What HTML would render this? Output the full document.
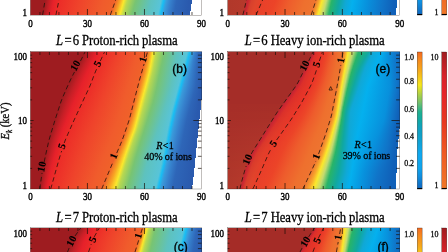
<!DOCTYPE html>
<html><head><meta charset="utf-8"><title>figure</title><style>html,body{margin:0;padding:0;background:#fff}
#w{position:relative;width:448px;height:252px;overflow:hidden;background:#fff}
.p{position:absolute}
.p i{display:block;height:1px}
svg{position:absolute;left:0;top:0}
text{font-family:"Liberation Serif",serif;fill:#000;stroke:#000;stroke-width:.25px}
.tt{font-size:12.7px;letter-spacing:-.085px}
.tk{font-size:9.3px;stroke-width:.35px}
.an{font-size:10.1px;letter-spacing:-.12px}
.cb{font-size:8.2px;stroke-width:.25px}
.yl{font-size:10.6px}
.cl{font-size:10.3px;font-weight:bold;stroke-width:.15px}
.pl{font-family:"Liberation Sans",sans-serif;font-size:12px;stroke-width:.35px}</style></head><body><div id="w">
<div class="p" style="left:30px;top:51px"><i style="opacity:.35;width:171.5px;background:linear-gradient(90deg,#9e1c20 54.8px,#c61f26 60.8px,#e6212a 66.9px,#ec2c28 74.3px,#ef432b 89.8px,#f05c2c 108.7px,#f0622a 117.4px,#f8a424 120.4px,#fbe82c 122.9px,#b8d850 126.3px,#78c472 134.1px,#5ec2be 147.1px,#58c4d8 157px,#18bef4 159.6px,#3a9ada 162.6px,#3680cc 164.6px,#2e66b8 168.6px,#2a5aae 176.2px)"></i><i style="width:171.5px;background:linear-gradient(90deg,#9e1c20 54.8px,#c61f26 60.8px,#e6212a 66.9px,#ec2c28 74.3px,#ef432b 89.8px,#f05c2c 108.7px,#f0622a 117.4px,#f8a424 120.4px,#fbe82c 122.9px,#b8d850 126.3px,#78c472 134.1px,#5ec2be 147.1px,#58c4d8 157px,#18bef4 159.6px,#3a9ada 162.6px,#3680cc 164.6px,#2e66b8 168.6px,#2a5aae 176.2px)"></i><i style="width:171.5px;background:linear-gradient(90deg,#9e1c20 54.3px,#c61f26 60.3px,#e6212a 66.4px,#ec2c28 73.8px,#ef432b 89.4px,#f05c2c 108.4px,#f0622a 117.1px,#f8a424 120.2px,#fbe82c 122.7px,#b8d850 126.1px,#78c472 133.9px,#5ec2be 146.9px,#58c4d8 156.8px,#18bef4 159.4px,#3a9ada 162.4px,#3680cc 164.4px,#2e66b8 168.6px,#2a5aae 176.1px)"></i><i style="width:171.5px;background:linear-gradient(90deg,#9e1c20 53.8px,#c61f26 59.8px,#e6212a 65.9px,#ec2c28 73.3px,#ef432b 89px,#f05c2c 108.1px,#f0622a 116.8px,#f8a424 120px,#fbe82c 122.6px,#b8d850 125.9px,#78c472 133.7px,#5ec2be 146.7px,#58c4d8 156.5px,#18bef4 159.1px,#3a9ada 162.1px,#3680cc 164.3px,#2e66b8 168.5px,#2a5aae 175.9px)"></i><i style="width:171.5px;background:linear-gradient(90deg,#9e1c20 53.3px,#c61f26 59.4px,#e6212a 65.4px,#ec2c28 72.9px,#ef432b 88.6px,#f05c2c 107.8px,#f0622a 116.5px,#f8a424 119.7px,#fbe82c 122.4px,#b8d850 125.7px,#78c472 133.5px,#5ec2be 146.6px,#58c4d8 156.3px,#18bef4 158.9px,#3a9ada 161.9px,#3680cc 164.1px,#2e66b8 168.4px,#2a5aae 175.8px)"></i><i style="width:171.5px;background:linear-gradient(90deg,#9e1c20 52.8px,#c61f26 58.9px,#e6212a 65px,#ec2c28 72.4px,#ef432b 88.2px,#f05c2c 107.5px,#f0622a 116.2px,#f8a424 119.5px,#fbe82c 122.2px,#b8d850 125.5px,#78c472 133.3px,#5ec2be 146.4px,#58c4d8 156px,#18bef4 158.6px,#3a9ada 161.6px,#3680cc 163.9px,#2e66b8 168.3px,#2a5aae 175.7px)"></i><i style="width:171.5px;background:linear-gradient(90deg,#9e1c20 52.3px,#c61f26 58.4px,#e6212a 64.5px,#ec2c28 71.9px,#ef432b 87.8px,#f05c2c 107.1px,#f0622a 115.9px,#f8a424 119.3px,#fbe82c 122.1px,#b8d850 125.4px,#78c472 133px,#5ec2be 146.2px,#58c4d8 155.7px,#18bef4 158.3px,#3a9ada 161.3px,#3680cc 163.8px,#2e66b8 168.2px,#2a5aae 175.5px)"></i><i style="width:171.5px;background:linear-gradient(90deg,#9e1c20 51.8px,#c61f26 57.9px,#e6212a 64px,#ec2c28 71.5px,#ef432b 87.4px,#f05c2c 106.8px,#f0622a 115.6px,#f8a424 119.1px,#fbe82c 121.9px,#b8d850 125.2px,#78c472 132.8px,#5ec2be 146.1px,#58c4d8 155.5px,#18bef4 158.1px,#3a9ada 161.1px,#3680cc 163.6px,#2e66b8 168.1px,#2a5aae 175.4px)"></i><i style="width:171.5px;background:linear-gradient(90deg,#9e1c20 51.3px,#c61f26 57.4px,#e6212a 63.5px,#ec2c28 71px,#ef432b 87px,#f05c2c 106.5px,#f0622a 115.4px,#f8a424 118.9px,#fbe82c 121.7px,#b8d850 125px,#78c472 132.6px,#5ec2be 145.9px,#58c4d8 155.2px,#18bef4 157.8px,#3a9ada 160.8px,#3680cc 163.4px,#2e66b8 168px,#2a5aae 175.2px)"></i><i style="width:171.5px;background:linear-gradient(90deg,#9e1c20 50.7px,#c61f26 56.9px,#e6212a 63px,#ec2c28 70.6px,#ef432b 86.6px,#f05c2c 106.2px,#f0622a 115.1px,#f8a424 118.6px,#fbe82c 121.5px,#b8d850 124.8px,#78c472 132.4px,#5ec2be 145.7px,#58c4d8 155px,#18bef4 157.6px,#3a9ada 160.6px,#3680cc 163.3px,#2e66b8 167.9px,#2a5aae 175.1px)"></i><i style="width:171.5px;background:linear-gradient(90deg,#9e1c20 50.2px,#c61f26 56.4px,#e6212a 62.5px,#ec2c28 70.1px,#ef432b 86.2px,#f05c2c 105.8px,#f0622a 114.8px,#f8a424 118.4px,#fbe82c 121.4px,#b8d850 124.6px,#78c472 132.2px,#5ec2be 145.6px,#58c4d8 154.7px,#18bef4 157.3px,#3a9ada 160.3px,#3680cc 163.1px,#2e66b8 167.9px,#2a5aae 174.9px)"></i><i style="width:171.5px;background:linear-gradient(90deg,#9e1c20 49.7px,#c61f26 55.9px,#e6212a 62px,#ec2c28 69.6px,#ef432b 85.8px,#f05c2c 105.5px,#f0622a 114.5px,#f8a424 118.2px,#fbe82c 121.2px,#b8d850 124.4px,#78c472 132px,#5ec2be 145.4px,#58c4d8 154.5px,#18bef4 157.1px,#3a9ada 160.1px,#3680cc 162.9px,#2e66b8 167.8px,#2a5aae 174.8px)"></i><i style="width:171.5px;background:linear-gradient(90deg,#9e1c20 49.1px,#c61f26 55.3px,#e6212a 61.5px,#ec2c28 69.2px,#ef432b 85.4px,#f05c2c 105.2px,#f0622a 114.2px,#f8a424 118px,#fbe82c 121px,#b8d850 124.2px,#78c472 131.8px,#5ec2be 145.2px,#58c4d8 154.2px,#18bef4 156.8px,#3a9ada 159.8px,#3680cc 162.8px,#2e66b8 167.7px,#2a5aae 174.6px)"></i><i style="width:171.5px;background:linear-gradient(90deg,#9e1c20 48.6px,#c61f26 54.8px,#e6212a 61.1px,#ec2c28 68.7px,#ef432b 85px,#f05c2c 104.9px,#f0622a 113.9px,#f8a424 117.7px,#fbe82c 120.8px,#b8d850 124.1px,#78c472 131.6px,#5ec2be 145px,#58c4d8 153.9px,#18bef4 156.5px,#3a9ada 159.5px,#3680cc 162.6px,#2e66b8 167.6px,#2a5aae 174.5px)"></i><i style="width:171.5px;background:linear-gradient(90deg,#9e1c20 48px,#c61f26 54.3px,#e6212a 60.6px,#ec2c28 68.2px,#ef432b 84.6px,#f05c2c 104.6px,#f0622a 113.6px,#f8a424 117.5px,#fbe82c 120.7px,#b8d850 123.9px,#78c472 131.3px,#5ec2be 144.9px,#58c4d8 153.7px,#18bef4 156.3px,#3a9ada 159.3px,#3680cc 162.5px,#2e66b8 167.5px,#2a5aae 174.4px)"></i><i style="width:171.5px;background:linear-gradient(90deg,#9e1c20 47.5px,#c61f26 53.8px,#e6212a 60.1px,#ec2c28 67.8px,#ef432b 84.2px,#f05c2c 104.2px,#f0622a 113.4px,#f8a424 117.3px,#fbe82c 120.5px,#b8d850 123.7px,#78c472 131.1px,#5ec2be 144.7px,#58c4d8 153.4px,#18bef4 156px,#3a9ada 159px,#3680cc 162.3px,#2e66b8 167.4px,#2a5aae 174.2px)"></i><i style="width:171.5px;background:linear-gradient(90deg,#9e1c20 46.9px,#c61f26 53.3px,#e6212a 59.6px,#ec2c28 67.3px,#ef432b 83.8px,#f05c2c 103.9px,#f0622a 113.1px,#f8a424 117.1px,#fbe82c 120.3px,#b8d850 123.5px,#78c472 130.9px,#5ec2be 144.5px,#58c4d8 153.2px,#18bef4 155.8px,#3a9ada 158.8px,#3680cc 162.1px,#2e66b8 167.3px,#2a5aae 174.1px)"></i><i style="width:171.5px;background:linear-gradient(90deg,#9e1c20 46.4px,#c61f26 52.7px,#e6212a 59.1px,#ec2c28 66.8px,#ef432b 83.4px,#f05c2c 103.6px,#f0622a 112.8px,#f8a424 116.8px,#fbe82c 120.1px,#b8d850 123.3px,#78c472 130.7px,#5ec2be 144.4px,#58c4d8 152.9px,#18bef4 155.5px,#3a9ada 158.5px,#3680cc 162px,#2e66b8 167.2px,#2a5aae 173.9px)"></i><i style="width:171.5px;background:linear-gradient(90deg,#9e1c20 45.9px,#c61f26 52.2px,#e6212a 58.6px,#ec2c28 66.4px,#ef432b 83px,#f05c2c 103.3px,#f0622a 112.5px,#f8a424 116.6px,#fbe82c 119.9px,#b8d850 123.1px,#78c472 130.5px,#5ec2be 144.2px,#58c4d8 152.7px,#18bef4 155.3px,#3a9ada 158.3px,#3680cc 161.8px,#2e66b8 167.1px,#2a5aae 173.8px)"></i><i style="width:171.5px;background:linear-gradient(90deg,#9e1c20 45.3px,#c61f26 51.7px,#e6212a 58.1px,#ec2c28 66px,#ef432b 82.6px,#f05c2c 103px,#f0622a 112.2px,#f8a424 116.3px,#fbe82c 119.7px,#b8d850 122.9px,#78c472 130.3px,#5ec2be 144px,#58c4d8 152.4px,#18bef4 155px,#3a9ada 158px,#3680cc 161.6px,#2e66b8 167.1px,#2a5aae 173.6px)"></i><i style="width:171.5px;background:linear-gradient(90deg,#9e1c20 44.8px,#c61f26 51.2px,#e6212a 57.6px,#ec2c28 65.5px,#ef432b 82.2px,#f05c2c 102.6px,#f0622a 111.9px,#f8a424 116.1px,#fbe82c 119.5px,#b8d850 122.7px,#78c472 130.1px,#5ec2be 143.9px,#58c4d8 152.2px,#18bef4 154.8px,#3a9ada 157.8px,#3680cc 161.5px,#2e66b8 167px,#2a5aae 173.5px)"></i><i style="width:171.5px;background:linear-gradient(90deg,#9e1c20 44.2px,#c61f26 50.7px,#e6212a 57.2px,#ec2c28 65.1px,#ef432b 81.9px,#f05c2c 102.3px,#f0622a 111.6px,#f8a424 115.8px,#fbe82c 119.3px,#b8d850 122.4px,#78c472 129.9px,#5ec2be 143.7px,#58c4d8 151.9px,#18bef4 154.5px,#3a9ada 157.5px,#3680cc 161.3px,#2e66b8 166.9px,#2a5aae 173.3px)"></i><i style="width:171.5px;background:linear-gradient(90deg,#9e1c20 43.7px,#c61f26 50.2px,#e6212a 56.7px,#ec2c28 64.7px,#ef432b 81.5px,#f05c2c 102px,#f0622a 111.4px,#f8a424 115.6px,#fbe82c 119px,#b8d850 122.2px,#78c472 129.7px,#5ec2be 143.5px,#58c4d8 151.6px,#18bef4 154.2px,#3a9ada 157.2px,#3680cc 161.1px,#2e66b8 166.8px,#2a5aae 173.2px)"></i><i style="width:171.5px;background:linear-gradient(90deg,#9e1c20 43.1px,#c61f26 49.7px,#e6212a 56.3px,#ec2c28 64.3px,#ef432b 81.2px,#f05c2c 101.7px,#f0622a 111.1px,#f8a424 115.3px,#fbe82c 118.7px,#b8d850 122px,#78c472 129.4px,#5ec2be 143.4px,#58c4d8 151.4px,#18bef4 154px,#3a9ada 157px,#3680cc 161px,#2e66b8 166.7px,#2a5aae 173.1px)"></i><i style="width:171.5px;background:linear-gradient(90deg,#9e1c20 42.6px,#c61f26 49.2px,#e6212a 55.8px,#ec2c28 64px,#ef432b 80.8px,#f05c2c 101.4px,#f0622a 110.8px,#f8a424 115px,#fbe82c 118.5px,#b8d850 121.7px,#78c472 129.2px,#5ec2be 143.2px,#58c4d8 151.1px,#18bef4 153.7px,#3a9ada 156.7px,#3680cc 160.8px,#2e66b8 166.6px,#2a5aae 172.9px)"></i><i style="width:171.5px;background:linear-gradient(90deg,#9e1c20 42.1px,#c61f26 48.8px,#e6212a 55.4px,#ec2c28 63.6px,#ef432b 80.5px,#f05c2c 101.1px,#f0622a 110.5px,#f8a424 114.8px,#fbe82c 118.2px,#b8d850 121.5px,#78c472 129px,#5ec2be 143px,#58c4d8 150.9px,#18bef4 153.5px,#3a9ada 156.5px,#3680cc 160.7px,#2e66b8 166.5px,#2a5aae 172.8px)"></i><i style="width:171.5px;background:linear-gradient(90deg,#9e1c20 41.6px,#c61f26 48.3px,#e6212a 55px,#ec2c28 63.2px,#ef432b 80.1px,#f05c2c 100.8px,#f0622a 110.2px,#f8a424 114.5px,#fbe82c 118px,#b8d850 121.2px,#78c472 128.8px,#5ec2be 142.8px,#58c4d8 150.6px,#18bef4 153.2px,#3a9ada 156.2px,#3680cc 160.5px,#2e66b8 166.4px,#2a5aae 172.6px)"></i><i style="width:171.5px;background:linear-gradient(90deg,#9e1c20 41.1px,#c61f26 47.9px,#e6212a 54.6px,#ec2c28 62.8px,#ef432b 79.8px,#f05c2c 100.5px,#f0622a 109.9px,#f8a424 114.2px,#fbe82c 117.7px,#b8d850 121px,#78c472 128.6px,#5ec2be 142.7px,#58c4d8 150.3px,#18bef4 152.9px,#3a9ada 155.9px,#3680cc 160.3px,#2e66b8 166.4px,#2a5aae 172.5px)"></i><i style="width:171.5px;background:linear-gradient(90deg,#9e1c20 40.6px,#c61f26 47.4px,#e6212a 54.2px,#ec2c28 62.4px,#ef432b 79.4px,#f05c2c 100.2px,#f0622a 109.7px,#f8a424 114px,#fbe82c 117.5px,#b8d850 120.7px,#78c472 128.4px,#5ec2be 142.5px,#58c4d8 150.1px,#18bef4 152.7px,#3a9ada 155.7px,#3680cc 160.1px,#2e66b8 166.3px,#2a5aae 172.3px)"></i><i style="width:171.5px;background:linear-gradient(90deg,#9e1c20 40.2px,#c61f26 47px,#e6212a 53.8px,#ec2c28 62.1px,#ef432b 79.1px,#f05c2c 99.9px,#f0622a 109.4px,#f8a424 113.7px,#fbe82c 117.2px,#b8d850 120.5px,#78c472 128.2px,#5ec2be 142.3px,#58c4d8 149.8px,#18bef4 152.4px,#3a9ada 155.4px,#3680cc 160px,#2e66b8 166.2px,#2a5aae 172.2px)"></i><i style="width:171.5px;background:linear-gradient(90deg,#9e1c20 39.7px,#c61f26 46.5px,#e6212a 53.3px,#ec2c28 61.7px,#ef432b 78.8px,#f05c2c 99.6px,#f0622a 109.1px,#f8a424 113.4px,#fbe82c 117px,#b8d850 120.3px,#78c472 128px,#5ec2be 142.2px,#58c4d8 149.5px,#18bef4 152.1px,#3a9ada 155.1px,#3680cc 159.8px,#2e66b8 166.1px,#2a5aae 172px)"></i><i style="width:171.5px;background:linear-gradient(90deg,#9e1c20 39.2px,#c61f26 46.1px,#e6212a 52.9px,#ec2c28 61.3px,#ef432b 78.4px,#f05c2c 99.3px,#f0622a 108.9px,#f8a424 113.2px,#fbe82c 116.7px,#b8d850 120px,#78c472 127.7px,#5ec2be 142px,#58c4d8 149.3px,#18bef4 151.9px,#3a9ada 154.9px,#3680cc 159.6px,#2e66b8 166px,#2a5aae 171.9px)"></i><i style="width:171.5px;background:linear-gradient(90deg,#9e1c20 38.8px,#c61f26 45.6px,#e6212a 52.5px,#ec2c28 60.9px,#ef432b 78.1px,#f05c2c 99.1px,#f0622a 108.6px,#f8a424 112.9px,#fbe82c 116.4px,#b8d850 119.8px,#78c472 127.5px,#5ec2be 141.8px,#58c4d8 149px,#18bef4 151.6px,#3a9ada 154.6px,#3680cc 159.5px,#2e66b8 165.9px,#2a5aae 171.8px)"></i><i style="width:171.5px;background:linear-gradient(90deg,#9e1c20 38.3px,#c61f26 45.2px,#e6212a 52.1px,#ec2c28 60.5px,#ef432b 77.7px,#f05c2c 98.8px,#f0622a 108.3px,#f8a424 112.6px,#fbe82c 116.2px,#b8d850 119.5px,#78c472 127.3px,#5ec2be 141.6px,#58c4d8 148.7px,#18bef4 151.3px,#3a9ada 154.3px,#3680cc 159.3px,#2e66b8 165.8px,#2a5aae 171.6px)"></i><i style="width:171.5px;background:linear-gradient(90deg,#9e1c20 37.9px,#c61f26 44.8px,#e6212a 51.7px,#ec2c28 60.1px,#ef432b 77.4px,#f05c2c 98.5px,#f0622a 108.1px,#f8a424 112.4px,#fbe82c 115.9px,#b8d850 119.3px,#78c472 127.1px,#5ec2be 141.4px,#58c4d8 148.5px,#18bef4 151.1px,#3a9ada 154.1px,#3680cc 159.1px,#2e66b8 165.6px,#2a5aae 171.5px)"></i><i style="width:171.5px;background:linear-gradient(90deg,#9e1c20 37.4px,#c61f26 44.3px,#e6212a 51.2px,#ec2c28 59.7px,#ef432b 77px,#f05c2c 98.2px,#f0622a 107.8px,#f8a424 112.1px,#fbe82c 115.6px,#b8d850 119px,#78c472 126.9px,#5ec2be 141.2px,#58c4d8 148.2px,#18bef4 150.8px,#3a9ada 153.8px,#3680cc 158.9px,#2e66b8 165.5px,#2a5aae 171.3px)"></i><i style="width:171.5px;background:linear-gradient(90deg,#9e1c20 37px,#c61f26 43.9px,#e6212a 50.8px,#ec2c28 59.3px,#ef432b 76.6px,#f05c2c 97.9px,#f0622a 107.6px,#f8a424 111.9px,#fbe82c 115.4px,#b8d850 118.8px,#78c472 126.6px,#5ec2be 140.9px,#58c4d8 147.9px,#18bef4 150.5px,#3a9ada 153.5px,#3680cc 158.6px,#2e66b8 165.3px,#2a5aae 171.2px)"></i><i style="width:171.5px;background:linear-gradient(90deg,#9e1c20 36.5px,#c61f26 43.4px,#e6212a 50.3px,#ec2c28 58.8px,#ef432b 76.3px,#f05c2c 97.6px,#f0622a 107.3px,#f8a424 111.6px,#fbe82c 115.1px,#b8d850 118.5px,#78c472 126.4px,#5ec2be 140.6px,#58c4d8 147.7px,#18bef4 150.3px,#3a9ada 153.3px,#3680cc 158.4px,#2e66b8 165px,#2a5aae 171px)"></i><i style="width:171.5px;background:linear-gradient(90deg,#9e1c20 36.1px,#c61f26 43px,#e6212a 49.9px,#ec2c28 58.3px,#ef432b 75.9px,#f05c2c 97.3px,#f0622a 107px,#f8a424 111.3px,#fbe82c 114.8px,#b8d850 118.2px,#78c472 126.2px,#5ec2be 140.3px,#58c4d8 147.4px,#18bef4 150px,#3a9ada 153px,#3680cc 158.1px,#2e66b8 164.8px,#2a5aae 170.9px)"></i><i style="width:171.5px;background:linear-gradient(90deg,#9e1c20 35.6px,#c61f26 42.5px,#e6212a 49.4px,#ec2c28 57.9px,#ef432b 75.5px,#f05c2c 97px,#f0622a 106.8px,#f8a424 111px,#fbe82c 114.5px,#b8d850 118px,#78c472 126px,#5ec2be 140px,#58c4d8 147.1px,#18bef4 149.7px,#3a9ada 152.7px,#3680cc 157.9px,#2e66b8 164.5px,#2a5aae 170.8px)"></i><i style="width:171.5px;background:linear-gradient(90deg,#9e1c20 35.2px,#c61f26 42.1px,#e6212a 49px,#ec2c28 57.4px,#ef432b 75.1px,#f05c2c 96.7px,#f0622a 106.5px,#f8a424 110.8px,#fbe82c 114.3px,#b8d850 117.7px,#78c472 125.7px,#5ec2be 139.7px,#58c4d8 146.9px,#18bef4 149.5px,#3a9ada 152.5px,#3680cc 157.6px,#2e66b8 164.2px,#2a5aae 170.6px)"></i><i style="width:171.5px;background:linear-gradient(90deg,#9e1c20 34.8px,#c61f26 41.6px,#e6212a 48.5px,#ec2c28 56.9px,#ef432b 74.7px,#f05c2c 96.4px,#f0622a 106.2px,#f8a424 110.5px,#fbe82c 114px,#b8d850 117.4px,#78c472 125.5px,#5ec2be 139.4px,#58c4d8 146.6px,#18bef4 149.2px,#3a9ada 152.2px,#3680cc 157.3px,#2e66b8 164px,#2a5aae 170.5px)"></i><i style="width:171.5px;background:linear-gradient(90deg,#9e1c20 34.3px,#c61f26 41.2px,#e6212a 48.1px,#ec2c28 56.5px,#ef432b 74.3px,#f05c2c 96.1px,#f0622a 106px,#f8a424 110.2px,#fbe82c 113.7px,#b8d850 117.2px,#78c472 125.3px,#5ec2be 139.1px,#58c4d8 146.3px,#18bef4 148.9px,#3a9ada 151.9px,#3680cc 157.1px,#2e66b8 163.7px,#2a5aae 170.3px)"></i><i style="width:171.5px;background:linear-gradient(90deg,#9e1c20 33.9px,#c61f26 40.7px,#e6212a 47.6px,#ec2c28 56px,#ef432b 73.9px,#f05c2c 95.8px,#f0622a 105.7px,#f8a424 110px,#fbe82c 113.4px,#b8d850 116.9px,#78c472 125px,#5ec2be 138.8px,#58c4d8 146.1px,#18bef4 148.7px,#3a9ada 151.7px,#3680cc 156.8px,#2e66b8 163.4px,#2a5aae 170.2px)"></i><i style="width:171.5px;background:linear-gradient(90deg,#9e1c20 33.5px,#c61f26 40.3px,#e6212a 47.1px,#ec2c28 55.5px,#ef432b 73.5px,#f05c2c 95.5px,#f0622a 105.5px,#f8a424 109.7px,#fbe82c 113.2px,#b8d850 116.6px,#78c472 124.8px,#5ec2be 138.5px,#58c4d8 145.8px,#18bef4 148.4px,#3a9ada 151.4px,#3680cc 156.5px,#2e66b8 163.2px,#2a5aae 170px)"></i><i style="width:171.5px;background:linear-gradient(90deg,#9e1c20 33px,#c61f26 39.9px,#e6212a 46.7px,#ec2c28 55.1px,#ef432b 73.1px,#f05c2c 95.2px,#f0622a 105.2px,#f8a424 109.4px,#fbe82c 112.9px,#b8d850 116.4px,#78c472 124.6px,#5ec2be 138.2px,#58c4d8 145.5px,#18bef4 148.1px,#3a9ada 151.1px,#3680cc 156.3px,#2e66b8 162.9px,#2a5aae 169.9px)"></i><i style="width:171.5px;background:linear-gradient(90deg,#9e1c20 32.6px,#c61f26 39.4px,#e6212a 46.2px,#ec2c28 54.6px,#ef432b 72.7px,#f05c2c 94.9px,#f0622a 105px,#f8a424 109.2px,#fbe82c 112.6px,#b8d850 116.1px,#78c472 124.3px,#5ec2be 137.9px,#58c4d8 145.3px,#18bef4 147.9px,#3a9ada 150.9px,#3680cc 156px,#2e66b8 162.7px,#2a5aae 169.7px)"></i><i style="width:171.5px;background:linear-gradient(90deg,#9e1c20 32.2px,#c61f26 39px,#e6212a 45.8px,#ec2c28 54.1px,#ef432b 72.3px,#f05c2c 94.6px,#f0622a 104.7px,#f8a424 108.9px,#fbe82c 112.3px,#b8d850 115.9px,#78c472 124.1px,#5ec2be 137.6px,#58c4d8 145px,#18bef4 147.6px,#3a9ada 150.6px,#3680cc 155.7px,#2e66b8 162.4px,#2a5aae 169.6px)"></i><i style="width:171.5px;background:linear-gradient(90deg,#9e1c20 31.8px,#c61f26 38.6px,#e6212a 45.3px,#ec2c28 53.6px,#ef432b 71.9px,#f05c2c 94.3px,#f0622a 104.4px,#f8a424 108.6px,#fbe82c 112.1px,#b8d850 115.6px,#78c472 123.8px,#5ec2be 137.3px,#58c4d8 144.7px,#18bef4 147.3px,#3a9ada 150.3px,#3680cc 155.5px,#2e66b8 162.1px,#2a5aae 169.5px)"></i><i style="width:171.4px;background:linear-gradient(90deg,#9e1c20 31.4px,#c61f26 38.2px,#e6212a 44.9px,#ec2c28 53.2px,#ef432b 71.5px,#f05c2c 94px,#f0622a 104.2px,#f8a424 108.4px,#fbe82c 111.8px,#b8d850 115.3px,#78c472 123.5px,#5ec2be 137px,#58c4d8 144.5px,#18bef4 147.1px,#3a9ada 150.1px,#3680cc 155.2px,#2e66b8 161.9px,#2a5aae 169.3px)"></i><i style="width:171.3px;background:linear-gradient(90deg,#9e1c20 31px,#c61f26 37.8px,#e6212a 44.5px,#ec2c28 52.7px,#ef432b 71.1px,#f05c2c 93.7px,#f0622a 103.9px,#f8a424 108.1px,#fbe82c 111.5px,#b8d850 115.1px,#78c472 123.3px,#5ec2be 136.7px,#58c4d8 144.2px,#18bef4 146.8px,#3a9ada 149.8px,#3680cc 154.9px,#2e66b8 161.6px,#2a5aae 169.2px)"></i><i style="width:171.2px;background:linear-gradient(90deg,#9e1c20 30.7px,#c61f26 37.4px,#e6212a 44.1px,#ec2c28 52.2px,#ef432b 70.8px,#f05c2c 93.4px,#f0622a 103.7px,#f8a424 107.9px,#fbe82c 111.3px,#b8d850 114.8px,#78c472 123px,#5ec2be 136.4px,#58c4d8 143.9px,#18bef4 146.5px,#3a9ada 149.5px,#3680cc 154.7px,#2e66b8 161.3px,#2a5aae 169px)"></i><i style="width:171.1px;background:linear-gradient(90deg,#9e1c20 30.4px,#c61f26 37px,#e6212a 43.6px,#ec2c28 51.8px,#ef432b 70.4px,#f05c2c 93.1px,#f0622a 103.4px,#f8a424 107.6px,#fbe82c 111px,#b8d850 114.5px,#78c472 122.7px,#5ec2be 136px,#58c4d8 143.7px,#18bef4 146.3px,#3a9ada 149.3px,#3680cc 154.4px,#2e66b8 161.1px,#2a5aae 168.9px)"></i><i style="width:171px;background:linear-gradient(90deg,#9e1c20 30px,#c61f26 36.6px,#e6212a 43.2px,#ec2c28 51.3px,#ef432b 70px,#f05c2c 92.8px,#f0622a 103.2px,#f8a424 107.4px,#fbe82c 110.8px,#b8d850 114.3px,#78c472 122.3px,#5ec2be 135.7px,#58c4d8 143.4px,#18bef4 146px,#3a9ada 149px,#3680cc 154.1px,#2e66b8 160.8px,#2a5aae 168.7px)"></i><i style="width:170.9px;background:linear-gradient(90deg,#9e1c20 29.7px,#c61f26 36.3px,#e6212a 42.8px,#ec2c28 50.8px,#ef432b 69.6px,#f05c2c 92.5px,#f0622a 102.9px,#f8a424 107.1px,#fbe82c 110.6px,#b8d850 114px,#78c472 122px,#5ec2be 135.4px,#58c4d8 143.1px,#18bef4 145.7px,#3a9ada 148.7px,#3680cc 153.9px,#2e66b8 160.5px,#2a5aae 168.6px)"></i><i style="width:170.8px;background:linear-gradient(90deg,#9e1c20 29.4px,#c61f26 35.9px,#e6212a 42.4px,#ec2c28 50.4px,#ef432b 69.2px,#f05c2c 92.2px,#f0622a 102.6px,#f8a424 106.9px,#fbe82c 110.3px,#b8d850 113.7px,#78c472 121.7px,#5ec2be 135.1px,#58c4d8 142.9px,#18bef4 145.5px,#3a9ada 148.5px,#3680cc 153.6px,#2e66b8 160.3px,#2a5aae 168.4px)"></i><i style="width:170.7px;background:linear-gradient(90deg,#9e1c20 29.1px,#c61f26 35.5px,#e6212a 42px,#ec2c28 49.9px,#ef432b 68.8px,#f05c2c 91.9px,#f0622a 102.4px,#f8a424 106.6px,#fbe82c 110.1px,#b8d850 113.5px,#78c472 121.4px,#5ec2be 134.8px,#58c4d8 142.6px,#18bef4 145.2px,#3a9ada 148.2px,#3680cc 153.3px,#2e66b8 160px,#2a5aae 168.3px)"></i><i style="width:170.6px;background:linear-gradient(90deg,#9e1c20 28.8px,#c61f26 35.2px,#e6212a 41.6px,#ec2c28 49.5px,#ef432b 68.4px,#f05c2c 91.6px,#f0622a 102.1px,#f8a424 106.4px,#fbe82c 109.8px,#b8d850 113.2px,#78c472 121.1px,#5ec2be 134.5px,#58c4d8 142.3px,#18bef4 144.9px,#3a9ada 147.9px,#3680cc 153.1px,#2e66b8 159.7px,#2a5aae 168.2px)"></i><i style="width:170.5px;background:linear-gradient(90deg,#9e1c20 28.4px,#c61f26 34.8px,#e6212a 41.2px,#ec2c28 49px,#ef432b 68px,#f05c2c 91.3px,#f0622a 101.9px,#f8a424 106.1px,#fbe82c 109.6px,#b8d850 112.9px,#78c472 120.8px,#5ec2be 134.2px,#58c4d8 142.1px,#18bef4 144.7px,#3a9ada 147.7px,#3680cc 152.8px,#2e66b8 159.5px,#2a5aae 168px)"></i><i style="width:170.3px;background:linear-gradient(90deg,#9e1c20 28.1px,#c61f26 34.4px,#e6212a 40.8px,#ec2c28 48.5px,#ef432b 67.6px,#f05c2c 91px,#f0622a 101.6px,#f8a424 105.9px,#fbe82c 109.3px,#b8d850 112.7px,#78c472 120.5px,#5ec2be 133.9px,#58c4d8 141.8px,#18bef4 144.4px,#3a9ada 147.4px,#3680cc 152.6px,#2e66b8 159.2px,#2a5aae 167.9px)"></i><i style="width:170.2px;background:linear-gradient(90deg,#9e1c20 27.8px,#c61f26 34.1px,#e6212a 40.4px,#ec2c28 48.1px,#ef432b 67.3px,#f05c2c 90.7px,#f0622a 101.4px,#f8a424 105.6px,#fbe82c 109.1px,#b8d850 112.4px,#78c472 120.2px,#5ec2be 133.6px,#58c4d8 141.6px,#18bef4 144.2px,#3a9ada 147.2px,#3680cc 152.3px,#2e66b8 158.9px,#2a5aae 167.7px)"></i><i style="width:170.1px;background:linear-gradient(90deg,#9e1c20 27.5px,#c61f26 33.7px,#e6212a 40px,#ec2c28 47.6px,#ef432b 66.9px,#f05c2c 90.4px,#f0622a 101.1px,#f8a424 105.4px,#fbe82c 108.8px,#b8d850 112.1px,#78c472 119.8px,#5ec2be 133.3px,#58c4d8 141.3px,#18bef4 143.9px,#3a9ada 146.9px,#3680cc 152px,#2e66b8 158.7px,#2a5aae 167.6px)"></i><i style="width:170px;background:linear-gradient(90deg,#9e1c20 27.1px,#c61f26 33.3px,#e6212a 39.5px,#ec2c28 47.1px,#ef432b 66.5px,#f05c2c 90.1px,#f0622a 100.9px,#f8a424 105.1px,#fbe82c 108.6px,#b8d850 111.9px,#78c472 119.5px,#5ec2be 133px,#58c4d8 141.1px,#18bef4 143.7px,#3a9ada 146.7px,#3680cc 151.8px,#2e66b8 158.4px,#2a5aae 167.4px)"></i><i style="width:169.9px;background:linear-gradient(90deg,#9e1c20 26.8px,#c61f26 33px,#e6212a 39.1px,#ec2c28 46.7px,#ef432b 66.1px,#f05c2c 89.8px,#f0622a 100.6px,#f8a424 104.9px,#fbe82c 108.3px,#b8d850 111.6px,#78c472 119.2px,#5ec2be 132.7px,#58c4d8 140.9px,#18bef4 143.5px,#3a9ada 146.5px,#3680cc 151.5px,#2e66b8 158.2px,#2a5aae 167.3px)"></i><i style="width:169.8px;background:linear-gradient(90deg,#9e1c20 26.5px,#c61f26 32.6px,#e6212a 38.7px,#ec2c28 46.2px,#ef432b 65.7px,#f05c2c 89.5px,#f0622a 100.3px,#f8a424 104.6px,#fbe82c 108.1px,#b8d850 111.3px,#78c472 118.9px,#5ec2be 132.4px,#58c4d8 140.6px,#18bef4 143.2px,#3a9ada 146.2px,#3680cc 151.3px,#2e66b8 157.9px,#2a5aae 167.1px)"></i><i style="width:169.7px;background:linear-gradient(90deg,#9e1c20 26.2px,#c61f26 32.2px,#e6212a 38.3px,#ec2c28 45.8px,#ef432b 65.3px,#f05c2c 89.2px,#f0622a 100.1px,#f8a424 104.4px,#fbe82c 107.9px,#b8d850 111.1px,#78c472 118.6px,#5ec2be 132.1px,#58c4d8 140.4px,#18bef4 143px,#3a9ada 146px,#3680cc 151.1px,#2e66b8 157.6px,#2a5aae 167px)"></i><i style="width:169.6px;background:linear-gradient(90deg,#9e1c20 25.9px,#c61f26 31.9px,#e6212a 37.9px,#ec2c28 45.3px,#ef432b 64.9px,#f05c2c 88.9px,#f0622a 99.8px,#f8a424 104.1px,#fbe82c 107.6px,#b8d850 110.8px,#78c472 118.3px,#5ec2be 131.8px,#58c4d8 140.2px,#18bef4 142.8px,#3a9ada 145.8px,#3680cc 150.8px,#2e66b8 157.4px,#2a5aae 166.9px)"></i><i style="width:169.5px;background:linear-gradient(90deg,#9e1c20 25.5px,#c61f26 31.5px,#e6212a 37.5px,#ec2c28 44.8px,#ef432b 64.5px,#f05c2c 88.6px,#f0622a 99.6px,#f8a424 103.8px,#fbe82c 107.4px,#b8d850 110.5px,#78c472 118px,#5ec2be 131.5px,#58c4d8 140px,#18bef4 142.6px,#3a9ada 145.6px,#3680cc 150.6px,#2e66b8 157.1px,#2a5aae 166.7px)"></i><i style="width:169.4px;background:linear-gradient(90deg,#9e1c20 25.2px,#c61f26 31.1px,#e6212a 37.1px,#ec2c28 44.4px,#ef432b 64.1px,#f05c2c 88.3px,#f0622a 99.3px,#f8a424 103.6px,#fbe82c 107.1px,#b8d850 110.3px,#78c472 117.7px,#5ec2be 131.1px,#58c4d8 139.8px,#18bef4 142.4px,#3a9ada 145.4px,#3680cc 150.3px,#2e66b8 156.9px,#2a5aae 166.6px)"></i><i style="width:169.2px;background:linear-gradient(90deg,#9e1c20 24.9px,#c61f26 30.8px,#e6212a 36.7px,#ec2c28 43.9px,#ef432b 63.7px,#f05c2c 88px,#f0622a 99px,#f8a424 103.3px,#fbe82c 106.9px,#b8d850 110px,#78c472 117.3px,#5ec2be 130.8px,#58c4d8 139.6px,#18bef4 142.2px,#3a9ada 145.2px,#3680cc 150.1px,#2e66b8 156.6px,#2a5aae 166.5px)"></i><i style="width:169.2px;background:linear-gradient(90deg,#9e1c20 24.6px,#c61f26 30.4px,#e6212a 36.3px,#ec2c28 43.4px,#ef432b 63.3px,#f05c2c 87.6px,#f0622a 98.7px,#f8a424 103px,#fbe82c 106.6px,#b8d850 109.7px,#78c472 117px,#5ec2be 130.5px,#58c4d8 139.3px,#18bef4 141.9px,#3a9ada 144.9px,#3680cc 149.9px,#2e66b8 156.4px,#2a5aae 166.4px)"></i><i style="width:169.1px;background:linear-gradient(90deg,#9e1c20 24.3px,#c61f26 30.1px,#e6212a 35.9px,#ec2c28 43px,#ef432b 62.9px,#f05c2c 87.3px,#f0622a 98.3px,#f8a424 102.7px,#fbe82c 106.3px,#b8d850 109.4px,#78c472 116.7px,#5ec2be 130.2px,#58c4d8 139.1px,#18bef4 141.7px,#3a9ada 144.7px,#3680cc 149.7px,#2e66b8 156.2px,#2a5aae 166.3px)"></i><i style="width:169px;background:linear-gradient(90deg,#9e1c20 24px,#c61f26 29.7px,#e6212a 35.5px,#ec2c28 42.5px,#ef432b 62.5px,#f05c2c 86.9px,#f0622a 98px,#f8a424 102.4px,#fbe82c 106.1px,#b8d850 109.2px,#78c472 116.4px,#5ec2be 129.8px,#58c4d8 138.9px,#18bef4 141.5px,#3a9ada 144.5px,#3680cc 149.5px,#2e66b8 156px,#2a5aae 166.2px)"></i><i style="width:168.9px;background:linear-gradient(90deg,#9e1c20 23.7px,#c61f26 29.4px,#e6212a 35.1px,#ec2c28 42.1px,#ef432b 62.1px,#f05c2c 86.5px,#f0622a 97.6px,#f8a424 102.1px,#fbe82c 105.8px,#b8d850 108.9px,#78c472 116.1px,#5ec2be 129.5px,#58c4d8 138.7px,#18bef4 141.3px,#3a9ada 144.3px,#3680cc 149.3px,#2e66b8 155.8px,#2a5aae 166.1px)"></i><i style="width:168.8px;background:linear-gradient(90deg,#9e1c20 23.3px,#c61f26 29px,#e6212a 34.7px,#ec2c28 41.7px,#ef432b 61.7px,#f05c2c 86.2px,#f0622a 97.3px,#f8a424 101.8px,#fbe82c 105.5px,#b8d850 108.6px,#78c472 115.7px,#5ec2be 129.2px,#58c4d8 138.5px,#18bef4 141.1px,#3a9ada 144.1px,#3680cc 149px,#2e66b8 155.6px,#2a5aae 166px)"></i><i style="width:168.7px;background:linear-gradient(90deg,#9e1c20 23px,#c61f26 28.7px,#e6212a 34.3px,#ec2c28 41.2px,#ef432b 61.3px,#f05c2c 85.8px,#f0622a 97px,#f8a424 101.5px,#fbe82c 105.3px,#b8d850 108.3px,#78c472 115.4px,#5ec2be 128.8px,#58c4d8 138.2px,#18bef4 140.8px,#3a9ada 143.8px,#3680cc 148.8px,#2e66b8 155.4px,#2a5aae 165.9px)"></i><i style="width:168.6px;background:linear-gradient(90deg,#9e1c20 22.8px,#c61f26 28.3px,#e6212a 33.9px,#ec2c28 40.8px,#ef432b 60.9px,#f05c2c 85.4px,#f0622a 96.6px,#f8a424 101.2px,#fbe82c 105px,#b8d850 108px,#78c472 115.1px,#5ec2be 128.5px,#58c4d8 138px,#18bef4 140.6px,#3a9ada 143.6px,#3680cc 148.6px,#2e66b8 155.2px,#2a5aae 165.8px)"></i><i style="width:168.5px;background:linear-gradient(90deg,#9e1c20 22.5px,#c61f26 28px,#e6212a 33.5px,#ec2c28 40.3px,#ef432b 60.5px,#f05c2c 85.1px,#f0622a 96.3px,#f8a424 100.9px,#fbe82c 104.7px,#b8d850 107.7px,#78c472 114.8px,#5ec2be 128.2px,#58c4d8 137.8px,#18bef4 140.4px,#3a9ada 143.4px,#3680cc 148.4px,#2e66b8 155px,#2a5aae 165.7px)"></i><i style="width:168.3px;background:linear-gradient(90deg,#9e1c20 22.1px,#c61f26 27.7px,#e6212a 33.2px,#ec2c28 39.9px,#ef432b 60.1px,#f05c2c 84.7px,#f0622a 95.9px,#f8a424 100.6px,#fbe82c 104.3px,#b8d850 107.4px,#78c472 114.5px,#5ec2be 127.8px,#58c4d8 137.6px,#18bef4 140.2px,#3a9ada 143.2px,#3680cc 148.2px,#2e66b8 154.7px,#2a5aae 165.6px)"></i><i style="width:168.2px;background:linear-gradient(90deg,#9e1c20 21.8px,#c61f26 27.3px,#e6212a 32.8px,#ec2c28 39.5px,#ef432b 59.7px,#f05c2c 84.4px,#f0622a 95.6px,#f8a424 100.2px,#fbe82c 104px,#b8d850 107.1px,#78c472 114.1px,#5ec2be 127.5px,#58c4d8 137.4px,#18bef4 140px,#3a9ada 143px,#3680cc 148px,#2e66b8 154.5px,#2a5aae 165.5px)"></i><i style="width:168.2px;background:linear-gradient(90deg,#9e1c20 21.6px,#c61f26 27px,#e6212a 32.4px,#ec2c28 39px,#ef432b 59.3px,#f05c2c 84px,#f0622a 95.2px,#f8a424 99.9px,#fbe82c 103.7px,#b8d850 106.7px,#78c472 113.8px,#5ec2be 127.2px,#58c4d8 137.2px,#18bef4 139.8px,#3a9ada 142.8px,#3680cc 147.8px,#2e66b8 154.3px,#2a5aae 165.4px)"></i><i style="width:168.1px;background:linear-gradient(90deg,#9e1c20 21.2px,#c61f26 26.6px,#e6212a 32px,#ec2c28 38.6px,#ef432b 58.8px,#f05c2c 83.6px,#f0622a 94.9px,#f8a424 99.5px,#fbe82c 103.3px,#b8d850 106.4px,#78c472 113.5px,#5ec2be 126.8px,#58c4d8 137.1px,#18bef4 139.7px,#3a9ada 142.7px,#3680cc 147.6px,#2e66b8 154.1px,#2a5aae 165.3px)"></i><i style="width:167.9px;background:linear-gradient(90deg,#9e1c20 20.9px,#c61f26 26.3px,#e6212a 31.6px,#ec2c28 38.1px,#ef432b 58.4px,#f05c2c 83.3px,#f0622a 94.5px,#f8a424 99.2px,#fbe82c 102.9px,#b8d850 106px,#78c472 113.2px,#5ec2be 126.5px,#58c4d8 136.9px,#18bef4 139.5px,#3a9ada 142.5px,#3680cc 147.4px,#2e66b8 153.9px,#2a5aae 165.2px)"></i><i style="width:167.8px;background:linear-gradient(90deg,#9e1c20 20.6px,#c61f26 25.9px,#e6212a 31.2px,#ec2c28 37.7px,#ef432b 58px,#f05c2c 82.9px,#f0622a 94.2px,#f8a424 98.8px,#fbe82c 102.5px,#b8d850 105.6px,#78c472 112.9px,#5ec2be 126.2px,#58c4d8 136.7px,#18bef4 139.3px,#3a9ada 142.3px,#3680cc 147.2px,#2e66b8 153.7px,#2a5aae 165.1px)"></i><i style="width:167.8px;background:linear-gradient(90deg,#9e1c20 20.4px,#c61f26 25.6px,#e6212a 30.8px,#ec2c28 37.2px,#ef432b 57.6px,#f05c2c 82.5px,#f0622a 93.9px,#f8a424 98.4px,#fbe82c 102.2px,#b8d850 105.3px,#78c472 112.5px,#5ec2be 125.8px,#58c4d8 136.5px,#18bef4 139.1px,#3a9ada 142.1px,#3680cc 147px,#2e66b8 153.5px,#2a5aae 165px)"></i><i style="width:167.7px;background:linear-gradient(90deg,#9e1c20 20px,#c61f26 25.2px,#e6212a 30.4px,#ec2c28 36.8px,#ef432b 57.2px,#f05c2c 82.2px,#f0622a 93.5px,#f8a424 98.1px,#fbe82c 101.8px,#b8d850 104.9px,#78c472 112.2px,#5ec2be 125.5px,#58c4d8 136.3px,#18bef4 138.9px,#3a9ada 141.9px,#3680cc 146.8px,#2e66b8 153.3px,#2a5aae 164.9px)"></i><i style="width:167.6px;background:linear-gradient(90deg,#9e1c20 19.8px,#c61f26 24.9px,#e6212a 30.1px,#ec2c28 36.4px,#ef432b 56.8px,#f05c2c 81.8px,#f0622a 93.2px,#f8a424 97.7px,#fbe82c 101.4px,#b8d850 104.6px,#78c472 111.9px,#5ec2be 125.2px,#58c4d8 136.1px,#18bef4 138.7px,#3a9ada 141.7px,#3680cc 146.6px,#2e66b8 153.1px,#2a5aae 164.9px)"></i><i style="width:167.4px;background:linear-gradient(90deg,#9e1c20 19.5px,#c61f26 24.6px,#e6212a 29.7px,#ec2c28 35.9px,#ef432b 56.4px,#f05c2c 81.4px,#f0622a 92.8px,#f8a424 97.3px,#fbe82c 101.1px,#b8d850 104.2px,#78c472 111.6px,#5ec2be 124.8px,#58c4d8 136px,#18bef4 138.6px,#3a9ada 141.6px,#3680cc 146.4px,#2e66b8 152.9px,#2a5aae 164.8px)"></i><i style="width:167.3px;background:linear-gradient(90deg,#9e1c20 19.2px,#c61f26 24.3px,#e6212a 29.3px,#ec2c28 35.5px,#ef432b 56px,#f05c2c 81px,#f0622a 92.4px,#f8a424 97px,#fbe82c 100.7px,#b8d850 103.9px,#78c472 111.3px,#5ec2be 124.5px,#58c4d8 135.8px,#18bef4 138.4px,#3a9ada 141.4px,#3680cc 146.2px,#2e66b8 152.7px,#2a5aae 164.7px)"></i><i style="width:167.2px;background:linear-gradient(90deg,#9e1c20 18.9px,#c61f26 24px,#e6212a 29px,#ec2c28 35.1px,#ef432b 55.6px,#f05c2c 80.7px,#f0622a 92px,#f8a424 96.6px,#fbe82c 100.3px,#b8d850 103.5px,#78c472 111px,#5ec2be 124.2px,#58c4d8 135.6px,#18bef4 138.2px,#3a9ada 141.2px,#3680cc 146.1px,#2e66b8 152.5px,#2a5aae 164.6px)"></i><i style="width:167.2px;background:linear-gradient(90deg,#9e1c20 18.7px,#c61f26 23.7px,#e6212a 28.7px,#ec2c28 34.8px,#ef432b 55.2px,#f05c2c 80.3px,#f0622a 91.6px,#f8a424 96.2px,#fbe82c 100px,#b8d850 103.2px,#78c472 110.6px,#5ec2be 123.8px,#58c4d8 135.4px,#18bef4 138px,#3a9ada 141px,#3680cc 145.9px,#2e66b8 152.3px,#2a5aae 164.5px)"></i><i style="width:167.1px;background:linear-gradient(90deg,#9e1c20 18.4px,#c61f26 23.4px,#e6212a 28.3px,#ec2c28 34.4px,#ef432b 54.9px,#f05c2c 79.9px,#f0622a 91.2px,#f8a424 95.9px,#fbe82c 99.6px,#b8d850 102.8px,#78c472 110.3px,#5ec2be 123.5px,#58c4d8 135.2px,#18bef4 137.8px,#3a9ada 140.8px,#3680cc 145.7px,#2e66b8 152.1px,#2a5aae 164.4px)"></i><i style="width:166.9px;background:linear-gradient(90deg,#9e1c20 18.2px,#c61f26 23.1px,#e6212a 28px,#ec2c28 34.1px,#ef432b 54.5px,#f05c2c 79.5px,#f0622a 90.8px,#f8a424 95.5px,#fbe82c 99.3px,#b8d850 102.5px,#78c472 110px,#5ec2be 123.2px,#58c4d8 135px,#18bef4 137.6px,#3a9ada 140.6px,#3680cc 145.5px,#2e66b8 151.9px,#2a5aae 164.3px)"></i><i style="width:166.8px;background:linear-gradient(90deg,#9e1c20 18px,#c61f26 22.9px,#e6212a 27.8px,#ec2c28 33.7px,#ef432b 54.1px,#f05c2c 79.1px,#f0622a 90.4px,#f8a424 95.1px,#fbe82c 99px,#b8d850 102.2px,#78c472 109.7px,#5ec2be 122.8px,#58c4d8 134.9px,#18bef4 137.5px,#3a9ada 140.5px,#3680cc 145.3px,#2e66b8 151.7px,#2a5aae 164.2px)"></i><i style="width:166.8px;background:linear-gradient(90deg,#9e1c20 17.8px,#c61f26 22.6px,#e6212a 27.5px,#ec2c28 33.4px,#ef432b 53.8px,#f05c2c 78.7px,#f0622a 90px,#f8a424 94.7px,#fbe82c 98.6px,#b8d850 101.8px,#78c472 109.4px,#5ec2be 122.5px,#58c4d8 134.7px,#18bef4 137.3px,#3a9ada 140.3px,#3680cc 145.1px,#2e66b8 151.5px,#2a5aae 164.1px)"></i><i style="width:166.7px;background:linear-gradient(90deg,#9e1c20 17.5px,#c61f26 22.4px,#e6212a 27.2px,#ec2c28 33.1px,#ef432b 53.4px,#f05c2c 78.3px,#f0622a 89.5px,#f8a424 94.3px,#fbe82c 98.3px,#b8d850 101.5px,#78c472 109px,#5ec2be 122.2px,#58c4d8 134.5px,#18bef4 137.1px,#3a9ada 140.1px,#3680cc 144.9px,#2e66b8 151.2px,#2a5aae 164px)"></i><i style="width:166.5px;background:linear-gradient(90deg,#9e1c20 17.3px,#c61f26 22.1px,#e6212a 26.9px,#ec2c28 32.8px,#ef432b 53.1px,#f05c2c 77.8px,#f0622a 89.1px,#f8a424 94px,#fbe82c 97.9px,#b8d850 101.2px,#78c472 108.7px,#5ec2be 121.8px,#58c4d8 134.3px,#18bef4 136.9px,#3a9ada 139.9px,#3680cc 144.7px,#2e66b8 151px,#2a5aae 163.9px)"></i><i style="width:166.4px;background:linear-gradient(90deg,#9e1c20 17.1px,#c61f26 21.9px,#e6212a 26.6px,#ec2c28 32.5px,#ef432b 52.7px,#f05c2c 77.4px,#f0622a 88.7px,#f8a424 93.6px,#fbe82c 97.6px,#b8d850 100.8px,#78c472 108.4px,#5ec2be 121.5px,#58c4d8 134.1px,#18bef4 136.7px,#3a9ada 139.7px,#3680cc 144.5px,#2e66b8 150.8px,#2a5aae 163.8px)"></i><i style="width:166.3px;background:linear-gradient(90deg,#9e1c20 16.9px,#c61f26 21.6px,#e6212a 26.3px,#ec2c28 32.1px,#ef432b 52.3px,#f05c2c 77px,#f0622a 88.3px,#f8a424 93.2px,#fbe82c 97.2px,#b8d850 100.5px,#78c472 108.1px,#5ec2be 121.2px,#58c4d8 133.9px,#18bef4 136.5px,#3a9ada 139.5px,#3680cc 144.3px,#2e66b8 150.6px,#2a5aae 163.7px)"></i><i style="width:166.2px;background:linear-gradient(90deg,#9e1c20 16.6px,#c61f26 21.3px,#e6212a 26px,#ec2c28 31.8px,#ef432b 52px,#f05c2c 76.6px,#f0622a 87.8px,#f8a424 92.8px,#fbe82c 96.9px,#b8d850 100.2px,#78c472 107.8px,#5ec2be 120.8px,#58c4d8 133.8px,#18bef4 136.4px,#3a9ada 139.4px,#3680cc 144.1px,#2e66b8 150.4px,#2a5aae 163.6px)"></i><i style="width:166.1px;background:linear-gradient(90deg,#9e1c20 16.4px,#c61f26 21.1px,#e6212a 25.8px,#ec2c28 31.5px,#ef432b 51.6px,#f05c2c 76.2px,#f0622a 87.4px,#f8a424 92.4px,#fbe82c 96.5px,#b8d850 99.8px,#78c472 107.4px,#5ec2be 120.5px,#58c4d8 133.6px,#18bef4 136.2px,#3a9ada 139.2px,#3680cc 143.9px,#2e66b8 150.2px,#2a5aae 163.5px)"></i><i style="width:166px;background:linear-gradient(90deg,#9e1c20 16.2px,#c61f26 20.8px,#e6212a 25.5px,#ec2c28 31.2px,#ef432b 51.3px,#f05c2c 75.8px,#f0622a 87px,#f8a424 92.1px,#fbe82c 96.2px,#b8d850 99.5px,#78c472 107.1px,#5ec2be 120.2px,#58c4d8 133.4px,#18bef4 136px,#3a9ada 139px,#3680cc 143.7px,#2e66b8 150px,#2a5aae 163.4px)"></i><i style="width:165.9px;background:linear-gradient(90deg,#9e1c20 16px,#c61f26 20.6px,#e6212a 25.2px,#ec2c28 30.8px,#ef432b 50.9px,#f05c2c 75.4px,#f0622a 86.6px,#f8a424 91.7px,#fbe82c 95.9px,#b8d850 99.1px,#78c472 106.8px,#5ec2be 119.8px,#58c4d8 133.2px,#18bef4 135.8px,#3a9ada 138.8px,#3680cc 143.5px,#2e66b8 149.8px,#2a5aae 163.3px)"></i><i style="width:165.8px;background:linear-gradient(90deg,#9e1c20 15.7px,#c61f26 20.3px,#e6212a 24.9px,#ec2c28 30.5px,#ef432b 50.5px,#f05c2c 75px,#f0622a 86.1px,#f8a424 91.3px,#fbe82c 95.5px,#b8d850 98.8px,#78c472 106.5px,#5ec2be 119.5px,#58c4d8 133px,#18bef4 135.6px,#3a9ada 138.6px,#3680cc 143.3px,#2e66b8 149.6px,#2a5aae 163.2px)"></i><i style="width:165.8px;background:linear-gradient(90deg,#9e1c20 15.5px,#c61f26 20.1px,#e6212a 24.6px,#ec2c28 30.2px,#ef432b 50.2px,#f05c2c 74.6px,#f0622a 85.7px,#f8a424 90.9px,#fbe82c 95.2px,#b8d850 98.5px,#78c472 106.2px,#5ec2be 119.2px,#58c4d8 132.8px,#18bef4 135.4px,#3a9ada 138.4px,#3680cc 143.1px,#2e66b8 149.4px,#2a5aae 163.2px)"></i><i style="width:165.6px;background:linear-gradient(90deg,#9e1c20 15.3px,#c61f26 19.8px,#e6212a 24.4px,#ec2c28 29.9px,#ef432b 49.8px,#f05c2c 74.2px,#f0622a 85.3px,#f8a424 90.6px,#fbe82c 94.9px,#b8d850 98.2px,#78c472 105.9px,#5ec2be 118.9px,#58c4d8 132.7px,#18bef4 135.3px,#3a9ada 138.3px,#3680cc 142.9px,#2e66b8 149.2px,#2a5aae 163.1px)"></i><i style="width:165.5px;background:linear-gradient(90deg,#9e1c20 15.1px,#c61f26 19.6px,#e6212a 24.1px,#ec2c28 29.6px,#ef432b 49.5px,#f05c2c 73.8px,#f0622a 84.9px,#f8a424 90.2px,#fbe82c 94.5px,#b8d850 97.9px,#78c472 105.6px,#5ec2be 118.7px,#58c4d8 132.5px,#18bef4 135.1px,#3a9ada 138.1px,#3680cc 142.7px,#2e66b8 149px,#2a5aae 163px)"></i><i style="width:165.4px;background:linear-gradient(90deg,#9e1c20 14.9px,#c61f26 19.3px,#e6212a 23.8px,#ec2c28 29.3px,#ef432b 49.1px,#f05c2c 73.4px,#f0622a 84.4px,#f8a424 89.8px,#fbe82c 94.2px,#b8d850 97.5px,#78c472 105.3px,#5ec2be 118.4px,#58c4d8 132.3px,#18bef4 134.9px,#3a9ada 137.9px,#3680cc 142.5px,#2e66b8 148.8px,#2a5aae 162.9px)"></i><i style="width:165.3px;background:linear-gradient(90deg,#9e1c20 14.7px,#c61f26 19.1px,#e6212a 23.6px,#ec2c28 29px,#ef432b 48.8px,#f05c2c 73px,#f0622a 84px,#f8a424 89.5px,#fbe82c 93.9px,#b8d850 97.2px,#78c472 105px,#5ec2be 118.2px,#58c4d8 132.1px,#18bef4 134.7px,#3a9ada 137.7px,#3680cc 142.3px,#2e66b8 148.6px,#2a5aae 162.8px)"></i><i style="width:165.2px;background:linear-gradient(90deg,#9e1c20 14.5px,#c61f26 18.9px,#e6212a 23.3px,#ec2c28 28.7px,#ef432b 48.5px,#f05c2c 72.6px,#f0622a 83.6px,#f8a424 89.1px,#fbe82c 93.6px,#b8d850 96.9px,#78c472 104.8px,#5ec2be 117.9px,#58c4d8 131.9px,#18bef4 134.5px,#3a9ada 137.5px,#3680cc 142.1px,#2e66b8 148.4px,#2a5aae 162.7px)"></i><i style="width:165.1px;background:linear-gradient(90deg,#9e1c20 14.3px,#c61f26 18.6px,#e6212a 23px,#ec2c28 28.4px,#ef432b 48.1px,#f05c2c 72.2px,#f0622a 83.2px,#f8a424 88.7px,#fbe82c 93.3px,#b8d850 96.6px,#78c472 104.5px,#5ec2be 117.7px,#58c4d8 131.7px,#18bef4 134.3px,#3a9ada 137.3px,#3680cc 141.9px,#2e66b8 148.2px,#2a5aae 162.6px)"></i><i style="width:165px;background:linear-gradient(90deg,#9e1c20 14.1px,#c61f26 18.4px,#e6212a 22.8px,#ec2c28 28.1px,#ef432b 47.8px,#f05c2c 71.8px,#f0622a 82.8px,#f8a424 88.4px,#fbe82c 93px,#b8d850 96.3px,#78c472 104.2px,#5ec2be 117.4px,#58c4d8 131.6px,#18bef4 134.2px,#3a9ada 137.2px,#3680cc 141.7px,#2e66b8 148px,#2a5aae 162.5px)"></i><i style="width:164.9px;background:linear-gradient(90deg,#9e1c20 13.8px,#c61f26 18.2px,#e6212a 22.5px,#ec2c28 27.9px,#ef432b 47.5px,#f05c2c 71.4px,#f0622a 82.3px,#f8a424 88px,#fbe82c 92.6px,#b8d850 96px,#78c472 104px,#5ec2be 117.2px,#58c4d8 131.4px,#18bef4 134px,#3a9ada 137px,#3680cc 141.5px,#2e66b8 147.7px,#2a5aae 162.4px)"></i><i style="width:164.8px;background:linear-gradient(90deg,#9e1c20 13.6px,#c61f26 18px,#e6212a 22.3px,#ec2c28 27.6px,#ef432b 47.1px,#f05c2c 71.1px,#f0622a 81.9px,#f8a424 87.6px,#fbe82c 92.3px,#b8d850 95.7px,#78c472 103.7px,#5ec2be 116.9px,#58c4d8 131.2px,#18bef4 133.8px,#3a9ada 136.8px,#3680cc 141.3px,#2e66b8 147.5px,#2a5aae 162.3px)"></i><i style="width:164.7px;background:linear-gradient(90deg,#9e1c20 13.4px,#c61f26 17.7px,#e6212a 22px,#ec2c28 27.3px,#ef432b 46.8px,#f05c2c 70.7px,#f0622a 81.5px,#f8a424 87.3px,#fbe82c 92px,#b8d850 95.4px,#78c472 103.4px,#5ec2be 116.7px,#58c4d8 130.9px,#18bef4 133.5px,#3a9ada 136.5px,#3680cc 141.1px,#2e66b8 147.3px,#2a5aae 162.2px)"></i><i style="width:164.6px;background:linear-gradient(90deg,#9e1c20 13.2px,#c61f26 17.5px,#e6212a 21.8px,#ec2c28 27px,#ef432b 46.5px,#f05c2c 70.3px,#f0622a 81.1px,#f8a424 86.9px,#fbe82c 91.7px,#b8d850 95.1px,#78c472 103.1px,#5ec2be 116.5px,#58c4d8 130.7px,#18bef4 133.3px,#3a9ada 136.3px,#3680cc 140.9px,#2e66b8 147.1px,#2a5aae 162.1px)"></i><i style="width:164.5px;background:linear-gradient(90deg,#9e1c20 13px,#c61f26 17.3px,#e6212a 21.5px,#ec2c28 26.7px,#ef432b 46.2px,#f05c2c 69.9px,#f0622a 80.7px,#f8a424 86.6px,#fbe82c 91.4px,#b8d850 94.8px,#78c472 102.9px,#5ec2be 116.2px,#58c4d8 130.5px,#18bef4 133.1px,#3a9ada 136.1px,#3680cc 140.7px,#2e66b8 146.9px,#2a5aae 162px)"></i><i style="width:164.4px;background:linear-gradient(90deg,#9e1c20 12.8px,#c61f26 17.1px,#e6212a 21.3px,#ec2c28 26.5px,#ef432b 45.8px,#f05c2c 69.5px,#f0622a 80.3px,#f8a424 86.2px,#fbe82c 91.1px,#b8d850 94.5px,#78c472 102.6px,#5ec2be 116px,#58c4d8 130.3px,#18bef4 132.9px,#3a9ada 135.9px,#3680cc 140.5px,#2e66b8 146.7px,#2a5aae 161.9px)"></i><i style="width:164.3px;background:linear-gradient(90deg,#9e1c20 12.6px,#c61f26 16.8px,#e6212a 21px,#ec2c28 26.2px,#ef432b 45.5px,#f05c2c 69.1px,#f0622a 79.8px,#f8a424 85.8px,#fbe82c 90.7px,#b8d850 94.2px,#78c472 102.3px,#5ec2be 115.7px,#58c4d8 130px,#18bef4 132.6px,#3a9ada 135.6px,#3680cc 140.3px,#2e66b8 146.5px,#2a5aae 161.8px)"></i><i style="width:164.2px;background:linear-gradient(90deg,#9e1c20 12.5px,#c61f26 16.6px,#e6212a 20.8px,#ec2c28 25.9px,#ef432b 45.2px,#f05c2c 68.7px,#f0622a 79.4px,#f8a424 85.5px,#fbe82c 90.4px,#b8d850 93.9px,#78c472 102px,#5ec2be 115.5px,#58c4d8 129.8px,#18bef4 132.4px,#3a9ada 135.4px,#3680cc 140px,#2e66b8 146.3px,#2a5aae 161.7px)"></i><i style="width:164.1px;background:linear-gradient(90deg,#9e1c20 12.3px,#c61f26 16.4px,#e6212a 20.6px,#ec2c28 25.6px,#ef432b 44.8px,#f05c2c 68.3px,#f0622a 79px,#f8a424 85.1px,#fbe82c 90.1px,#b8d850 93.6px,#78c472 101.8px,#5ec2be 115.2px,#58c4d8 129.6px,#18bef4 132.2px,#3a9ada 135.2px,#3680cc 139.8px,#2e66b8 146.1px,#2a5aae 161.6px)"></i><i style="width:164px;background:linear-gradient(90deg,#9e1c20 12.1px,#c61f26 16.2px,#e6212a 20.3px,#ec2c28 25.3px,#ef432b 44.5px,#f05c2c 67.9px,#f0622a 78.6px,#f8a424 84.8px,#fbe82c 89.8px,#b8d850 93.3px,#78c472 101.5px,#5ec2be 115px,#58c4d8 129.3px,#18bef4 131.9px,#3a9ada 134.9px,#3680cc 139.6px,#2e66b8 145.9px,#2a5aae 161.6px)"></i><i style="width:163.9px;background:linear-gradient(90deg,#9e1c20 12px,#c61f26 16px,#e6212a 20.1px,#ec2c28 25px,#ef432b 44.2px,#f05c2c 67.5px,#f0622a 78.2px,#f8a424 84.4px,#fbe82c 89.5px,#b8d850 93px,#78c472 101.2px,#5ec2be 114.8px,#58c4d8 129.1px,#18bef4 131.7px,#3a9ada 134.7px,#3680cc 139.4px,#2e66b8 145.7px,#2a5aae 161.5px)"></i><i style="width:163.8px;background:linear-gradient(90deg,#9e1c20 11.8px,#c61f26 15.8px,#e6212a 19.9px,#ec2c28 24.8px,#ef432b 43.8px,#f05c2c 67.2px,#f0622a 77.7px,#f8a424 84px,#fbe82c 89.2px,#b8d850 92.7px,#78c472 101px,#5ec2be 114.5px,#58c4d8 128.8px,#18bef4 131.4px,#3a9ada 134.4px,#3680cc 139.2px,#2e66b8 145.5px,#2a5aae 161.4px)"></i><i style="width:163.7px;background:linear-gradient(90deg,#9e1c20 11.7px,#c61f26 15.7px,#e6212a 19.6px,#ec2c28 24.5px,#ef432b 43.5px,#f05c2c 66.8px,#f0622a 77.3px,#f8a424 83.7px,#fbe82c 88.9px,#b8d850 92.4px,#78c472 100.7px,#5ec2be 114.3px,#58c4d8 128.6px,#18bef4 131.2px,#3a9ada 134.2px,#3680cc 138.9px,#2e66b8 145.3px,#2a5aae 161.3px)"></i><i style="width:163.5px;background:linear-gradient(90deg,#9e1c20 11.5px,#c61f26 15.5px,#e6212a 19.4px,#ec2c28 24.2px,#ef432b 43.2px,#f05c2c 66.4px,#f0622a 76.9px,#f8a424 83.3px,#fbe82c 88.5px,#b8d850 92.1px,#78c472 100.4px,#5ec2be 114px,#58c4d8 128.4px,#18bef4 131px,#3a9ada 134px,#3680cc 138.7px,#2e66b8 145.1px,#2a5aae 161.2px)"></i><i style="width:163.4px;background:linear-gradient(90deg,#9e1c20 11.4px,#c61f26 15.3px,#e6212a 19.2px,#ec2c28 23.9px,#ef432b 42.9px,#f05c2c 66px,#f0622a 76.5px,#f8a424 82.9px,#fbe82c 88.2px,#b8d850 91.8px,#78c472 100.1px,#5ec2be 113.8px,#58c4d8 128.1px,#18bef4 130.7px,#3a9ada 133.7px,#3680cc 138.5px,#2e66b8 144.9px,#2a5aae 161.1px)"></i><i style="width:163.3px;background:linear-gradient(90deg,#9e1c20 11.2px,#c61f26 15.1px,#e6212a 18.9px,#ec2c28 23.6px,#ef432b 42.5px,#f05c2c 65.6px,#f0622a 76.1px,#f8a424 82.6px,#fbe82c 87.9px,#b8d850 91.5px,#78c472 99.9px,#5ec2be 113.5px,#58c4d8 127.9px,#18bef4 130.5px,#3a9ada 133.5px,#3680cc 138.3px,#2e66b8 144.7px,#2a5aae 161px)"></i><i style="width:163.2px;background:linear-gradient(90deg,#9e1c20 11.1px,#c61f26 14.9px,#e6212a 18.7px,#ec2c28 23.4px,#ef432b 42.2px,#f05c2c 65.2px,#f0622a 75.7px,#f8a424 82.2px,#fbe82c 87.6px,#b8d850 91.2px,#78c472 99.6px,#5ec2be 113.3px,#58c4d8 127.7px,#18bef4 130.3px,#3a9ada 133.3px,#3680cc 138.1px,#2e66b8 144.5px,#2a5aae 160.9px)"></i><i style="width:163px;background:linear-gradient(90deg,#9e1c20 11px,#c61f26 14.7px,#e6212a 18.5px,#ec2c28 23.1px,#ef432b 41.9px,#f05c2c 64.8px,#f0622a 75.2px,#f8a424 81.9px,#fbe82c 87.3px,#b8d850 90.9px,#78c472 99.3px,#5ec2be 113.1px,#58c4d8 127.4px,#18bef4 130px,#3a9ada 133px,#3680cc 137.8px,#2e66b8 144.2px,#2a5aae 160.8px)"></i><i style="width:162.9px;background:linear-gradient(90deg,#9e1c20 10.8px,#c61f26 14.5px,#e6212a 18.2px,#ec2c28 22.8px,#ef432b 41.5px,#f05c2c 64.4px,#f0622a 74.8px,#f8a424 81.5px,#fbe82c 87px,#b8d850 90.6px,#78c472 99px,#5ec2be 112.8px,#58c4d8 127.2px,#18bef4 129.8px,#3a9ada 132.8px,#3680cc 137.6px,#2e66b8 144px,#2a5aae 160.7px)"></i><i style="width:162.8px;background:linear-gradient(90deg,#9e1c20 10.7px,#c61f26 14.3px,#e6212a 18px,#ec2c28 22.5px,#ef432b 41.2px,#f05c2c 64px,#f0622a 74.4px,#f8a424 81.1px,#fbe82c 86.6px,#b8d850 90.3px,#78c472 98.8px,#5ec2be 112.6px,#58c4d8 126.9px,#18bef4 129.5px,#3a9ada 132.5px,#3680cc 137.4px,#2e66b8 143.8px,#2a5aae 160.6px)"></i><i style="width:162.7px;background:linear-gradient(90deg,#9e1c20 10.5px,#c61f26 14.1px,#e6212a 17.8px,#ec2c28 22.2px,#ef432b 40.9px,#f05c2c 63.6px,#f0622a 74px,#f8a424 80.8px,#fbe82c 86.3px,#b8d850 90px,#78c472 98.5px,#5ec2be 112.3px,#58c4d8 126.7px,#18bef4 129.3px,#3a9ada 132.3px,#3680cc 137.2px,#2e66b8 143.6px,#2a5aae 160.5px)"></i><i style="width:162.6px;background:linear-gradient(90deg,#9e1c20 10.4px,#c61f26 14px,#e6212a 17.6px,#ec2c28 22px,#ef432b 40.5px,#f05c2c 63.3px,#f0622a 73.6px,#f8a424 80.4px,#fbe82c 86px,#b8d850 89.7px,#78c472 98.2px,#5ec2be 112.1px,#58c4d8 126.5px,#18bef4 129.1px,#3a9ada 132.1px,#3680cc 137px,#2e66b8 143.4px,#2a5aae 160.4px)"></i><i style="width:162.4px;background:linear-gradient(90deg,#9e1c20 10.2px,#c61f26 13.8px,#e6212a 17.3px,#ec2c28 21.7px,#ef432b 40.2px,#f05c2c 62.9px,#f0622a 73.2px,#f8a424 80.1px,#fbe82c 85.7px,#b8d850 89.4px,#78c472 98px,#5ec2be 111.8px,#58c4d8 126.2px,#18bef4 128.8px,#3a9ada 131.8px,#3680cc 136.7px,#2e66b8 143.2px,#2a5aae 160.3px)"></i><i style="width:162.3px;background:linear-gradient(90deg,#9e1c20 10.1px,#c61f26 13.6px,#e6212a 17.1px,#ec2c28 21.4px,#ef432b 39.9px,#f05c2c 62.5px,#f0622a 72.7px,#f8a424 79.7px,#fbe82c 85.4px,#b8d850 89.1px,#78c472 97.7px,#5ec2be 111.6px,#58c4d8 126px,#18bef4 128.6px,#3a9ada 131.6px,#3680cc 136.5px,#2e66b8 143px,#2a5aae 160.2px)"></i><i style="width:162.2px;background:linear-gradient(90deg,#9e1c20 9.9px,#c61f26 13.4px,#e6212a 16.9px,#ec2c28 21.1px,#ef432b 39.6px,#f05c2c 62.1px,#f0622a 72.3px,#f8a424 79.3px,#fbe82c 85.1px,#b8d850 88.8px,#78c472 97.4px,#5ec2be 111.4px,#58c4d8 125.8px,#18bef4 128.4px,#3a9ada 131.4px,#3680cc 136.3px,#2e66b8 142.8px,#2a5aae 160.1px)"></i><i style="width:162.1px;background:linear-gradient(90deg,#9e1c20 9.8px,#c61f26 13.2px,#e6212a 16.6px,#ec2c28 20.8px,#ef432b 39.2px,#f05c2c 61.7px,#f0622a 71.9px,#f8a424 79px,#fbe82c 84.8px,#b8d850 88.5px,#78c472 97.1px,#5ec2be 111.1px,#58c4d8 125.5px,#18bef4 128.1px,#3a9ada 131.1px,#3680cc 136.1px,#2e66b8 142.6px,#2a5aae 160px)"></i></div>
<div class="p" style="left:30px;top:0px"><i style="width:161.9px;background:linear-gradient(90deg,#9e1c20 15px,#c61f26 19.3px,#e6212a 23.6px,#ec2c28 28.9px,#ef432b 49.3px,#f05c2c 74.2px,#f0622a 85.5px,#f8a424 90.1px,#fbe82c 93.9px,#b8d850 97.4px,#78c472 105.8px,#5ec2be 120.8px,#58c4d8 131px,#18bef4 133.6px,#3a9ada 136.6px,#3680cc 140.7px,#2e66b8 146.5px,#2a5aae 158.9px)"></i><i style="width:161.8px;background:linear-gradient(90deg,#9e1c20 14.8px,#c61f26 19.1px,#e6212a 23.4px,#ec2c28 28.7px,#ef432b 49px,#f05c2c 73.9px,#f0622a 85.2px,#f8a424 89.8px,#fbe82c 93.6px,#b8d850 97.1px,#78c472 105.5px,#5ec2be 120.5px,#58c4d8 130.8px,#18bef4 133.4px,#3a9ada 136.4px,#3680cc 140.5px,#2e66b8 146.3px,#2a5aae 158.8px)"></i><i style="width:161.7px;background:linear-gradient(90deg,#9e1c20 14.7px,#c61f26 19px,#e6212a 23.2px,#ec2c28 28.5px,#ef432b 48.8px,#f05c2c 73.5px,#f0622a 84.8px,#f8a424 89.5px,#fbe82c 93.3px,#b8d850 96.9px,#78c472 105.2px,#5ec2be 120.2px,#58c4d8 130.6px,#18bef4 133.2px,#3a9ada 136.2px,#3680cc 140.3px,#2e66b8 146.2px,#2a5aae 158.7px)"></i><i style="width:161.5px;background:linear-gradient(90deg,#9e1c20 14.5px,#c61f26 18.8px,#e6212a 23px,#ec2c28 28.3px,#ef432b 48.5px,#f05c2c 73.2px,#f0622a 84.4px,#f8a424 89.2px,#fbe82c 93px,#b8d850 96.6px,#78c472 104.9px,#5ec2be 120px,#58c4d8 130.4px,#18bef4 133px,#3a9ada 136px,#3680cc 140.1px,#2e66b8 146px,#2a5aae 158.5px)"></i><i style="width:161.4px;background:linear-gradient(90deg,#9e1c20 14.3px,#c61f26 18.6px,#e6212a 22.9px,#ec2c28 28.1px,#ef432b 48.2px,#f05c2c 72.9px,#f0622a 84.1px,#f8a424 88.8px,#fbe82c 92.7px,#b8d850 96.3px,#78c472 104.6px,#5ec2be 119.7px,#58c4d8 130.1px,#18bef4 132.7px,#3a9ada 135.7px,#3680cc 139.9px,#2e66b8 145.8px,#2a5aae 158.4px)"></i><i style="width:161.2px;background:linear-gradient(90deg,#9e1c20 14.2px,#c61f26 18.4px,#e6212a 22.7px,#ec2c28 27.9px,#ef432b 48px,#f05c2c 72.5px,#f0622a 83.7px,#f8a424 88.5px,#fbe82c 92.5px,#b8d850 96px,#78c472 104.3px,#5ec2be 119.5px,#58c4d8 129.9px,#18bef4 132.5px,#3a9ada 135.5px,#3680cc 139.7px,#2e66b8 145.6px,#2a5aae 158.3px)"></i><i style="width:161.1px;background:linear-gradient(90deg,#9e1c20 14px,#c61f26 18.2px,#e6212a 22.5px,#ec2c28 27.7px,#ef432b 47.7px,#f05c2c 72.2px,#f0622a 83.4px,#f8a424 88.2px,#fbe82c 92.2px,#b8d850 95.7px,#78c472 104px,#5ec2be 119.2px,#58c4d8 129.7px,#18bef4 132.3px,#3a9ada 135.3px,#3680cc 139.6px,#2e66b8 145.5px,#2a5aae 158.1px)"></i><i style="width:160.9px;background:linear-gradient(90deg,#9e1c20 13.8px,#c61f26 18.1px,#e6212a 22.3px,#ec2c28 27.4px,#ef432b 47.4px,#f05c2c 71.9px,#f0622a 83px,#f8a424 87.9px,#fbe82c 91.9px,#b8d850 95.5px,#78c472 103.8px,#5ec2be 119px,#58c4d8 129.5px,#18bef4 132.1px,#3a9ada 135.1px,#3680cc 139.4px,#2e66b8 145.3px,#2a5aae 158px)"></i><i style="width:160.8px;background:linear-gradient(90deg,#9e1c20 13.7px,#c61f26 17.9px,#e6212a 22.1px,#ec2c28 27.2px,#ef432b 47.2px,#f05c2c 71.6px,#f0622a 82.6px,#f8a424 87.6px,#fbe82c 91.6px,#b8d850 95.2px,#78c472 103.5px,#5ec2be 118.7px,#58c4d8 129.3px,#18bef4 131.9px,#3a9ada 134.9px,#3680cc 139.2px,#2e66b8 145.1px,#2a5aae 157.9px)"></i><i style="width:160.7px;background:linear-gradient(90deg,#9e1c20 13.5px,#c61f26 17.7px,#e6212a 21.9px,#ec2c28 27px,#ef432b 46.9px,#f05c2c 71.2px,#f0622a 82.3px,#f8a424 87.3px,#fbe82c 91.3px,#b8d850 94.9px,#78c472 103.2px,#5ec2be 118.4px,#58c4d8 129.1px,#18bef4 131.7px,#3a9ada 134.7px,#3680cc 139px,#2e66b8 145px,#2a5aae 157.7px)"></i><i style="width:160.5px;background:linear-gradient(90deg,#9e1c20 13.4px,#c61f26 17.5px,#e6212a 21.7px,#ec2c28 26.8px,#ef432b 46.7px,#f05c2c 70.9px,#f0622a 81.9px,#f8a424 86.9px,#fbe82c 91.1px,#b8d850 94.6px,#78c472 102.9px,#5ec2be 118.2px,#58c4d8 128.9px,#18bef4 131.5px,#3a9ada 134.5px,#3680cc 138.8px,#2e66b8 144.8px,#2a5aae 157.6px)"></i><i style="width:160.4px;background:linear-gradient(90deg,#9e1c20 13.2px,#c61f26 17.3px,#e6212a 21.5px,#ec2c28 26.6px,#ef432b 46.4px,#f05c2c 70.6px,#f0622a 81.6px,#f8a424 86.6px,#fbe82c 90.8px,#b8d850 94.3px,#78c472 102.6px,#5ec2be 117.9px,#58c4d8 128.6px,#18bef4 131.2px,#3a9ada 134.2px,#3680cc 138.6px,#2e66b8 144.6px,#2a5aae 157.5px)"></i><i style="width:160.2px;background:linear-gradient(90deg,#9e1c20 13px,#c61f26 17.2px,#e6212a 21.3px,#ec2c28 26.4px,#ef432b 46.1px,#f05c2c 70.2px,#f0622a 81.2px,#f8a424 86.3px,#fbe82c 90.5px,#b8d850 94px,#78c472 102.3px,#5ec2be 117.7px,#58c4d8 128.4px,#18bef4 131px,#3a9ada 134px,#3680cc 138.4px,#2e66b8 144.4px,#2a5aae 157.3px)"></i><i style="width:160.1px;background:linear-gradient(90deg,#9e1c20 12.8px,#c61f26 17px,#e6212a 21.1px,#ec2c28 26.2px,#ef432b 45.9px,#f05c2c 69.9px,#f0622a 80.8px,#f8a424 86px,#fbe82c 90.2px,#b8d850 93.8px,#78c472 102px,#5ec2be 117.4px,#58c4d8 128.2px,#18bef4 130.8px,#3a9ada 133.8px,#3680cc 138.2px,#2e66b8 144.3px,#2a5aae 157.2px)"></i><i style="width:160px;background:linear-gradient(90deg,#9e1c20 12.7px,#c61f26 16.8px,#e6212a 20.9px,#ec2c28 26px,#ef432b 45.6px,#f05c2c 69.6px,#f0622a 80.5px,#f8a424 85.7px,#fbe82c 89.9px,#b8d850 93.5px,#78c472 101.7px,#5ec2be 117.1px,#58c4d8 128px,#18bef4 130.6px,#3a9ada 133.6px,#3680cc 138px,#2e66b8 144.1px,#2a5aae 157.1px)"></i></div>
<div class="p" style="left:30px;top:228px"><i style="width:171.5px;background:linear-gradient(90deg,#9e1c20 50.3px,#c61f26 56.1px,#e6212a 61.9px,#ec2c28 69px,#ef432b 84.6px,#f05c2c 103.7px,#f0622a 112.3px,#f8a424 114.7px,#fbe82c 116.7px,#b8d850 119.3px,#78c472 125.3px,#5ec2be 140.9px,#58c4d8 153.7px,#18bef4 156.3px,#3a9ada 159.3px,#3680cc 162.1px,#2e66b8 166.9px,#2a5aae 175.9px)"></i><i style="width:171.5px;background:linear-gradient(90deg,#9e1c20 49.6px,#c61f26 55.5px,#e6212a 61.3px,#ec2c28 68.4px,#ef432b 84.1px,#f05c2c 103.3px,#f0622a 112px,#f8a424 114.4px,#fbe82c 116.4px,#b8d850 119px,#78c472 125.1px,#5ec2be 140.7px,#58c4d8 153.5px,#18bef4 156.1px,#3a9ada 159.1px,#3680cc 161.9px,#2e66b8 166.7px,#2a5aae 175.8px)"></i><i style="width:171.5px;background:linear-gradient(90deg,#9e1c20 48.9px,#c61f26 54.8px,#e6212a 60.7px,#ec2c28 67.9px,#ef432b 83.6px,#f05c2c 102.9px,#f0622a 111.7px,#f8a424 114.1px,#fbe82c 116.1px,#b8d850 118.7px,#78c472 124.8px,#5ec2be 140.5px,#58c4d8 153.2px,#18bef4 155.8px,#3a9ada 158.8px,#3680cc 161.7px,#2e66b8 166.6px,#2a5aae 175.6px)"></i><i style="width:171.5px;background:linear-gradient(90deg,#9e1c20 48.2px,#c61f26 54.1px,#e6212a 60px,#ec2c28 67.3px,#ef432b 83.2px,#f05c2c 102.6px,#f0622a 111.4px,#f8a424 113.9px,#fbe82c 115.9px,#b8d850 118.5px,#78c472 124.6px,#5ec2be 140.3px,#58c4d8 153px,#18bef4 155.6px,#3a9ada 158.6px,#3680cc 161.6px,#2e66b8 166.4px,#2a5aae 175.4px)"></i><i style="width:171.5px;background:linear-gradient(90deg,#9e1c20 47.5px,#c61f26 53.4px,#e6212a 59.4px,#ec2c28 66.7px,#ef432b 82.7px,#f05c2c 102.2px,#f0622a 111.1px,#f8a424 113.6px,#fbe82c 115.6px,#b8d850 118.2px,#78c472 124.4px,#5ec2be 140.1px,#58c4d8 152.8px,#18bef4 155.4px,#3a9ada 158.4px,#3680cc 161.4px,#2e66b8 166.2px,#2a5aae 175.2px)"></i><i style="width:171.5px;background:linear-gradient(90deg,#9e1c20 46.8px,#c61f26 52.8px,#e6212a 58.8px,#ec2c28 66.1px,#ef432b 82.2px,#f05c2c 101.8px,#f0622a 110.8px,#f8a424 113.3px,#fbe82c 115.3px,#b8d850 118px,#78c472 124.2px,#5ec2be 139.9px,#58c4d8 152.6px,#18bef4 155.2px,#3a9ada 158.2px,#3680cc 161.2px,#2e66b8 166.1px,#2a5aae 175.1px)"></i><i style="width:171.5px;background:linear-gradient(90deg,#9e1c20 46px,#c61f26 52.1px,#e6212a 58.1px,#ec2c28 65.5px,#ef432b 81.7px,#f05c2c 101.5px,#f0622a 110.5px,#f8a424 113px,#fbe82c 115.1px,#b8d850 117.7px,#78c472 123.9px,#5ec2be 139.6px,#58c4d8 152.3px,#18bef4 154.9px,#3a9ada 157.9px,#3680cc 161px,#2e66b8 165.9px,#2a5aae 174.9px)"></i><i style="width:171.5px;background:linear-gradient(90deg,#9e1c20 45.3px,#c61f26 51.4px,#e6212a 57.5px,#ec2c28 65px,#ef432b 81.2px,#f05c2c 101.1px,#f0622a 110.2px,#f8a424 112.7px,#fbe82c 114.8px,#b8d850 117.5px,#78c472 123.7px,#5ec2be 139.4px,#58c4d8 152.1px,#18bef4 154.7px,#3a9ada 157.7px,#3680cc 160.8px,#2e66b8 165.7px,#2a5aae 174.7px)"></i><i style="width:171.5px;background:linear-gradient(90deg,#9e1c20 44.6px,#c61f26 50.7px,#e6212a 56.9px,#ec2c28 64.4px,#ef432b 80.8px,#f05c2c 100.8px,#f0622a 109.8px,#f8a424 112.4px,#fbe82c 114.5px,#b8d850 117.2px,#78c472 123.5px,#5ec2be 139.2px,#58c4d8 151.9px,#18bef4 154.5px,#3a9ada 157.5px,#3680cc 160.6px,#2e66b8 165.6px,#2a5aae 174.6px)"></i><i style="width:171.5px;background:linear-gradient(90deg,#9e1c20 43.9px,#c61f26 50.1px,#e6212a 56.3px,#ec2c28 63.8px,#ef432b 80.3px,#f05c2c 100.4px,#f0622a 109.5px,#f8a424 112.1px,#fbe82c 114.3px,#b8d850 117px,#78c472 123.3px,#5ec2be 139px,#58c4d8 151.7px,#18bef4 154.3px,#3a9ada 157.3px,#3680cc 160.4px,#2e66b8 165.4px,#2a5aae 174.4px)"></i><i style="width:171.5px;background:linear-gradient(90deg,#9e1c20 43.2px,#c61f26 49.5px,#e6212a 55.7px,#ec2c28 63.3px,#ef432b 79.9px,#f05c2c 100px,#f0622a 109.2px,#f8a424 111.8px,#fbe82c 114px,#b8d850 116.7px,#78c472 123px,#5ec2be 138.8px,#58c4d8 151.4px,#18bef4 154px,#3a9ada 157px,#3680cc 160.2px,#2e66b8 165.2px,#2a5aae 174.2px)"></i><i style="width:171.5px;background:linear-gradient(90deg,#9e1c20 42.6px,#c61f26 48.9px,#e6212a 55.2px,#ec2c28 62.9px,#ef432b 79.4px,#f05c2c 99.7px,#f0622a 108.9px,#f8a424 111.6px,#fbe82c 113.7px,#b8d850 116.5px,#78c472 122.8px,#5ec2be 138.6px,#58c4d8 151.2px,#18bef4 153.8px,#3a9ada 156.8px,#3680cc 160px,#2e66b8 165.1px,#2a5aae 174.1px)"></i><i style="width:171.5px;background:linear-gradient(90deg,#9e1c20 42px,#c61f26 48.3px,#e6212a 54.7px,#ec2c28 62.4px,#ef432b 79.1px,#f05c2c 99.4px,#f0622a 108.6px,#f8a424 111.3px,#fbe82c 113.5px,#b8d850 116.2px,#78c472 122.6px,#5ec2be 138.4px,#58c4d8 151px,#18bef4 153.6px,#3a9ada 156.6px,#3680cc 159.8px,#2e66b8 164.9px,#2a5aae 173.9px)"></i><i style="width:171.5px;background:linear-gradient(90deg,#9e1c20 41.5px,#c61f26 47.9px,#e6212a 54.2px,#ec2c28 62.1px,#ef432b 78.7px,#f05c2c 99px,#f0622a 108.3px,#f8a424 111px,#fbe82c 113.2px,#b8d850 115.9px,#78c472 122.4px,#5ec2be 138.2px,#58c4d8 150.8px,#18bef4 153.4px,#3a9ada 156.4px,#3680cc 159.6px,#2e66b8 164.7px,#2a5aae 173.7px)"></i><i style="width:171.5px;background:linear-gradient(90deg,#9e1c20 41px,#c61f26 47.4px,#e6212a 53.8px,#ec2c28 61.7px,#ef432b 78.4px,#f05c2c 98.7px,#f0622a 108px,#f8a424 110.7px,#fbe82c 112.9px,#b8d850 115.7px,#78c472 122.1px,#5ec2be 138px,#58c4d8 150.5px,#18bef4 153.1px,#3a9ada 156.1px,#3680cc 159.4px,#2e66b8 164.6px,#2a5aae 173.6px)"></i><i style="width:171.5px;background:linear-gradient(90deg,#9e1c20 40.6px,#c61f26 47.1px,#e6212a 53.5px,#ec2c28 61.4px,#ef432b 78px,#f05c2c 98.4px,#f0622a 107.7px,#f8a424 110.4px,#fbe82c 112.7px,#b8d850 115.4px,#78c472 121.9px,#5ec2be 137.8px,#58c4d8 150.3px,#18bef4 152.9px,#3a9ada 155.9px,#3680cc 159.2px,#2e66b8 164.4px,#2a5aae 173.4px)"></i><i style="width:171.5px;background:linear-gradient(90deg,#9e1c20 40.3px,#c61f26 46.7px,#e6212a 53.2px,#ec2c28 61.1px,#ef432b 77.7px,#f05c2c 98.1px,#f0622a 107.3px,#f8a424 110.1px,#fbe82c 112.4px,#b8d850 115.2px,#78c472 121.7px,#5ec2be 137.6px,#58c4d8 150.1px,#18bef4 152.7px,#3a9ada 155.7px,#3680cc 159px,#2e66b8 164.2px,#2a5aae 173.2px)"></i><i style="width:171.5px;background:linear-gradient(90deg,#9e1c20 39.9px,#c61f26 46.4px,#e6212a 52.9px,#ec2c28 60.8px,#ef432b 77.4px,#f05c2c 97.8px,#f0622a 107px,#f8a424 109.8px,#fbe82c 112.1px,#b8d850 114.9px,#78c472 121.5px,#5ec2be 137.4px,#58c4d8 149.9px,#18bef4 152.5px,#3a9ada 155.5px,#3680cc 158.9px,#2e66b8 164.1px,#2a5aae 173.1px)"></i><i style="width:171.5px;background:linear-gradient(90deg,#9e1c20 39.6px,#c61f26 46.1px,#e6212a 52.5px,#ec2c28 60.4px,#ef432b 77.1px,#f05c2c 97.5px,#f0622a 106.7px,#f8a424 109.6px,#fbe82c 111.9px,#b8d850 114.7px,#78c472 121.2px,#5ec2be 137.1px,#58c4d8 149.6px,#18bef4 152.2px,#3a9ada 155.2px,#3680cc 158.7px,#2e66b8 163.9px,#2a5aae 172.9px)"></i><i style="width:171.5px;background:linear-gradient(90deg,#9e1c20 39.3px,#c61f26 45.7px,#e6212a 52.2px,#ec2c28 60.1px,#ef432b 76.8px,#f05c2c 97.1px,#f0622a 106.4px,#f8a424 109.3px,#fbe82c 111.6px,#b8d850 114.4px,#78c472 121px,#5ec2be 136.9px,#58c4d8 149.4px,#18bef4 152px,#3a9ada 155px,#3680cc 158.5px,#2e66b8 163.8px,#2a5aae 172.7px)"></i><i style="width:171.5px;background:linear-gradient(90deg,#9e1c20 38.9px,#c61f26 45.4px,#e6212a 51.8px,#ec2c28 59.8px,#ef432b 76.4px,#f05c2c 96.8px,#f0622a 106.1px,#f8a424 109px,#fbe82c 111.3px,#b8d850 114.2px,#78c472 120.8px,#5ec2be 136.7px,#58c4d8 149.2px,#18bef4 151.8px,#3a9ada 154.8px,#3680cc 158.3px,#2e66b8 163.6px,#2a5aae 172.6px)"></i><i style="width:171.5px;background:linear-gradient(90deg,#9e1c20 38.5px,#c61f26 45px,#e6212a 51.5px,#ec2c28 59.4px,#ef432b 76.1px,#f05c2c 96.5px,#f0622a 105.8px,#f8a424 108.7px,#fbe82c 111.1px,#b8d850 113.9px,#78c472 120.6px,#5ec2be 136.5px,#58c4d8 149px,#18bef4 151.6px,#3a9ada 154.6px,#3680cc 158.1px,#2e66b8 163.4px,#2a5aae 172.4px)"></i><i style="width:171.5px;background:linear-gradient(90deg,#9e1c20 38.1px,#c61f26 44.6px,#e6212a 51.1px,#ec2c28 59.1px,#ef432b 75.8px,#f05c2c 96.2px,#f0622a 105.5px,#f8a424 108.4px,#fbe82c 110.8px,#b8d850 113.7px,#78c472 120.3px,#5ec2be 136.3px,#58c4d8 148.7px,#18bef4 151.3px,#3a9ada 154.3px,#3680cc 157.9px,#2e66b8 163.2px,#2a5aae 172.2px)"></i><i style="width:171.5px;background:linear-gradient(90deg,#9e1c20 37.7px,#c61f26 44.2px,#e6212a 50.7px,#ec2c28 58.7px,#ef432b 75.4px,#f05c2c 95.9px,#f0622a 105.2px,#f8a424 108.1px,#fbe82c 110.5px,#b8d850 113.4px,#78c472 120.1px,#5ec2be 136.1px,#58c4d8 148.5px,#18bef4 151.1px,#3a9ada 154.1px,#3680cc 157.7px,#2e66b8 163.1px,#2a5aae 172.1px)"></i></div>
<div class="p" style="left:227px;top:51px"><i style="opacity:.35;width:172.7px;background:linear-gradient(90deg,#a52d28 0.7px,#a52d28 85.2px,#c82432 87.2px,#dc2e2a 88.9px,#e23428 92px,#ea3428 95.1px,#ec4428 100.3px,#ee5c2c 105.5px,#ee702e 111.8px,#ee7430 115.9px,#f8a82c 118.7px,#fbe82c 120.9px,#c4da70 125.6px,#28b468 131.3px,#10a8a0 141.4px,#10a8d6 146.2px,#04b0ee 154.6px,#0890dc 160.9px,#1074c8 169px,#1060b8 178.2px)"></i><i style="width:172.7px;background:linear-gradient(90deg,#a52d28 0.7px,#a52d28 85.2px,#c82432 87.2px,#dc2e2a 88.9px,#e23428 92px,#ea3428 95.1px,#ec4428 100.3px,#ee5c2c 105.5px,#ee702e 111.8px,#ee7430 115.9px,#f8a82c 118.7px,#fbe82c 120.9px,#c4da70 125.6px,#28b468 131.3px,#10a8a0 141.4px,#10a8d6 146.2px,#04b0ee 154.6px,#0890dc 160.9px,#1074c8 169px,#1060b8 178.2px)"></i><i style="width:172.7px;background:linear-gradient(90deg,#a52d28 0.7px,#a52d28 84.7px,#c82432 86.7px,#dc2e2a 88.4px,#e23428 91.6px,#ea3428 94.8px,#ec4428 100px,#ee5c2c 105.3px,#ee702e 111.6px,#ee7430 115.7px,#f8a82c 118.5px,#fbe82c 120.7px,#c4da70 125.3px,#28b468 131px,#10a8a0 140.8px,#10a8d6 145.7px,#04b0ee 154.2px,#0890dc 161px,#1074c8 169px,#1060b8 178.1px)"></i><i style="width:172.7px;background:linear-gradient(90deg,#a52d28 0.7px,#a52d28 84.2px,#c82432 86.2px,#dc2e2a 88px,#e23428 91.2px,#ea3428 94.5px,#ec4428 99.8px,#ee5c2c 105px,#ee702e 111.4px,#ee7430 115.6px,#f8a82c 118.3px,#fbe82c 120.5px,#c4da70 125.1px,#28b468 130.6px,#10a8a0 140.2px,#10a8d6 145.1px,#04b0ee 153.8px,#0890dc 161px,#1074c8 169px,#1060b8 177.9px)"></i><i style="width:172.7px;background:linear-gradient(90deg,#a52d28 0.7px,#a52d28 83.7px,#c82432 85.7px,#dc2e2a 87.6px,#e23428 90.8px,#ea3428 94.2px,#ec4428 99.5px,#ee5c2c 104.8px,#ee702e 111.2px,#ee7430 115.4px,#f8a82c 118.1px,#fbe82c 120.4px,#c4da70 124.8px,#28b468 130.3px,#10a8a0 139.6px,#10a8d6 144.6px,#04b0ee 153.4px,#0890dc 161.1px,#1074c8 169px,#1060b8 177.8px)"></i><i style="width:172.7px;background:linear-gradient(90deg,#a52d28 0.7px,#a52d28 83.3px,#c82432 85.3px,#dc2e2a 87.2px,#e23428 90.5px,#ea3428 93.8px,#ec4428 99.2px,#ee5c2c 104.5px,#ee702e 111px,#ee7430 115.2px,#f8a82c 118px,#fbe82c 120.2px,#c4da70 124.5px,#28b468 129.9px,#10a8a0 139.1px,#10a8d6 144px,#04b0ee 153px,#0890dc 161.2px,#1074c8 169.1px,#1060b8 177.7px)"></i><i style="width:172.7px;background:linear-gradient(90deg,#a52d28 0.7px,#a52d28 82.8px,#c82432 84.8px,#dc2e2a 86.7px,#e23428 90.1px,#ea3428 93.5px,#ec4428 98.9px,#ee5c2c 104.3px,#ee702e 110.8px,#ee7430 115.1px,#f8a82c 117.8px,#fbe82c 120px,#c4da70 124.3px,#28b468 129.5px,#10a8a0 138.5px,#10a8d6 143.5px,#04b0ee 152.6px,#0890dc 161.2px,#1074c8 169.1px,#1060b8 177.6px)"></i><i style="width:172.7px;background:linear-gradient(90deg,#a52d28 0.7px,#a52d28 82.3px,#c82432 84.3px,#dc2e2a 86.3px,#e23428 89.7px,#ea3428 93.2px,#ec4428 98.6px,#ee5c2c 104.1px,#ee702e 110.6px,#ee7430 114.9px,#f8a82c 117.6px,#fbe82c 119.8px,#c4da70 124px,#28b468 129.2px,#10a8a0 137.9px,#10a8d6 143px,#04b0ee 152.2px,#0890dc 161.3px,#1074c8 169.1px,#1060b8 177.5px)"></i><i style="width:172.7px;background:linear-gradient(90deg,#a52d28 0.7px,#a52d28 81.8px,#c82432 83.8px,#dc2e2a 85.9px,#e23428 89.3px,#ea3428 92.9px,#ec4428 98.3px,#ee5c2c 103.8px,#ee702e 110.4px,#ee7430 114.7px,#f8a82c 117.4px,#fbe82c 119.6px,#c4da70 123.8px,#28b468 128.8px,#10a8a0 137.4px,#10a8d6 142.4px,#04b0ee 151.8px,#0890dc 161.3px,#1074c8 169.2px,#1060b8 177.4px)"></i><i style="width:172.7px;background:linear-gradient(90deg,#a52d28 0.7px,#a52d28 81.4px,#c82432 83.4px,#dc2e2a 85.5px,#e23428 89px,#ea3428 92.6px,#ec4428 98.1px,#ee5c2c 103.6px,#ee702e 110.2px,#ee7430 114.6px,#f8a82c 117.2px,#fbe82c 119.4px,#c4da70 123.5px,#28b468 128.5px,#10a8a0 136.8px,#10a8d6 141.9px,#04b0ee 151.4px,#0890dc 161.4px,#1074c8 169.2px,#1060b8 177.3px)"></i><i style="width:172.7px;background:linear-gradient(90deg,#a52d28 0.7px,#a52d28 80.9px,#c82432 82.9px,#dc2e2a 85px,#e23428 88.6px,#ea3428 92.2px,#ec4428 97.8px,#ee5c2c 103.3px,#ee702e 110px,#ee7430 114.4px,#f8a82c 117.1px,#fbe82c 119.2px,#c4da70 123.2px,#28b468 128.1px,#10a8a0 136.2px,#10a8d6 141.4px,#04b0ee 151px,#0890dc 161.5px,#1074c8 169.2px,#1060b8 177.2px)"></i><i style="width:172.7px;background:linear-gradient(90deg,#a52d28 0.7px,#a52d28 80.4px,#c82432 82.4px,#dc2e2a 84.6px,#e23428 88.2px,#ea3428 91.9px,#ec4428 97.5px,#ee5c2c 103.1px,#ee702e 109.8px,#ee7430 114.2px,#f8a82c 116.9px,#fbe82c 119.1px,#c4da70 123px,#28b468 127.8px,#10a8a0 135.7px,#10a8d6 140.9px,#04b0ee 150.5px,#0890dc 161.5px,#1074c8 169.3px,#1060b8 177.1px)"></i><i style="width:172.7px;background:linear-gradient(90deg,#a52d28 0.7px,#a52d28 79.9px,#c82432 81.9px,#dc2e2a 84.2px,#e23428 87.8px,#ea3428 91.6px,#ec4428 97.2px,#ee5c2c 102.8px,#ee702e 109.6px,#ee7430 114.1px,#f8a82c 116.7px,#fbe82c 118.9px,#c4da70 122.7px,#28b468 127.4px,#10a8a0 135.2px,#10a8d6 140.4px,#04b0ee 150.1px,#0890dc 161.6px,#1074c8 169.3px,#1060b8 177px)"></i><i style="width:172.7px;background:linear-gradient(90deg,#a52d28 0.7px,#a52d28 79.5px,#c82432 81.5px,#dc2e2a 83.8px,#e23428 87.5px,#ea3428 91.3px,#ec4428 96.9px,#ee5c2c 102.6px,#ee702e 109.4px,#ee7430 113.9px,#f8a82c 116.5px,#fbe82c 118.7px,#c4da70 122.5px,#28b468 127.1px,#10a8a0 134.7px,#10a8d6 139.9px,#04b0ee 149.7px,#0890dc 161.7px,#1074c8 169.3px,#1060b8 176.9px)"></i><i style="width:172.7px;background:linear-gradient(90deg,#a52d28 0.7px,#a52d28 79px,#c82432 81px,#dc2e2a 83.3px,#e23428 87.1px,#ea3428 90.9px,#ec4428 96.6px,#ee5c2c 102.3px,#ee702e 109.2px,#ee7430 113.7px,#f8a82c 116.4px,#fbe82c 118.5px,#c4da70 122.2px,#28b468 126.7px,#10a8a0 134.2px,#10a8d6 139.5px,#04b0ee 149.3px,#0890dc 161.7px,#1074c8 169.4px,#1060b8 176.8px)"></i><i style="width:172.7px;background:linear-gradient(90deg,#a52d28 0.7px,#a52d28 78.5px,#c82432 80.5px,#dc2e2a 82.9px,#e23428 86.7px,#ea3428 90.6px,#ec4428 96.4px,#ee5c2c 102.1px,#ee702e 109px,#ee7430 113.6px,#f8a82c 116.2px,#fbe82c 118.3px,#c4da70 122px,#28b468 126.4px,#10a8a0 133.7px,#10a8d6 139px,#04b0ee 148.9px,#0890dc 161.8px,#1074c8 169.4px,#1060b8 176.7px)"></i><i style="width:172.7px;background:linear-gradient(90deg,#a52d28 0.7px,#a52d28 78px,#c82432 80px,#dc2e2a 82.4px,#e23428 86.3px,#ea3428 90.3px,#ec4428 96.1px,#ee5c2c 101.8px,#ee702e 108.8px,#ee7430 113.4px,#f8a82c 116px,#fbe82c 118.1px,#c4da70 121.7px,#28b468 126.1px,#10a8a0 133.3px,#10a8d6 138.6px,#04b0ee 148.5px,#0890dc 161.8px,#1074c8 169.4px,#1060b8 176.6px)"></i><i style="width:172.7px;background:linear-gradient(90deg,#a52d28 0.7px,#a52d28 77.4px,#c82432 79.4px,#dc2e2a 82px,#e23428 85.9px,#ea3428 90px,#ec4428 95.8px,#ee5c2c 101.6px,#ee702e 108.6px,#ee7430 113.2px,#f8a82c 115.8px,#fbe82c 117.9px,#c4da70 121.5px,#28b468 125.8px,#10a8a0 132.8px,#10a8d6 138.2px,#04b0ee 148.1px,#0890dc 161.9px,#1074c8 169.5px,#1060b8 176.5px)"></i><i style="width:172.7px;background:linear-gradient(90deg,#a52d28 0.7px,#a52d28 76.9px,#c82432 78.9px,#dc2e2a 81.5px,#e23428 85.5px,#ea3428 89.7px,#ec4428 95.5px,#ee5c2c 101.4px,#ee702e 108.4px,#ee7430 113.1px,#f8a82c 115.6px,#fbe82c 117.8px,#c4da70 121.2px,#28b468 125.4px,#10a8a0 132.4px,#10a8d6 137.9px,#04b0ee 147.7px,#0890dc 162px,#1074c8 169.5px,#1060b8 176.4px)"></i><i style="width:172.7px;background:linear-gradient(90deg,#a52d28 0.7px,#a52d28 76.4px,#c82432 78.4px,#dc2e2a 81.1px,#e23428 85.1px,#ea3428 89.3px,#ec4428 95.2px,#ee5c2c 101.1px,#ee702e 108.2px,#ee7430 112.9px,#f8a82c 115.5px,#fbe82c 117.6px,#c4da70 121px,#28b468 125.1px,#10a8a0 131.9px,#10a8d6 137.5px,#04b0ee 147.3px,#0890dc 162px,#1074c8 169.5px,#1060b8 176.2px)"></i><i style="width:172.7px;background:linear-gradient(90deg,#a52d28 0.7px,#a52d28 75.9px,#c82432 77.9px,#dc2e2a 80.6px,#e23428 84.7px,#ea3428 89px,#ec4428 94.9px,#ee5c2c 100.9px,#ee702e 108px,#ee7430 112.7px,#f8a82c 115.3px,#fbe82c 117.4px,#c4da70 120.7px,#28b468 124.8px,#10a8a0 131.5px,#10a8d6 137.1px,#04b0ee 146.9px,#0890dc 162.1px,#1074c8 169.5px,#1060b8 176.1px)"></i><i style="width:172.7px;background:linear-gradient(90deg,#a52d28 0.7px,#a52d28 75.4px,#c82432 77.4px,#dc2e2a 80.2px,#e23428 84.4px,#ea3428 88.7px,#ec4428 94.6px,#ee5c2c 100.6px,#ee702e 107.8px,#ee7430 112.6px,#f8a82c 115.1px,#fbe82c 117.2px,#c4da70 120.5px,#28b468 124.5px,#10a8a0 131.1px,#10a8d6 136.7px,#04b0ee 146.5px,#0890dc 162.2px,#1074c8 169.6px,#1060b8 176px)"></i><i style="width:172.7px;background:linear-gradient(90deg,#a52d28 0.7px,#a52d28 74.8px,#c82432 76.8px,#dc2e2a 79.7px,#e23428 84px,#ea3428 88.3px,#ec4428 94.4px,#ee5c2c 100.4px,#ee702e 107.6px,#ee7430 112.4px,#f8a82c 114.9px,#fbe82c 117px,#c4da70 120.3px,#28b468 124.2px,#10a8a0 130.7px,#10a8d6 136.3px,#04b0ee 146.1px,#0890dc 162.2px,#1074c8 169.6px,#1060b8 175.9px)"></i><i style="width:172.7px;background:linear-gradient(90deg,#a52d28 0.7px,#a52d28 74.3px,#c82432 76.3px,#dc2e2a 79.2px,#e23428 83.6px,#ea3428 88px,#ec4428 94.1px,#ee5c2c 100.1px,#ee702e 107.4px,#ee7430 112.2px,#f8a82c 114.8px,#fbe82c 116.8px,#c4da70 120px,#28b468 123.9px,#10a8a0 130.3px,#10a8d6 136px,#04b0ee 145.7px,#0890dc 162.3px,#1074c8 169.6px,#1060b8 175.8px)"></i><i style="width:172.7px;background:linear-gradient(90deg,#a52d28 0.7px,#a52d28 73.8px,#c82432 75.8px,#dc2e2a 78.8px,#e23428 83.2px,#ea3428 87.6px,#ec4428 93.8px,#ee5c2c 99.9px,#ee702e 107.2px,#ee7430 112.1px,#f8a82c 114.6px,#fbe82c 116.6px,#c4da70 119.8px,#28b468 123.7px,#10a8a0 130px,#10a8d6 135.6px,#04b0ee 145.3px,#0890dc 162.3px,#1074c8 169.7px,#1060b8 175.7px)"></i><i style="width:172.7px;background:linear-gradient(90deg,#a52d28 0.7px,#a52d28 73.3px,#c82432 75.3px,#dc2e2a 78.3px,#e23428 82.8px,#ea3428 87.3px,#ec4428 93.4px,#ee5c2c 99.6px,#ee702e 107px,#ee7430 111.9px,#f8a82c 114.4px,#fbe82c 116.5px,#c4da70 119.6px,#28b468 123.4px,#10a8a0 129.6px,#10a8d6 135.3px,#04b0ee 144.9px,#0890dc 162.4px,#1074c8 169.7px,#1060b8 175.6px)"></i><i style="width:172.7px;background:linear-gradient(90deg,#a52d28 0.7px,#a52d28 72.8px,#c82432 74.8px,#dc2e2a 77.9px,#e23428 82.4px,#ea3428 86.9px,#ec4428 93.1px,#ee5c2c 99.3px,#ee702e 106.8px,#ee7430 111.7px,#f8a82c 114.2px,#fbe82c 116.3px,#c4da70 119.4px,#28b468 123.2px,#10a8a0 129.3px,#10a8d6 135px,#04b0ee 144.5px,#0890dc 162.5px,#1074c8 169.7px,#1060b8 175.5px)"></i><i style="width:172.7px;background:linear-gradient(90deg,#a52d28 0.7px,#a52d28 72.4px,#c82432 74.4px,#dc2e2a 77.5px,#e23428 81.9px,#ea3428 86.6px,#ec4428 92.8px,#ee5c2c 99.1px,#ee702e 106.6px,#ee7430 111.5px,#f8a82c 114px,#fbe82c 116.1px,#c4da70 119.2px,#28b468 122.9px,#10a8a0 129px,#10a8d6 134.7px,#04b0ee 144px,#0890dc 162.5px,#1074c8 169.8px,#1060b8 175.4px)"></i><i style="width:172.7px;background:linear-gradient(90deg,#a52d28 0.7px,#a52d28 71.9px,#c82432 73.9px,#dc2e2a 77px,#e23428 81.5px,#ea3428 86.2px,#ec4428 92.5px,#ee5c2c 98.8px,#ee702e 106.3px,#ee7430 111.4px,#f8a82c 113.9px,#fbe82c 115.9px,#c4da70 119px,#28b468 122.7px,#10a8a0 128.7px,#10a8d6 134.4px,#04b0ee 143.6px,#0890dc 162.6px,#1074c8 169.8px,#1060b8 175.3px)"></i><i style="width:172.7px;background:linear-gradient(90deg,#a52d28 0.7px,#a52d28 71.4px,#c82432 73.4px,#dc2e2a 76.6px,#e23428 81.1px,#ea3428 85.9px,#ec4428 92.2px,#ee5c2c 98.5px,#ee702e 106.1px,#ee7430 111.2px,#f8a82c 113.7px,#fbe82c 115.7px,#c4da70 118.7px,#28b468 122.4px,#10a8a0 128.3px,#10a8d6 134px,#04b0ee 143.2px,#0890dc 162.7px,#1074c8 169.8px,#1060b8 175.2px)"></i><i style="width:172.7px;background:linear-gradient(90deg,#a52d28 0.7px,#a52d28 70.9px,#c82432 72.9px,#dc2e2a 76.1px,#e23428 80.7px,#ea3428 85.5px,#ec4428 91.9px,#ee5c2c 98.2px,#ee702e 105.9px,#ee7430 111px,#f8a82c 113.5px,#fbe82c 115.5px,#c4da70 118.5px,#28b468 122.2px,#10a8a0 128px,#10a8d6 133.7px,#04b0ee 142.8px,#0890dc 162.7px,#1074c8 169.9px,#1060b8 175.1px)"></i><i style="width:172.7px;background:linear-gradient(90deg,#a52d28 0.7px,#a52d28 70.4px,#c82432 72.4px,#dc2e2a 75.6px,#e23428 80.3px,#ea3428 85.1px,#ec4428 91.5px,#ee5c2c 98px,#ee702e 105.7px,#ee7430 110.8px,#f8a82c 113.3px,#fbe82c 115.3px,#c4da70 118.3px,#28b468 122px,#10a8a0 127.7px,#10a8d6 133.4px,#04b0ee 142.4px,#0890dc 162.8px,#1074c8 169.9px,#1060b8 175px)"></i><i style="width:172.7px;background:linear-gradient(90deg,#a52d28 0.7px,#a52d28 69.8px,#c82432 71.8px,#dc2e2a 75.1px,#e23428 79.8px,#ea3428 84.7px,#ec4428 91.2px,#ee5c2c 97.6px,#ee702e 105.4px,#ee7430 110.6px,#f8a82c 113.1px,#fbe82c 115.2px,#c4da70 118.1px,#28b468 121.7px,#10a8a0 127.4px,#10a8d6 133.1px,#04b0ee 142px,#0890dc 162.8px,#1074c8 169.9px,#1060b8 174.9px)"></i><i style="width:172.7px;background:linear-gradient(90deg,#a52d28 0.7px,#a52d28 69.2px,#c82432 71.2px,#dc2e2a 74.6px,#e23428 79.3px,#ea3428 84.2px,#ec4428 90.8px,#ee5c2c 97.3px,#ee702e 105.2px,#ee7430 110.4px,#f8a82c 112.9px,#fbe82c 115px,#c4da70 117.9px,#28b468 121.5px,#10a8a0 127.1px,#10a8d6 132.8px,#04b0ee 141.7px,#0890dc 162.8px,#1074c8 169.9px,#1060b8 174.8px)"></i><i style="width:172.7px;background:linear-gradient(90deg,#a52d28 0.7px,#a52d28 68.6px,#c82432 70.6px,#dc2e2a 74px,#e23428 78.8px,#ea3428 83.7px,#ec4428 90.4px,#ee5c2c 97px,#ee702e 104.9px,#ee7430 110.2px,#f8a82c 112.8px,#fbe82c 114.8px,#c4da70 117.7px,#28b468 121.3px,#10a8a0 126.8px,#10a8d6 132.5px,#04b0ee 141.3px,#0890dc 162.8px,#1074c8 169.9px,#1060b8 174.7px)"></i><i style="width:172.7px;background:linear-gradient(90deg,#a52d28 0.7px,#a52d28 67.9px,#c82432 69.9px,#dc2e2a 73.4px,#e23428 78.2px,#ea3428 83.2px,#ec4428 89.9px,#ee5c2c 96.6px,#ee702e 104.7px,#ee7430 110.1px,#f8a82c 112.6px,#fbe82c 114.6px,#c4da70 117.5px,#28b468 121px,#10a8a0 126.4px,#10a8d6 132.1px,#04b0ee 141px,#0890dc 162.8px,#1074c8 169.8px,#1060b8 174.6px)"></i><i style="width:172.7px;background:linear-gradient(90deg,#a52d28 0.7px,#a52d28 67.2px,#c82432 69.2px,#dc2e2a 72.7px,#e23428 77.6px,#ea3428 82.7px,#ec4428 89.5px,#ee5c2c 96.3px,#ee702e 104.4px,#ee7430 109.9px,#f8a82c 112.4px,#fbe82c 114.5px,#c4da70 117.3px,#28b468 120.8px,#10a8a0 126.1px,#10a8d6 131.8px,#04b0ee 140.7px,#0890dc 162.7px,#1074c8 169.7px,#1060b8 174.4px)"></i><i style="width:172.7px;background:linear-gradient(90deg,#a52d28 0.7px,#a52d28 66.5px,#c82432 68.5px,#dc2e2a 72.1px,#e23428 77.1px,#ea3428 82.2px,#ec4428 89.1px,#ee5c2c 95.9px,#ee702e 104.2px,#ee7430 109.7px,#f8a82c 112.2px,#fbe82c 114.3px,#c4da70 117.1px,#28b468 120.5px,#10a8a0 125.8px,#10a8d6 131.5px,#04b0ee 140.5px,#0890dc 162.5px,#1074c8 169.6px,#1060b8 174.3px)"></i><i style="width:172.7px;background:linear-gradient(90deg,#a52d28 0.7px,#a52d28 65.8px,#c82432 67.8px,#dc2e2a 71.4px,#e23428 76.5px,#ea3428 81.6px,#ec4428 88.6px,#ee5c2c 95.6px,#ee702e 103.9px,#ee7430 109.5px,#f8a82c 112px,#fbe82c 114.2px,#c4da70 116.9px,#28b468 120.3px,#10a8a0 125.5px,#10a8d6 131.2px,#04b0ee 140.3px,#0890dc 162.4px,#1074c8 169.5px,#1060b8 174.2px)"></i><i style="width:172.7px;background:linear-gradient(90deg,#a52d28 0.7px,#a52d28 65.1px,#c82432 67.1px,#dc2e2a 70.8px,#e23428 75.9px,#ea3428 81.1px,#ec4428 88.2px,#ee5c2c 95.2px,#ee702e 103.7px,#ee7430 109.3px,#f8a82c 111.9px,#fbe82c 114px,#c4da70 116.7px,#28b468 120.1px,#10a8a0 125.2px,#10a8d6 130.9px,#04b0ee 140.1px,#0890dc 162.2px,#1074c8 169.3px,#1060b8 174.1px)"></i><i style="width:172.7px;background:linear-gradient(90deg,#a52d28 0.7px,#a52d28 64.3px,#c82432 66.3px,#dc2e2a 70.1px,#e23428 75.3px,#ea3428 80.6px,#ec4428 87.7px,#ee5c2c 94.8px,#ee702e 103.4px,#ee7430 109.1px,#f8a82c 111.7px,#fbe82c 113.8px,#c4da70 116.5px,#28b468 119.8px,#10a8a0 124.9px,#10a8d6 130.5px,#04b0ee 139.9px,#0890dc 162px,#1074c8 169.2px,#1060b8 174px)"></i><i style="width:172.7px;background:linear-gradient(90deg,#a52d28 0.7px,#a52d28 63.6px,#c82432 65.6px,#dc2e2a 69.4px,#e23428 74.7px,#ea3428 80px,#ec4428 87.3px,#ee5c2c 94.5px,#ee702e 103.1px,#ee7430 108.9px,#f8a82c 111.5px,#fbe82c 113.7px,#c4da70 116.4px,#28b468 119.6px,#10a8a0 124.6px,#10a8d6 130.2px,#04b0ee 139.7px,#0890dc 161.9px,#1074c8 169px,#1060b8 173.9px)"></i><i style="width:172.7px;background:linear-gradient(90deg,#a52d28 0.7px,#a52d28 62.9px,#c82432 64.9px,#dc2e2a 68.8px,#e23428 74.1px,#ea3428 79.5px,#ec4428 86.8px,#ee5c2c 94.1px,#ee702e 102.9px,#ee7430 108.7px,#f8a82c 111.4px,#fbe82c 113.5px,#c4da70 116.2px,#28b468 119.4px,#10a8a0 124.3px,#10a8d6 129.9px,#04b0ee 139.5px,#0890dc 161.7px,#1074c8 168.9px,#1060b8 173.8px)"></i><i style="width:172.7px;background:linear-gradient(90deg,#a52d28 0.7px,#a52d28 62.2px,#c82432 64.2px,#dc2e2a 68.1px,#e23428 73.5px,#ea3428 79px,#ec4428 86.4px,#ee5c2c 93.7px,#ee702e 102.6px,#ee7430 108.5px,#f8a82c 111.2px,#fbe82c 113.4px,#c4da70 116px,#28b468 119.2px,#10a8a0 124px,#10a8d6 129.5px,#04b0ee 139.2px,#0890dc 161.5px,#1074c8 168.7px,#1060b8 173.7px)"></i><i style="width:172.7px;background:linear-gradient(90deg,#a52d28 0.7px,#a52d28 61.5px,#c82432 63.5px,#dc2e2a 67.5px,#e23428 72.9px,#ea3428 78.4px,#ec4428 85.9px,#ee5c2c 93.4px,#ee702e 102.3px,#ee7430 108.3px,#f8a82c 111px,#fbe82c 113.2px,#c4da70 115.8px,#28b468 119px,#10a8a0 123.7px,#10a8d6 129.1px,#04b0ee 139px,#0890dc 161.3px,#1074c8 168.6px,#1060b8 173.6px)"></i><i style="width:172.7px;background:linear-gradient(90deg,#a52d28 0.7px,#a52d28 60.8px,#c82432 62.8px,#dc2e2a 66.8px,#e23428 72.3px,#ea3428 77.9px,#ec4428 85.5px,#ee5c2c 93px,#ee702e 102.1px,#ee7430 108.1px,#f8a82c 110.8px,#fbe82c 113.1px,#c4da70 115.6px,#28b468 118.8px,#10a8a0 123.4px,#10a8d6 128.8px,#04b0ee 138.8px,#0890dc 161.1px,#1074c8 168.5px,#1060b8 173.5px)"></i><i style="width:172.7px;background:linear-gradient(90deg,#a52d28 0.7px,#a52d28 60.1px,#c82432 62.1px,#dc2e2a 66.2px,#e23428 71.7px,#ea3428 77.4px,#ec4428 85px,#ee5c2c 92.6px,#ee702e 101.8px,#ee7430 107.9px,#f8a82c 110.7px,#fbe82c 112.9px,#c4da70 115.4px,#28b468 118.5px,#10a8a0 123.1px,#10a8d6 128.4px,#04b0ee 138.6px,#0890dc 161px,#1074c8 168.3px,#1060b8 173.4px)"></i><i style="width:172.7px;background:linear-gradient(90deg,#a52d28 0.7px,#a52d28 59.3px,#c82432 61.3px,#dc2e2a 65.5px,#e23428 71.1px,#ea3428 76.8px,#ec4428 84.6px,#ee5c2c 92.3px,#ee702e 101.6px,#ee7430 107.8px,#f8a82c 110.5px,#fbe82c 112.7px,#c4da70 115.3px,#28b468 118.3px,#10a8a0 122.9px,#10a8d6 128.1px,#04b0ee 138.4px,#0890dc 160.8px,#1074c8 168.2px,#1060b8 173.3px)"></i><i style="width:172.7px;background:linear-gradient(90deg,#a52d28 0.7px,#a52d28 58.6px,#c82432 60.6px,#dc2e2a 64.9px,#e23428 70.5px,#ea3428 76.3px,#ec4428 84.1px,#ee5c2c 91.9px,#ee702e 101.3px,#ee7430 107.6px,#f8a82c 110.3px,#fbe82c 112.6px,#c4da70 115.1px,#28b468 118.1px,#10a8a0 122.6px,#10a8d6 127.7px,#04b0ee 138.2px,#0890dc 160.6px,#1074c8 168px,#1060b8 173.2px)"></i><i style="width:172.7px;background:linear-gradient(90deg,#a52d28 0.7px,#a52d28 57.9px,#c82432 59.9px,#dc2e2a 64.2px,#e23428 69.9px,#ea3428 75.7px,#ec4428 83.6px,#ee5c2c 91.6px,#ee702e 101px,#ee7430 107.4px,#f8a82c 110.2px,#fbe82c 112.4px,#c4da70 114.9px,#28b468 117.9px,#10a8a0 122.3px,#10a8d6 127.4px,#04b0ee 138px,#0890dc 160.4px,#1074c8 167.9px,#1060b8 173.1px)"></i><i style="width:172.7px;background:linear-gradient(90deg,#a52d28 0.7px,#a52d28 57.2px,#c82432 59.2px,#dc2e2a 63.5px,#e23428 69.3px,#ea3428 75.2px,#ec4428 83.2px,#ee5c2c 91.2px,#ee702e 100.8px,#ee7430 107.2px,#f8a82c 110px,#fbe82c 112.3px,#c4da70 114.7px,#28b468 117.7px,#10a8a0 122px,#10a8d6 127px,#04b0ee 137.8px,#0890dc 160.3px,#1074c8 167.7px,#1060b8 173px)"></i><i style="width:172.7px;background:linear-gradient(90deg,#a52d28 0.7px,#a52d28 56.5px,#c82432 58.5px,#dc2f2a 62.9px,#e23528 68.7px,#ea3428 74.6px,#ec4428 82.7px,#ee5c2c 90.8px,#ee702e 100.5px,#ee7430 107px,#f8a82c 109.8px,#fbe82c 112.1px,#c4da70 114.5px,#28b468 117.5px,#10a8a0 121.7px,#10a8d6 126.6px,#04b0ee 137.6px,#0890dc 160.1px,#1074c8 167.6px,#1060b8 172.9px)"></i><i style="width:172.7px;background:linear-gradient(90deg,#a52d28 0.7px,#a52d28 55.8px,#c82432 57.8px,#dc2f2a 62.2px,#e23528 68px,#ea3428 74px,#ec4428 82.2px,#ee5c2c 90.4px,#ee702e 100.2px,#ee7430 106.8px,#f8a82c 109.6px,#fbe82c 112px,#c4da70 114.4px,#28b468 117.3px,#10a8a0 121.4px,#10a8d6 126.3px,#04b0ee 137.4px,#0890dc 159.9px,#1074c8 167.4px,#1060b8 172.8px)"></i><i style="width:172.7px;background:linear-gradient(90deg,#a62e28 0.7px,#a72e28 55.1px,#c82432 57.1px,#dc2f2a 61.5px,#e23528 67.4px,#ea3528 73.4px,#ec4428 81.7px,#ee5c2c 90px,#ee702e 100px,#ee7430 106.6px,#f8a82c 109.5px,#fbe82c 111.8px,#c4da70 114.2px,#28b468 117.1px,#10a8a0 121.1px,#10a8d6 125.9px,#04b0ee 137.2px,#0890dc 159.7px,#1074c8 167.3px,#1060b8 172.6px)"></i><i style="width:172.7px;background:linear-gradient(90deg,#a62e28 0.7px,#a72e28 54.3px,#c82432 56.3px,#dc2f2a 60.9px,#e23528 66.8px,#ea3528 72.8px,#ec4428 81.2px,#ee5c2c 89.6px,#ee702e 99.7px,#ee7430 106.4px,#f8a82c 109.3px,#fbe82c 111.6px,#c4da70 114px,#28b468 116.9px,#10a8a0 120.9px,#10a8d6 125.6px,#04b0ee 137px,#0890dc 159.6px,#1074c8 167.1px,#1060b8 172.5px)"></i><i style="width:172.7px;background:linear-gradient(90deg,#a62e28 0.7px,#a72f28 53.6px,#c82432 55.6px,#dc2f2a 60.2px,#e23528 66.1px,#ea3528 72.2px,#ec4428 80.7px,#ee5c2c 89.2px,#ee702e 99.4px,#ee7430 106.2px,#f8a82c 109.1px,#fbe82c 111.5px,#c4da70 113.8px,#28b468 116.6px,#10a8a0 120.6px,#10a8d6 125.2px,#04b0ee 136.8px,#0890dc 159.4px,#1074c8 167px,#1060b8 172.4px)"></i><i style="width:172.7px;background:linear-gradient(90deg,#a62e28 0.7px,#a72f28 52.9px,#c82432 54.9px,#dc302a 59.5px,#e23628 65.5px,#ea3528 71.6px,#ec4428 80.2px,#ee5c2c 88.8px,#ee702e 99.1px,#ee7430 106px,#f8a82c 108.9px,#fbe82c 111.3px,#c4da70 113.6px,#28b468 116.4px,#10a8a0 120.3px,#10a8d6 124.9px,#04b0ee 136.6px,#0890dc 159.2px,#1074c8 166.8px,#1060b8 172.3px)"></i><i style="width:172.7px;background:linear-gradient(90deg,#a62e28 0.7px,#a72f28 52.2px,#c82432 54.2px,#dc302a 58.8px,#e23628 64.8px,#ea3528 71px,#ec4428 79.7px,#ee5c2c 88.4px,#ee702e 98.9px,#ee7430 105.8px,#f8a82c 108.8px,#fbe82c 111.2px,#c4da70 113.5px,#28b468 116.2px,#10a8a0 120px,#10a8d6 124.5px,#04b0ee 136.4px,#0890dc 159px,#1074c8 166.7px,#1060b8 172.2px)"></i><i style="width:172.7px;background:linear-gradient(90deg,#a62e28 0.7px,#a72f28 51.5px,#c82432 53.5px,#dc302a 58.1px,#e23628 64.2px,#ea3528 70.4px,#ec4428 79.2px,#ee5c2c 88px,#ee702e 98.6px,#ee7430 105.6px,#f8a82c 108.6px,#fbe82c 111px,#c4da70 113.3px,#28b468 116px,#10a8a0 119.8px,#10a8d6 124.2px,#04b0ee 136.2px,#0890dc 158.9px,#1074c8 166.5px,#1060b8 172.1px)"></i><i style="width:172.7px;background:linear-gradient(90deg,#a62e28 0.7px,#a72f28 50.8px,#c82432 52.8px,#dc302a 57.5px,#e23628 63.5px,#ea3528 69.8px,#ec4428 78.7px,#ee5c2c 87.6px,#ee702e 98.3px,#ee7430 105.5px,#f8a82c 108.4px,#fbe82c 110.9px,#c4da70 113.1px,#28b468 115.9px,#10a8a0 119.5px,#10a8d6 124px,#04b0ee 136px,#0890dc 158.7px,#1074c8 166.4px,#1060b8 172px)"></i><i style="width:172.7px;background:linear-gradient(90deg,#a72e28 0.7px,#a82f28 50.1px,#c82432 52.1px,#db302a 56.8px,#e23629 62.9px,#ea3628 69.1px,#ec4428 78.2px,#ee5c2c 87.2px,#ee702e 98px,#ee7430 105.3px,#f8a82c 108.3px,#fbe82c 110.7px,#c4da70 112.9px,#28b468 115.7px,#10a8a0 119.3px,#10a8d6 123.8px,#04b0ee 135.8px,#0890dc 158.5px,#1074c8 166.2px,#1060b8 171.9px)"></i><i style="width:172.7px;background:linear-gradient(90deg,#a72f28 0.7px,#a83028 49.4px,#c82432 51.4px,#db312a 56.1px,#e23729 62.2px,#ea3628 68.5px,#ec4428 77.7px,#ee5c2c 86.8px,#ee702e 97.8px,#ee7430 105.1px,#f8a82c 108.1px,#fbe82c 110.5px,#c4da70 112.8px,#28b468 115.5px,#10a8a0 119.2px,#10a8d6 123.6px,#04b0ee 135.5px,#0890dc 158.3px,#1074c8 166.1px,#1060b8 171.8px)"></i><i style="width:172.7px;background:linear-gradient(90deg,#a72f28 0.7px,#a93028 48.8px,#c82432 50.8px,#db312a 55.5px,#e23729 61.6px,#ea3628 67.9px,#ec4428 77.1px,#ee5c2c 86.4px,#ee702e 97.5px,#ee7430 104.9px,#f8a82c 107.9px,#fbe82c 110.4px,#c4da70 112.6px,#28b468 115.4px,#10a8a0 119px,#10a8d6 123.4px,#04b0ee 135.3px,#0890dc 158.1px,#1074c8 166px,#1060b8 171.7px)"></i><i style="width:172.7px;background:linear-gradient(90deg,#a72f28 0.7px,#a93028 48.1px,#c82432 50.1px,#db312a 54.9px,#e23729 61px,#ea3628 67.3px,#ec4428 76.6px,#ee5c2c 86px,#ee702e 97.2px,#ee7430 104.7px,#f8a82c 107.7px,#fbe82c 110.2px,#c4da70 112.5px,#28b468 115.2px,#10a8a0 118.9px,#10a8d6 123.4px,#04b0ee 135.1px,#0890dc 158px,#1074c8 165.8px,#1060b8 171.6px)"></i><i style="width:172.7px;background:linear-gradient(90deg,#a72f28 0.7px,#a93028 47.5px,#c82432 49.5px,#db312a 54.2px,#e23729 60.4px,#ea3628 66.7px,#ec4428 76.1px,#ee5c2c 85.5px,#ee702e 96.9px,#ee7430 104.4px,#f8a82c 107.5px,#fbe82c 110px,#c4da70 112.3px,#28b468 115.1px,#10a8a0 118.7px,#10a8d6 123.3px,#04b0ee 134.9px,#0890dc 157.8px,#1074c8 165.7px,#1060b8 171.5px)"></i><i style="width:172.7px;background:linear-gradient(90deg,#a72f28 0.7px,#a93028 46.9px,#c82432 48.9px,#db312a 53.6px,#e23729 59.7px,#ea3628 66px,#ec4428 75.6px,#ee5c2c 85.1px,#ee702e 96.5px,#ee7430 104.2px,#f8a82c 107.3px,#fbe82c 109.8px,#c4da70 112.1px,#28b468 115px,#10a8a0 118.6px,#10a8d6 123.2px,#04b0ee 134.7px,#0890dc 157.6px,#1074c8 165.5px,#1060b8 171.4px)"></i><i style="width:172.7px;background:linear-gradient(90deg,#a72f28 0.7px,#a93028 46.3px,#c82432 48.3px,#db322a 53px,#e23829 59.1px,#ea3628 65.4px,#ec4428 75px,#ee5c2c 84.6px,#ee702e 96.2px,#ee7430 103.9px,#f8a82c 107px,#fbe82c 109.6px,#c4da70 111.9px,#28b468 114.8px,#10a8a0 118.5px,#10a8d6 123.2px,#04b0ee 134.5px,#0890dc 157.4px,#1074c8 165.4px,#1060b8 171.3px)"></i><i style="width:172.7px;background:linear-gradient(90deg,#a72f28 0.7px,#a93028 45.6px,#c82432 47.6px,#db322a 52.3px,#e23829 58.5px,#ea3628 64.8px,#ec4428 74.5px,#ee5c2c 84.2px,#ee702e 95.8px,#ee7430 103.6px,#f8a82c 106.7px,#fbe82c 109.3px,#c4da70 111.7px,#28b468 114.7px,#10a8a0 118.4px,#10a8d6 123.1px,#04b0ee 134.3px,#0890dc 157.2px,#1074c8 165.2px,#1060b8 171.2px)"></i><i style="width:172.7px;background:linear-gradient(90deg,#a82f28 0.7px,#aa3029 45px,#c82432 47px,#db322a 51.7px,#e23829 57.8px,#ea3728 64.1px,#ec4428 73.9px,#ee5c2c 83.7px,#ee702e 95.5px,#ee7430 103.3px,#f8a82c 106.5px,#fbe82c 109.1px,#c4da70 111.5px,#28b468 114.5px,#10a8a0 118.3px,#10a8d6 123px,#04b0ee 134.1px,#0890dc 157px,#1074c8 165.1px,#1060b8 171.1px)"></i><i style="width:172.7px;background:linear-gradient(90deg,#a83028 0.7px,#aa3129 44.4px,#c82432 46.4px,#db322a 51.1px,#e23829 57.1px,#ea3728 63.4px,#ec4428 73.3px,#ee5c2c 83.2px,#ee702e 95.1px,#ee7430 103px,#f8a82c 106.2px,#fbe82c 108.8px,#c4da70 111.3px,#28b468 114.4px,#10a8a0 118.2px,#10a8d6 123px,#04b0ee 133.9px,#0890dc 156.7px,#1074c8 164.9px,#1060b8 171px)"></i><i style="width:172.7px;background:linear-gradient(90deg,#a83028 0.7px,#aa3129 43.8px,#c82432 45.8px,#db322a 50.4px,#e23829 56.5px,#ea3728 62.7px,#ec4428 72.7px,#ee5c2c 82.7px,#ee702e 94.7px,#ee7430 102.7px,#f8a82c 105.9px,#fbe82c 108.5px,#c4da70 111.1px,#28b468 114.2px,#10a8a0 118.1px,#10a8d6 122.9px,#04b0ee 133.6px,#0890dc 156.4px,#1074c8 164.7px,#1060b8 170.9px)"></i><i style="width:172.7px;background:linear-gradient(90deg,#a83029 0.7px,#aa3229 43.1px,#c82432 45.1px,#db332b 49.8px,#e13929 55.8px,#e93729 62px,#ec4428 72.1px,#ee5c2c 82.2px,#ee702e 94.3px,#ee7430 102.3px,#f8a82c 105.6px,#fbe82c 108.2px,#c4da70 110.9px,#28b468 114px,#10a8a0 117.9px,#10a8d6 122.8px,#04b0ee 133.4px,#0890dc 156px,#1074c8 164.6px,#1060b8 170.8px)"></i><i style="width:172.7px;background:linear-gradient(90deg,#a83029 0.7px,#ab3229 42.5px,#c82432 44.5px,#db332b 49.1px,#e13929 55.1px,#e93729 61.3px,#ec4428 71.5px,#ee5c2c 81.7px,#ee702e 93.9px,#ee7430 102px,#f8a82c 105.3px,#fbe82c 108px,#c4da70 110.6px,#28b468 113.9px,#10a8a0 117.8px,#10a8d6 122.7px,#04b0ee 133.2px,#0890dc 155.7px,#1074c8 164.4px,#1060b8 170.7px)"></i><i style="width:172.7px;background:linear-gradient(90deg,#a83029 0.7px,#ab3229 41.9px,#c82432 43.9px,#db332b 48.5px,#e13929 54.4px,#e93729 60.6px,#ec4428 70.9px,#ee5c2c 81.2px,#ee702e 93.5px,#ee7430 101.7px,#f8a82c 105px,#fbe82c 107.7px,#c4da70 110.4px,#28b468 113.7px,#10a8a0 117.7px,#10a8d6 122.7px,#04b0ee 132.9px,#0890dc 155.3px,#1074c8 164.2px,#1060b8 170.6px)"></i><i style="width:172.7px;background:linear-gradient(90deg,#a83029 0.7px,#ab322a 41.3px,#c82432 43.3px,#db332b 47.8px,#e13929 53.8px,#e93729 59.9px,#ec4428 70.3px,#ee5c2c 80.6px,#ee702e 93.1px,#ee7430 101.4px,#f8a82c 104.7px,#fbe82c 107.4px,#c4da70 110.2px,#28b468 113.5px,#10a8a0 117.6px,#10a8d6 122.6px,#04b0ee 132.7px,#0890dc 154.9px,#1074c8 164px,#1060b8 170.4px)"></i><i style="width:172.7px;background:linear-gradient(90deg,#a93029 0.7px,#ac322a 40.6px,#c82432 42.6px,#db332b 47.2px,#e13929 53.1px,#e93829 59.2px,#ec4428 69.7px,#ee5c2c 80.1px,#ee702e 92.7px,#ee7430 101.1px,#f8a82c 104.4px,#fbe82c 107.2px,#c4da70 109.9px,#28b468 113.3px,#10a8a0 117.5px,#10a8d6 122.5px,#04b0ee 132.5px,#0890dc 154.5px,#1074c8 163.9px,#1060b8 170.3px)"></i><i style="width:172.6px;background:linear-gradient(90deg,#a93029 0.7px,#ac322a 40px,#c82432 42px,#db342b 46.5px,#e13a29 52.4px,#e93829 58.5px,#ec4428 69px,#ee5c2c 79.6px,#ee702e 92.3px,#ee7430 100.8px,#f8a82c 104.1px,#fbe82c 106.9px,#c4da70 109.7px,#28b468 113.1px,#10a8a0 117.4px,#10a8d6 122.5px,#04b0ee 132.2px,#0890dc 154.1px,#1074c8 163.7px,#1060b8 170.2px)"></i><i style="width:172.5px;background:linear-gradient(90deg,#a93129 0.7px,#ac332a 39.4px,#c82432 41.4px,#db342b 45.9px,#e13a29 51.7px,#e93829 57.8px,#ec4428 68.4px,#ee5c2c 79.1px,#ee702e 91.9px,#ee7430 100.4px,#f8a82c 103.8px,#fbe82c 106.6px,#c4da70 109.5px,#28b468 113px,#10a8a0 117.3px,#10a8d6 122.4px,#04b0ee 132px,#0890dc 153.7px,#1074c8 163.5px,#1060b8 170.1px)"></i><i style="width:172.4px;background:linear-gradient(90deg,#a93129 0.7px,#ac332a 38.8px,#c82432 40.8px,#db342b 45.2px,#e13a29 51px,#e93829 57.1px,#ec4428 67.8px,#ee5c2c 78.6px,#ee702e 91.5px,#ee7430 100.1px,#f8a82c 103.5px,#fbe82c 106.3px,#c4da70 109.2px,#28b468 112.8px,#10a8a0 117.2px,#10a8d6 122.3px,#04b0ee 131.8px,#0890dc 153.4px,#1074c8 163.3px,#1060b8 170.1px)"></i><i style="width:172.3px;background:linear-gradient(90deg,#a93129 0.7px,#ac332a 38.1px,#c82432 40.1px,#db342b 44.5px,#e13a29 50.4px,#e93829 56.3px,#ec4428 67.2px,#ee5c2c 78.1px,#ee702e 91.1px,#ee7430 99.8px,#f8a82c 103.3px,#fbe82c 106.1px,#c4da70 109px,#28b468 112.6px,#10a8a0 117.1px,#10a8d6 122.3px,#04b0ee 131.6px,#0890dc 153px,#1074c8 163.1px,#1060b8 169.9px)"></i><i style="width:172.2px;background:linear-gradient(90deg,#a93129 0.7px,#ac332a 37.5px,#c82432 39.5px,#db342b 43.9px,#e13a29 49.7px,#e93829 55.6px,#ec4428 66.6px,#ee5c2c 77.6px,#ee702e 90.7px,#ee7430 99.5px,#f8a82c 103px,#fbe82c 105.8px,#c4da70 108.8px,#28b468 112.4px,#10a8a0 117px,#10a8d6 122.2px,#04b0ee 131.3px,#0890dc 152.6px,#1074c8 163px,#1060b8 169.8px)"></i><i style="width:172.1px;background:linear-gradient(90deg,#a93129 0.7px,#ac332a 36.9px,#c82432 38.9px,#db352b 43.2px,#e13b29 49px,#e93829 54.9px,#ec4428 66px,#ee5c2c 77px,#ee702e 90.3px,#ee7430 99.2px,#f8a82c 102.7px,#fbe82c 105.5px,#c4da70 108.5px,#28b468 112.2px,#10a8a0 116.9px,#10a8d6 122.2px,#04b0ee 131.1px,#0890dc 152.2px,#1074c8 162.8px,#1060b8 169.8px)"></i><i style="width:172px;background:linear-gradient(90deg,#aa3129 0.7px,#ad332a 36.3px,#c82432 38.3px,#da352b 42.6px,#e13b2a 48.3px,#e93929 54.2px,#ec4428 65.4px,#ee5c2c 76.5px,#ee702e 89.9px,#ee7430 98.8px,#f8a82c 102.4px,#fbe82c 105.3px,#c4da70 108.3px,#28b468 112.1px,#10a8a0 116.8px,#10a8d6 122.1px,#04b0ee 130.9px,#0890dc 151.8px,#1074c8 162.6px,#1060b8 169.6px)"></i><i style="width:171.9px;background:linear-gradient(90deg,#aa3129 0.7px,#ad332a 35.6px,#c82432 37.6px,#da352b 41.9px,#e13b2a 47.6px,#e93929 53.5px,#ec4428 64.8px,#ee5c2c 76px,#ee702e 89.5px,#ee7430 98.5px,#f8a82c 102.1px,#fbe82c 105px,#c4da70 108.1px,#28b468 111.9px,#10a8a0 116.7px,#10a8d6 122.1px,#04b0ee 130.7px,#0890dc 151.5px,#1074c8 162.4px,#1060b8 169.5px)"></i><i style="width:171.8px;background:linear-gradient(90deg,#aa3129 0.7px,#ad332a 35px,#c82432 37px,#da352b 41.3px,#e13b2a 47px,#e93929 52.8px,#ec4428 64.1px,#ee5c2c 75.5px,#ee702e 89.1px,#ee7430 98.2px,#f8a82c 101.8px,#fbe82c 104.7px,#c4da70 107.9px,#28b468 111.7px,#10a8a0 116.6px,#10a8d6 122px,#04b0ee 130.5px,#0890dc 151.1px,#1074c8 162.3px,#1060b8 169.4px)"></i><i style="width:171.7px;background:linear-gradient(90deg,#aa3229 0.7px,#ad342a 34.4px,#c82432 36.4px,#da352b 40.6px,#e13b2a 46.3px,#e93929 52.1px,#ec4428 63.5px,#ee5c2c 75px,#ee702e 88.7px,#ee7430 97.8px,#f8a82c 101.5px,#fbe82c 104.4px,#c4da70 107.6px,#28b468 111.5px,#10a8a0 116.5px,#10a8d6 121.9px,#04b0ee 130.3px,#0890dc 150.7px,#1074c8 162.1px,#1060b8 169.3px)"></i><i style="width:171.6px;background:linear-gradient(90deg,#aa3229 0.7px,#ae342a 33.8px,#c82432 35.8px,#da362b 40px,#e13c2a 45.6px,#e93929 51.4px,#ec4428 62.9px,#ee5c2c 74.4px,#ee702e 88.2px,#ee7430 97.5px,#f8a82c 101.2px,#fbe82c 104.2px,#c4da70 107.4px,#28b468 111.3px,#10a8a0 116.4px,#10a8d6 121.9px,#04b0ee 130.1px,#0890dc 150.3px,#1074c8 161.9px,#1060b8 169.2px)"></i><i style="width:171.5px;background:linear-gradient(90deg,#aa3229 0.7px,#ae342a 33.1px,#c82432 35.1px,#da362b 39.3px,#e13c2a 44.9px,#e93929 50.7px,#ec4428 62.3px,#ee5c2c 73.9px,#ee702e 87.8px,#ee7430 97.1px,#f8a82c 100.8px,#fbe82c 103.9px,#c4da70 107.2px,#28b468 111.1px,#10a8a0 116.3px,#10a8d6 121.8px,#04b0ee 129.9px,#0890dc 149.9px,#1074c8 161.7px,#1060b8 169.1px)"></i><i style="width:171.4px;background:linear-gradient(90deg,#aa3229 0.7px,#ae342a 32.5px,#c82432 34.5px,#da362b 38.7px,#e13c2a 44.2px,#e93929 50px,#ec4428 61.7px,#ee5c2c 73.4px,#ee702e 87.4px,#ee7430 96.7px,#f8a82c 100.5px,#fbe82c 103.6px,#c4da70 106.9px,#28b468 111px,#10a8a0 116.2px,#10a8d6 121.8px,#04b0ee 129.8px,#0890dc 149.5px,#1074c8 161.6px,#1060b8 169px)"></i><i style="width:171.3px;background:linear-gradient(90deg,#aa3229 0.7px,#ae342a 31.9px,#c82432 33.9px,#da362b 38px,#e13c2a 43.6px,#e93929 49.3px,#ec4428 61px,#ee5c2c 72.8px,#ee702e 87px,#ee7430 96.4px,#f8a82c 100.2px,#fbe82c 103.3px,#c4da70 106.7px,#28b468 110.8px,#10a8a0 116.1px,#10a8d6 121.7px,#04b0ee 129.6px,#0890dc 149.2px,#1074c8 161.4px,#1060b8 168.9px)"></i><i style="width:171.2px;background:linear-gradient(90deg,#ab3229 0.7px,#af342a 31.3px,#c82432 33.3px,#da362b 37.4px,#e13c2a 42.9px,#e93a29 48.6px,#ec4428 60.4px,#ee5c2c 72.3px,#ee702e 86.5px,#ee7430 96px,#f8a82c 99.9px,#fbe82c 103px,#c4da70 106.4px,#28b468 110.6px,#10a8a0 116px,#10a8d6 121.7px,#04b0ee 129.5px,#0890dc 148.8px,#1074c8 161.2px,#1060b8 168.9px)"></i><i style="width:171.1px;background:linear-gradient(90deg,#ab3229 0.7px,#af342a 30.6px,#c82432 32.6px,#da372b 36.7px,#e13d2a 42.2px,#e93a29 47.9px,#ec4428 59.8px,#ee5c2c 71.8px,#ee702e 86.1px,#ee7430 95.7px,#f8a82c 99.5px,#fbe82c 102.7px,#c4da70 106.2px,#28b468 110.4px,#10a8a0 115.9px,#10a8d6 121.6px,#04b0ee 129.3px,#0890dc 148.4px,#1074c8 161px,#1060b8 168.8px)"></i><i style="width:171px;background:linear-gradient(90deg,#ab3229 0.7px,#af342a 30px,#c82432 32px,#da372b 36.1px,#e13d2a 41.6px,#e93a29 47.3px,#ec4428 59.3px,#ee5c2c 71.3px,#ee702e 85.7px,#ee7430 95.3px,#f8a82c 99.2px,#fbe82c 102.4px,#c4da70 105.9px,#28b468 110.2px,#10a8a0 115.8px,#10a8d6 121.6px,#04b0ee 129.2px,#0890dc 148px,#1074c8 160.9px,#1060b8 168.6px)"></i><i style="width:170.9px;background:linear-gradient(90deg,#ab3229 0.7px,#af342a 29.4px,#c82432 31.4px,#da372b 35.5px,#e13d2a 41px,#e93a29 46.6px,#ec4428 58.7px,#ee5c2c 70.8px,#ee702e 85.3px,#ee7430 95px,#f8a82c 98.9px,#fbe82c 102px,#c4da70 105.7px,#28b468 110.1px,#10a8a0 115.7px,#10a8d6 121.5px,#04b0ee 129px,#0890dc 147.6px,#1074c8 160.7px,#1060b8 168.6px)"></i><i style="width:170.8px;background:linear-gradient(90deg,#ab3329 0.7px,#af352a 28.8px,#c82432 30.8px,#da372b 34.9px,#e13d2a 40.4px,#e93a29 46px,#ec4428 58.2px,#ee5c2c 70.3px,#ee702e 84.9px,#ee7430 94.6px,#f8a82c 98.5px,#fbe82c 101.7px,#c4da70 105.4px,#28b468 109.9px,#10a8a0 115.6px,#10a8d6 121.5px,#04b0ee 128.8px,#0890dc 147.2px,#1074c8 160.5px,#1060b8 168.4px)"></i><i style="width:170.7px;background:linear-gradient(90deg,#ab3329 0.7px,#af352a 28.1px,#c82432 30.1px,#da372b 34.3px,#e13d2a 39.8px,#e93a29 45.5px,#ec4428 57.7px,#ee5c2c 69.9px,#ee702e 84.5px,#ee7430 94.3px,#f8a82c 98.2px,#fbe82c 101.4px,#c4da70 105.1px,#28b468 109.7px,#10a8a0 115.5px,#10a8d6 121.4px,#04b0ee 128.7px,#0890dc 146.9px,#1074c8 160.3px,#1060b8 168.4px)"></i><i style="width:170.6px;background:linear-gradient(90deg,#ab3329 0.7px,#af352a 27.5px,#c82432 29.5px,#da382b 33.6px,#e13e2a 39.2px,#e93a29 44.9px,#ec4428 57.1px,#ee5c2c 69.4px,#ee702e 84.1px,#ee7430 93.9px,#f8a82c 97.8px,#fbe82c 101.1px,#c4da70 104.9px,#28b468 109.5px,#10a8a0 115.4px,#10a8d6 121.4px,#04b0ee 128.5px,#0890dc 146.5px,#1074c8 160.1px,#1060b8 168.2px)"></i><i style="width:170.5px;background:linear-gradient(90deg,#ac3329 0.7px,#b0352a 26.9px,#c82432 28.9px,#da382b 33px,#e13e2a 38.6px,#e93b29 44.3px,#ec4428 56.6px,#ee5c2c 68.9px,#ee702e 83.7px,#ee7430 93.5px,#f8a82c 97.5px,#fbe82c 100.8px,#c4da70 104.6px,#28b468 109.3px,#10a8a0 115.3px,#10a8d6 121.3px,#04b0ee 128.4px,#0890dc 146.1px,#1074c8 160px,#1060b8 168.1px)"></i><i style="width:170.4px;background:linear-gradient(90deg,#ac3329 0.7px,#b0352a 26.2px,#c82432 28.2px,#da382b 32.4px,#e13e2a 38px,#e93b29 43.8px,#ec4428 56.1px,#ee5c2c 68.5px,#ee702e 83.3px,#ee7430 93.2px,#f8a82c 97.2px,#fbe82c 100.4px,#c4da70 104.4px,#28b468 109.1px,#10a8a0 115.2px,#10a8d6 121.2px,#04b0ee 128.2px,#0890dc 145.7px,#1074c8 159.8px,#1060b8 168px)"></i><i style="width:170.3px;background:linear-gradient(90deg,#ac3329 0.7px,#b0352a 25.6px,#c82432 27.6px,#da382b 31.8px,#e13e2a 37.4px,#e93b29 43.2px,#ec4428 55.6px,#ee5c2c 68px,#ee702e 82.9px,#ee7430 92.8px,#f8a82c 96.8px,#fbe82c 100.1px,#c4da70 104.1px,#28b468 108.9px,#10a8a0 115.1px,#10a8d6 121.2px,#04b0ee 128.1px,#0890dc 145.3px,#1074c8 159.6px,#1060b8 167.9px)"></i><i style="width:170.2px;background:linear-gradient(90deg,#ac3329 0.7px,#b0352a 25px,#c82432 27px,#da382b 31.2px,#e13e2a 36.9px,#e93b29 42.7px,#ec4428 55.1px,#ee5c2c 67.6px,#ee702e 82.5px,#ee7430 92.5px,#f8a82c 96.5px,#fbe82c 99.8px,#c4da70 103.8px,#28b468 108.7px,#10a8a0 115px,#10a8d6 121.1px,#04b0ee 127.9px,#0890dc 145px,#1074c8 159.4px,#1060b8 167.9px)"></i><i style="width:170.1px;background:linear-gradient(90deg,#ac3329 0.7px,#b0352a 24.4px,#c82432 26.4px,#da392b 30.7px,#e13f2a 36.3px,#e93b29 42.2px,#ec4428 54.6px,#ee5c2c 67.1px,#ee702e 82.1px,#ee7430 92.1px,#f8a82c 96.1px,#fbe82c 99.4px,#c4da70 103.5px,#28b468 108.5px,#10a8a0 114.8px,#10a8d6 121.1px,#04b0ee 127.7px,#0890dc 144.6px,#1074c8 159.2px,#1060b8 167.8px)"></i><i style="width:170px;background:linear-gradient(90deg,#ac3429 0.7px,#b0362a 23.9px,#c82432 25.9px,#da392b 30.2px,#e13f2a 35.8px,#e93b29 41.7px,#ec4428 54.2px,#ee5c2c 66.7px,#ee702e 81.7px,#ee7430 91.7px,#f8a82c 95.8px,#fbe82c 99.1px,#c4da70 103.2px,#28b468 108.3px,#10a8a0 114.7px,#10a8d6 121px,#04b0ee 127.6px,#0890dc 144.2px,#1074c8 158.9px,#1060b8 167.7px)"></i><i style="width:170px;background:linear-gradient(90deg,#ac3429 0.7px,#b0362a 23.4px,#c82432 25.4px,#da392b 29.6px,#e13f2a 35.3px,#e93b29 41.2px,#ec4428 53.7px,#ee5c2c 66.3px,#ee702e 81.3px,#ee7430 91.4px,#f8a82c 95.4px,#fbe82c 98.8px,#c4da70 102.9px,#28b468 108px,#10a8a0 114.6px,#10a8d6 120.9px,#04b0ee 127.4px,#0890dc 143.8px,#1074c8 158.6px,#1060b8 167.6px)"></i><i style="width:170px;background:linear-gradient(90deg,#ac3429 0.7px,#b0362a 22.9px,#c82432 24.9px,#da392b 29.2px,#e13f2a 34.9px,#e93b29 40.7px,#ec4428 53.3px,#ee5c2c 65.9px,#ee702e 80.9px,#ee7430 91px,#f8a82c 95.1px,#fbe82c 98.4px,#c4da70 102.6px,#28b468 107.8px,#10a8a0 114.4px,#10a8d6 120.9px,#04b0ee 127.3px,#0890dc 143.4px,#1074c8 158.3px,#1060b8 167.4px)"></i><i style="width:169.9px;background:linear-gradient(90deg,#ad3429 0.7px,#b1362a 22.4px,#c82432 24.4px,#d9392b 28.7px,#e13f2b 34.4px,#e93c29 40.3px,#ec4428 52.9px,#ee5c2c 65.5px,#ee702e 80.5px,#ee7430 90.6px,#f8a82c 94.7px,#fbe82c 98.1px,#c4da70 102.3px,#28b468 107.5px,#10a8a0 114.3px,#10a8d6 120.8px,#04b0ee 127.1px,#0890dc 143.1px,#1074c8 157.9px,#1060b8 167.4px)"></i><i style="width:169.9px;background:linear-gradient(90deg,#ad3429 0.7px,#b1362a 22px,#c82432 24px,#d93a2b 28.3px,#e1402b 34px,#e93c29 39.9px,#ec4428 52.5px,#ee5c2c 65.1px,#ee702e 80.2px,#ee7430 90.2px,#f8a82c 94.3px,#fbe82c 97.7px,#c4da70 102px,#28b468 107.3px,#10a8a0 114.1px,#10a8d6 120.7px,#04b0ee 127px,#0890dc 142.7px,#1074c8 157.5px,#1060b8 167.2px)"></i><i style="width:169.9px;background:linear-gradient(90deg,#ad3429 0.7px,#b1362a 21.5px,#c82432 23.5px,#d93a2b 27.8px,#e1402b 33.5px,#e93c29 39.4px,#ec4428 52px,#ee5c2c 64.6px,#ee702e 79.8px,#ee7430 89.9px,#f8a82c 94px,#fbe82c 97.4px,#c4da70 101.7px,#28b468 107px,#10a8a0 114px,#10a8d6 120.6px,#04b0ee 126.8px,#0890dc 142.3px,#1074c8 157px,#1060b8 167.2px)"></i><i style="width:169.8px;background:linear-gradient(90deg,#ad3429 0.7px,#b1362a 21.1px,#c82432 23.1px,#d93a2b 27.4px,#e1402b 33.1px,#e93c29 39px,#ec4428 51.6px,#ee5c2c 64.2px,#ee702e 79.4px,#ee7430 89.5px,#f8a82c 93.6px,#fbe82c 97px,#c4da70 101.4px,#28b468 106.7px,#10a8a0 113.8px,#10a8d6 120.5px,#04b0ee 126.6px,#0890dc 141.9px,#1074c8 156.6px,#1060b8 167.1px)"></i><i style="width:169.8px;background:linear-gradient(90deg,#ad3429 0.7px,#b1362a 20.7px,#c82432 22.7px,#d93a2b 27px,#e1402b 32.7px,#e93c29 38.6px,#ec4428 51.2px,#ee5c2c 63.8px,#ee702e 79px,#ee7430 89.1px,#f8a82c 93.2px,#fbe82c 96.7px,#c4da70 101.1px,#28b468 106.5px,#10a8a0 113.7px,#10a8d6 120.5px,#04b0ee 126.5px,#0890dc 141.6px,#1074c8 156.2px,#1060b8 166.9px)"></i><i style="width:169.8px;background:linear-gradient(90deg,#ad3529 0.7px,#b2372a 20.3px,#c82432 22.3px,#d93a2b 26.6px,#e1402b 32.3px,#e93c29 38.1px,#ec4428 50.8px,#ee5c2c 63.4px,#ee702e 78.6px,#ee7430 88.7px,#f8a82c 92.9px,#fbe82c 96.3px,#c4da70 100.8px,#28b468 106.2px,#10a8a0 113.5px,#10a8d6 120.4px,#04b0ee 126.3px,#0890dc 141.2px,#1074c8 155.7px,#1060b8 166.8px)"></i><i style="width:169.8px;background:linear-gradient(90deg,#ad3529 0.7px,#b2372a 19.9px,#c82432 21.9px,#d93b2b 26.2px,#e1412b 31.9px,#e93c29 37.7px,#ec4428 50.3px,#ee5c2c 63px,#ee702e 78.1px,#ee7430 88.2px,#f8a82c 92.5px,#fbe82c 95.9px,#c4da70 100.4px,#28b468 105.9px,#10a8a0 113.3px,#10a8d6 120.3px,#04b0ee 126.2px,#0890dc 140.8px,#1074c8 155.3px,#1060b8 166.8px)"></i><i style="width:169.7px;background:linear-gradient(90deg,#ae3529 0.7px,#b2372a 19.5px,#c82432 21.5px,#d93b2b 25.8px,#e1412b 31.4px,#e93d29 37.3px,#ec4428 49.9px,#ee5c2c 62.5px,#ee702e 77.7px,#ee7430 87.8px,#f8a82c 92.1px,#fbe82c 95.6px,#c4da70 100.1px,#28b468 105.7px,#10a8a0 113.2px,#10a8d6 120.2px,#04b0ee 126px,#0890dc 140.4px,#1074c8 154.8px,#1060b8 166.6px)"></i><i style="width:169.7px;background:linear-gradient(90deg,#ae3529 0.7px,#b2372a 19.1px,#c82432 21.1px,#d93b2b 25.4px,#e1412b 31px,#e93d29 36.9px,#ec4428 49.5px,#ee5c2c 62.1px,#ee702e 77.2px,#ee7430 87.3px,#f8a82c 91.7px,#fbe82c 95.2px,#c4da70 99.8px,#28b468 105.4px,#10a8a0 113px,#10a8d6 120.1px,#04b0ee 125.9px,#0890dc 140.1px,#1074c8 154.4px,#1060b8 166.6px)"></i><i style="width:169.7px;background:linear-gradient(90deg,#ae3529 0.7px,#b2372a 18.8px,#c82432 20.8px,#d93b2b 25px,#e1412b 30.6px,#e93d29 36.4px,#ec4428 49px,#ee5c2c 61.7px,#ee702e 76.8px,#ee7430 86.9px,#f8a82c 91.3px,#fbe82c 94.9px,#c4da70 99.5px,#28b468 105.2px,#10a8a0 112.9px,#10a8d6 120.1px,#04b0ee 125.7px,#0890dc 139.7px,#1074c8 154px,#1060b8 166.4px)"></i><i style="width:169.6px;background:linear-gradient(90deg,#ae3529 0.7px,#b2372a 18.4px,#c82432 20.4px,#d93b2b 24.6px,#e1412b 30.2px,#e93d29 36px,#ec4428 48.6px,#ee5c2c 61.2px,#ee702e 76.3px,#ee7430 86.4px,#f8a82c 90.9px,#fbe82c 94.5px,#c4da70 99.2px,#28b468 104.9px,#10a8a0 112.7px,#10a8d6 120px,#04b0ee 125.5px,#0890dc 139.3px,#1074c8 153.5px,#1060b8 166.3px)"></i><i style="width:169.6px;background:linear-gradient(90deg,#ae352a 0.7px,#b3372b 18.1px,#c82432 20.1px,#d93c2c 24.3px,#e0422b 29.8px,#e83d2a 35.6px,#ec4428 48.2px,#ee5c2c 60.8px,#ee702e 75.9px,#ee7430 85.9px,#f8a82c 90.5px,#fbe82c 94.2px,#c4da70 98.9px,#28b468 104.6px,#10a8a0 112.6px,#10a8d6 119.9px,#04b0ee 125.4px,#0890dc 139px,#1074c8 153.1px,#1060b8 166.2px)"></i><i style="width:169.6px;background:linear-gradient(90deg,#ae352a 0.7px,#b3372b 17.8px,#c82432 19.8px,#d93c2c 23.9px,#e0422b 29.4px,#e83d2a 35.1px,#ec4428 47.7px,#ee5c2c 60.3px,#ee702e 75.4px,#ee7430 85.5px,#f8a82c 90.1px,#fbe82c 93.8px,#c4da70 98.6px,#28b468 104.4px,#10a8a0 112.4px,#10a8d6 119.8px,#04b0ee 125.2px,#0890dc 138.6px,#1074c8 152.7px,#1060b8 166.1px)"></i><i style="width:169.6px;background:linear-gradient(90deg,#ae362a 0.7px,#b3382b 17.5px,#c82432 19.5px,#d93c2c 23.6px,#e0422b 29px,#e83d2a 34.7px,#ec4428 47.3px,#ee5c2c 59.9px,#ee702e 74.9px,#ee7430 85px,#f8a82c 89.7px,#fbe82c 93.5px,#c4da70 98.3px,#28b468 104.1px,#10a8a0 112.2px,#10a8d6 119.7px,#04b0ee 125.1px,#0890dc 138.3px,#1074c8 152.3px,#1060b8 166px)"></i><i style="width:169.5px;background:linear-gradient(90deg,#af362a 0.7px,#b3382b 17.2px,#c82432 19.2px,#d93c2c 23.2px,#e0422b 28.7px,#e83e2a 34.3px,#ec4428 46.8px,#ee5c2c 59.4px,#ee702e 74.5px,#ee7430 84.5px,#f8a82c 89.3px,#fbe82c 93.1px,#c4da70 98px,#28b468 103.8px,#10a8a0 112px,#10a8d6 119.5px,#04b0ee 124.9px,#0890dc 138.1px,#1074c8 152px,#1060b8 165.9px)"></i><i style="width:169.5px;background:linear-gradient(90deg,#af362a 0.7px,#b3382b 16.9px,#c82432 18.9px,#d93c2c 22.9px,#e0422b 28.3px,#e83e2a 33.8px,#ec4428 46.4px,#ee5c2c 58.9px,#ee702e 74px,#ee7430 84.1px,#f8a82c 88.9px,#fbe82c 92.8px,#c4da70 97.6px,#28b468 103.6px,#10a8a0 111.8px,#10a8d6 119.4px,#04b0ee 124.7px,#0890dc 137.8px,#1074c8 151.7px,#1060b8 165.8px)"></i><i style="width:169.5px;background:linear-gradient(90deg,#af362a 0.7px,#b3382b 16.6px,#c82432 18.6px,#d93d2c 22.5px,#e0432b 27.9px,#e83e2a 33.4px,#ec4428 45.9px,#ee5c2c 58.5px,#ee702e 73.6px,#ee7430 83.6px,#f8a82c 88.5px,#fbe82c 92.4px,#c4da70 97.3px,#28b468 103.3px,#10a8a0 111.6px,#10a8d6 119.2px,#04b0ee 124.5px,#0890dc 137.6px,#1074c8 151.4px,#1060b8 165.7px)"></i><i style="width:169.4px;background:linear-gradient(90deg,#af362a 0.7px,#b3382b 16.3px,#c82432 18.3px,#d93d2c 22.2px,#e0432b 27.5px,#e83e2a 32.9px,#ec4428 45.5px,#ee5c2c 58px,#ee702e 73.1px,#ee7430 83.1px,#f8a82c 88.1px,#fbe82c 92.1px,#c4da70 97px,#28b468 103.1px,#10a8a0 111.4px,#10a8d6 119px,#04b0ee 124.4px,#0890dc 137.4px,#1074c8 151.1px,#1060b8 165.6px)"></i><i style="width:169.4px;background:linear-gradient(90deg,#af362a 0.7px,#b4382b 16px,#c82432 18px,#d93d2c 21.8px,#e0432b 27.1px,#e83e2a 32.5px,#ec4428 45px,#ee5c2c 57.6px,#ee702e 72.6px,#ee7430 82.7px,#f8a82c 87.6px,#fbe82c 91.7px,#c4da70 96.7px,#28b468 102.8px,#10a8a0 111.1px,#10a8d6 118.8px,#04b0ee 124.2px,#0890dc 137.3px,#1074c8 150.8px,#1060b8 165.5px)"></i><i style="width:169.4px;background:linear-gradient(90deg,#af362a 0.7px,#b4382b 15.7px,#c82432 17.7px,#d93d2c 21.5px,#e0432b 26.7px,#e83e2a 32px,#ec4428 44.6px,#ee5c2c 57.1px,#ee702e 72.2px,#ee7430 82.2px,#f8a82c 87.2px,#fbe82c 91.4px,#c4da70 96.4px,#28b468 102.5px,#10a8a0 110.9px,#10a8d6 118.6px,#04b0ee 124px,#0890dc 137.1px,#1074c8 150.6px,#1060b8 165.4px)"></i><i style="width:169.4px;background:linear-gradient(90deg,#af362a 0.7px,#b4382b 15.5px,#c82432 17.5px,#d93d2c 21.2px,#e0432b 26.3px,#e83e2a 31.6px,#ec4428 44.1px,#ee5c2c 56.7px,#ee702e 71.7px,#ee7430 81.7px,#f8a82c 86.8px,#fbe82c 91px,#c4da70 96.1px,#28b468 102.3px,#10a8a0 110.6px,#10a8d6 118.3px,#04b0ee 123.8px,#0890dc 137px,#1074c8 150.3px,#1060b8 165.3px)"></i><i style="width:169.3px;background:linear-gradient(90deg,#af372a 0.7px,#b4392b 15.2px,#c82432 17.2px,#d93e2c 20.8px,#e0442b 25.9px,#e83e2a 31.1px,#ec4428 43.7px,#ee5c2c 56.2px,#ee702e 71.2px,#ee7430 81.3px,#f8a82c 86.4px,#fbe82c 90.7px,#c4da70 95.8px,#28b468 102px,#10a8a0 110.4px,#10a8d6 118.1px,#04b0ee 123.6px,#0890dc 136.8px,#1074c8 150px,#1060b8 165.2px)"></i><i style="width:169.3px;background:linear-gradient(90deg,#b0372a 0.7px,#b4392b 14.9px,#c82432 16.9px,#d83e2c 20.5px,#e0442c 25.5px,#e83f2a 30.7px,#ec4428 43.2px,#ee5c2c 55.7px,#ee702e 70.8px,#ee7430 80.8px,#f8a82c 86px,#fbe82c 90.3px,#c4da70 95.5px,#28b468 101.8px,#10a8a0 110.1px,#10a8d6 117.9px,#04b0ee 123.4px,#0890dc 136.7px,#1074c8 149.8px,#1060b8 165.1px)"></i><i style="width:169.3px;background:linear-gradient(90deg,#b0372a 0.7px,#b4392b 14.6px,#c82432 16.6px,#d83e2c 20.2px,#e0442c 25.1px,#e83f2a 30.2px,#ec4428 42.7px,#ee5c2c 55.3px,#ee702e 70.3px,#ee7430 80.3px,#f8a82c 85.6px,#fbe82c 90px,#c4da70 95.1px,#28b468 101.5px,#10a8a0 109.9px,#10a8d6 117.7px,#04b0ee 123.2px,#0890dc 136.5px,#1074c8 149.5px,#1060b8 165px)"></i><i style="width:169.2px;background:linear-gradient(90deg,#b0372a 0.7px,#b4392b 14.4px,#c82432 16.4px,#d83e2c 19.9px,#e0442c 24.7px,#e83f2a 29.8px,#ec4428 42.3px,#ee5c2c 54.8px,#ee702e 69.9px,#ee7430 79.9px,#f8a82c 85.2px,#fbe82c 89.6px,#c4da70 94.8px,#28b468 101.2px,#10a8a0 109.6px,#10a8d6 117.4px,#04b0ee 123.1px,#0890dc 136.3px,#1074c8 149.2px,#1060b8 164.9px)"></i><i style="width:169.2px;background:linear-gradient(90deg,#b0372a 0.7px,#b4392b 14.1px,#c82432 16.1px,#d83e2c 19.5px,#e0442c 24.3px,#e83f2a 29.3px,#ec4428 41.8px,#ee5c2c 54.4px,#ee702e 69.4px,#ee7430 79.4px,#f8a82c 84.8px,#fbe82c 89.2px,#c4da70 94.5px,#28b468 101px,#10a8a0 109.4px,#10a8d6 117.2px,#04b0ee 122.9px,#0890dc 136.2px,#1074c8 149px,#1060b8 164.8px)"></i><i style="width:169.2px;background:linear-gradient(90deg,#b0372a 0.7px,#b4392b 13.8px,#c82432 15.8px,#d83f2c 19.2px,#e0452c 24px,#e83f2a 28.9px,#ec4428 41.4px,#ee5c2c 53.9px,#ee702e 68.9px,#ee7430 78.9px,#f8a82c 84.4px,#fbe82c 88.9px,#c4da70 94.2px,#28b468 100.7px,#10a8a0 109.1px,#10a8d6 117px,#04b0ee 122.7px,#0890dc 136px,#1074c8 148.7px,#1060b8 164.7px)"></i><i style="width:169.2px;background:linear-gradient(90deg,#b0372a 0.7px,#b5392b 13.6px,#c82432 15.6px,#d83f2c 18.9px,#e0452c 23.6px,#e83f2a 28.4px,#ec4428 40.9px,#ee5c2c 53.4px,#ee702e 68.5px,#ee7430 78.5px,#f8a82c 84px,#fbe82c 88.5px,#c4da70 93.9px,#28b468 100.4px,#10a8a0 108.9px,#10a8d6 116.8px,#04b0ee 122.5px,#0890dc 135.9px,#1074c8 148.4px,#1060b8 164.6px)"></i><i style="width:169.1px;background:linear-gradient(90deg,#b0372a 0.7px,#b5392b 13.3px,#c82432 15.3px,#d83f2c 18.6px,#e0452c 23.2px,#e83f2a 27.9px,#ec4428 40.4px,#ee5c2c 53px,#ee702e 68px,#ee7430 78px,#f8a82c 83.6px,#fbe82c 88.2px,#c4da70 93.6px,#28b468 100.2px,#10a8a0 108.6px,#10a8d6 116.5px,#04b0ee 122.3px,#0890dc 135.7px,#1074c8 148.2px,#1060b8 164.5px)"></i><i style="width:169.1px;background:linear-gradient(90deg,#b1382a 0.7px,#b5392b 13.1px,#c82432 15.1px,#d83f2c 18.3px,#e0452c 22.8px,#e8402a 27.5px,#ec4428 40px,#ee5c2c 52.5px,#ee702e 67.5px,#ee7430 77.5px,#f8a82c 83.2px,#fbe82c 87.8px,#c4da70 93.3px,#28b468 99.9px,#10a8a0 108.4px,#10a8d6 116.3px,#04b0ee 122.1px,#0890dc 135.6px,#1074c8 147.9px,#1060b8 164.4px)"></i><i style="width:169.1px;background:linear-gradient(90deg,#b1382a 0.7px,#b5392b 12.9px,#c82432 14.9px,#d83f2c 18px,#e0452c 22.4px,#e8402a 27px,#ec4428 39.5px,#ee5c2c 52px,#ee702e 67.1px,#ee7430 77.1px,#f8a82c 82.8px,#fbe82c 87.5px,#c4da70 93px,#28b468 99.7px,#10a8a0 108.1px,#10a8d6 116.1px,#04b0ee 122px,#0890dc 135.4px,#1074c8 147.7px,#1060b8 164.3px)"></i><i style="width:169px;background:linear-gradient(90deg,#b1382a 0.7px,#b5392b 12.7px,#c82432 14.7px,#d8402c 17.7px,#e0462c 22px,#e8402a 26.5px,#ec4428 39px,#ee5c2c 51.6px,#ee702e 66.6px,#ee7430 76.6px,#f8a82c 82.4px,#fbe82c 87.1px,#c4da70 92.6px,#28b468 99.4px,#10a8a0 107.9px,#10a8d6 115.8px,#04b0ee 121.8px,#0890dc 135.2px,#1074c8 147.4px,#1060b8 164.2px)"></i><i style="width:169px;background:linear-gradient(90deg,#b1382a 0.7px,#b5392b 12.5px,#c82432 14.5px,#d8402c 17.4px,#e0462c 21.6px,#e8402a 26px,#ec4428 38.6px,#ee5c2c 51.1px,#ee702e 66.1px,#ee7430 76.1px,#f8a82c 82px,#fbe82c 86.8px,#c4da70 92.3px,#28b468 99.1px,#10a8a0 107.6px,#10a8d6 115.6px,#04b0ee 121.6px,#0890dc 135.1px,#1074c8 147.1px,#1060b8 164.1px)"></i></div>
<div class="p" style="left:227px;top:0px"><i style="width:169.6px;background:linear-gradient(90deg,#b1382a 0.7px,#b5392b 18.8px,#c82432 20.8px,#d8402c 24.7px,#e0462c 29.9px,#e8402a 35.4px,#ec4428 48.7px,#ee5c2c 62.1px,#ee702e 78.1px,#ee7430 88.8px,#f8a82c 92.3px,#fbe82c 95.1px,#c4da70 99.4px,#28b468 104.8px,#10a8a0 112.3px,#10a8d6 118.9px,#04b0ee 125.9px,#0890dc 140.9px,#1074c8 155.9px,#1060b8 167px)"></i><i style="width:169.6px;background:linear-gradient(90deg,#b1382a 0.7px,#b5392b 18.5px,#c82432 20.5px,#d8402c 24.4px,#e0462c 29.6px,#e8402a 34.9px,#ec4428 48.3px,#ee5c2c 61.7px,#ee702e 77.8px,#ee7430 88.5px,#f8a82c 92px,#fbe82c 94.8px,#c4da70 99.2px,#28b468 104.6px,#10a8a0 112.1px,#10a8d6 118.8px,#04b0ee 125.7px,#0890dc 140.8px,#1074c8 155.8px,#1060b8 166.9px)"></i><i style="width:169.6px;background:linear-gradient(90deg,#b1382a 0.7px,#b5392b 18.3px,#c82432 20.3px,#d8402c 24.1px,#e0462c 29.2px,#e8402a 34.5px,#ec4428 47.9px,#ee5c2c 61.4px,#ee702e 77.5px,#ee7430 88.2px,#f8a82c 91.7px,#fbe82c 94.5px,#c4da70 98.9px,#28b468 104.3px,#10a8a0 111.9px,#10a8d6 118.6px,#04b0ee 125.5px,#0890dc 140.7px,#1074c8 155.7px,#1060b8 166.8px)"></i><i style="width:169.5px;background:linear-gradient(90deg,#b1382a 0.7px,#b5392b 18.1px,#c82432 20.1px,#d8402c 23.7px,#e0462c 28.8px,#e8402a 34.1px,#ec4428 47.5px,#ee5c2c 61px,#ee702e 77.1px,#ee7430 87.9px,#f8a82c 91.4px,#fbe82c 94.2px,#c4da70 98.7px,#28b468 104.1px,#10a8a0 111.7px,#10a8d6 118.4px,#04b0ee 125.3px,#0890dc 140.5px,#1074c8 155.5px,#1060b8 166.8px)"></i><i style="width:169.5px;background:linear-gradient(90deg,#b1382a 0.7px,#b5392b 17.8px,#c82432 19.8px,#d8402c 23.4px,#e0462c 28.5px,#e8402a 33.6px,#ec4428 47.1px,#ee5c2c 60.6px,#ee702e 76.8px,#ee7430 87.6px,#f8a82c 91.1px,#fbe82c 93.9px,#c4da70 98.4px,#28b468 103.9px,#10a8a0 111.5px,#10a8d6 118.2px,#04b0ee 125.1px,#0890dc 140.4px,#1074c8 155.4px,#1060b8 166.7px)"></i><i style="width:169.5px;background:linear-gradient(90deg,#b1382a 0.7px,#b5392b 17.6px,#c82432 19.6px,#d8402c 23.1px,#e0462c 28.1px,#e8402a 33.2px,#ec4428 46.7px,#ee5c2c 60.2px,#ee702e 76.4px,#ee7430 87.2px,#f8a82c 90.8px,#fbe82c 93.7px,#c4da70 98.2px,#28b468 103.7px,#10a8a0 111.3px,#10a8d6 118.1px,#04b0ee 124.9px,#0890dc 140.3px,#1074c8 155.3px,#1060b8 166.6px)"></i><i style="width:169.5px;background:linear-gradient(90deg,#b1382a 0.7px,#b5392b 17.3px,#c82432 19.3px,#d8402c 22.8px,#e0462c 27.7px,#e8402a 32.8px,#ec4428 46.3px,#ee5c2c 59.9px,#ee702e 76.1px,#ee7430 86.9px,#f8a82c 90.5px,#fbe82c 93.4px,#c4da70 97.9px,#28b468 103.5px,#10a8a0 111.1px,#10a8d6 117.9px,#04b0ee 124.7px,#0890dc 140.1px,#1074c8 155.1px,#1060b8 166.6px)"></i><i style="width:169.5px;background:linear-gradient(90deg,#b1382a 0.7px,#b5392b 17.1px,#c82432 19.1px,#d8402c 22.5px,#e0462c 27.4px,#e8402a 32.4px,#ec4428 45.9px,#ee5c2c 59.5px,#ee702e 75.8px,#ee7430 86.6px,#f8a82c 90.2px,#fbe82c 93.1px,#c4da70 97.7px,#28b468 103.2px,#10a8a0 110.9px,#10a8d6 117.8px,#04b0ee 124.5px,#0890dc 140px,#1074c8 155px,#1060b8 166.5px)"></i><i style="width:169.4px;background:linear-gradient(90deg,#b1382a 0.7px,#b5392b 16.9px,#c82432 18.9px,#d8402c 22.2px,#e0462c 27px,#e8402a 31.9px,#ec4428 45.5px,#ee5c2c 59.1px,#ee702e 75.4px,#ee7430 86.3px,#f8a82c 89.9px,#fbe82c 92.8px,#c4da70 97.4px,#28b468 103px,#10a8a0 110.8px,#10a8d6 117.6px,#04b0ee 124.3px,#0890dc 139.9px,#1074c8 154.9px,#1060b8 166.4px)"></i><i style="width:169.4px;background:linear-gradient(90deg,#b1382a 0.7px,#b5392b 16.6px,#c82432 18.6px,#d8402c 21.9px,#e0462c 26.6px,#e8402a 31.5px,#ec4428 45.1px,#ee5c2c 58.7px,#ee702e 75.1px,#ee7430 86px,#f8a82c 89.6px,#fbe82c 92.5px,#c4da70 97.2px,#28b468 102.8px,#10a8a0 110.6px,#10a8d6 117.4px,#04b0ee 124.1px,#0890dc 139.7px,#1074c8 154.7px,#1060b8 166.4px)"></i><i style="width:169.4px;background:linear-gradient(90deg,#b1382a 0.7px,#b5392b 16.4px,#c82432 18.4px,#d8402c 21.6px,#e0462c 26.3px,#e8402a 31.1px,#ec4428 44.7px,#ee5c2c 58.3px,#ee702e 74.7px,#ee7430 85.6px,#f8a82c 89.3px,#fbe82c 92.3px,#c4da70 96.9px,#28b468 102.6px,#10a8a0 110.4px,#10a8d6 117.2px,#04b0ee 123.9px,#0890dc 139.6px,#1074c8 154.6px,#1060b8 166.3px)"></i><i style="width:169.4px;background:linear-gradient(90deg,#b1382a 0.7px,#b5392b 16.1px,#c82432 18.1px,#d8402c 21.3px,#e0462c 25.9px,#e8402a 30.6px,#ec4428 44.3px,#ee5c2c 58px,#ee702e 74.4px,#ee7430 85.3px,#f8a82c 89px,#fbe82c 92px,#c4da70 96.7px,#28b468 102.4px,#10a8a0 110.2px,#10a8d6 117.1px,#04b0ee 123.7px,#0890dc 139.5px,#1074c8 154.5px,#1060b8 166.2px)"></i><i style="width:169.4px;background:linear-gradient(90deg,#b1382a 0.7px,#b5392b 15.9px,#c82432 17.9px,#d8402c 21px,#e0462c 25.5px,#e8402a 30.2px,#ec4428 43.9px,#ee5c2c 57.6px,#ee702e 74px,#ee7430 85px,#f8a82c 88.7px,#fbe82c 91.7px,#c4da70 96.4px,#28b468 102.1px,#10a8a0 110px,#10a8d6 116.9px,#04b0ee 123.5px,#0890dc 139.3px,#1074c8 154.3px,#1060b8 166.2px)"></i><i style="width:169.3px;background:linear-gradient(90deg,#b1382a 0.7px,#b5392b 15.7px,#c82432 17.7px,#d8402c 20.7px,#e0462c 25.2px,#e8402a 29.8px,#ec4428 43.5px,#ee5c2c 57.2px,#ee702e 73.7px,#ee7430 84.7px,#f8a82c 88.4px,#fbe82c 91.4px,#c4da70 96.1px,#28b468 101.9px,#10a8a0 109.8px,#10a8d6 116.7px,#04b0ee 123.3px,#0890dc 139.2px,#1074c8 154.2px,#1060b8 166.1px)"></i><i style="width:169.3px;background:linear-gradient(90deg,#b1382a 0.7px,#b5392b 15.4px,#c82432 17.4px,#d8402c 20.4px,#e0462c 24.8px,#e8402a 29.3px,#ec4428 43.1px,#ee5c2c 56.8px,#ee702e 73.4px,#ee7430 84.4px,#f8a82c 88.1px,#fbe82c 91.1px,#c4da70 95.9px,#28b468 101.7px,#10a8a0 109.6px,#10a8d6 116.6px,#04b0ee 123.1px,#0890dc 139.1px,#1074c8 154.1px,#1060b8 166px)"></i></div>
<div class="p" style="left:227px;top:228px"><i style="width:172.7px;background:linear-gradient(90deg,#a52c27 0.7px,#a52c27 86.6px,#c82432 88.6px,#dc2e2a 90.2px,#e23428 93.2px,#ea3428 96.3px,#ec4428 100.7px,#ee5c2c 105px,#ee702e 110.2px,#ee7430 113.6px,#f8a82c 116px,#fbe82c 117.9px,#c4da70 121.5px,#28b468 125.9px,#10a8a0 134.9px,#10a8d6 141.8px,#04b0ee 150.8px,#0890dc 161px,#1074c8 169px,#1060b8 179px)"></i><i style="width:172.7px;background:linear-gradient(90deg,#a52c27 0.7px,#a52c27 85.9px,#c82432 87.9px,#dc2e2a 89.6px,#e23428 92.7px,#ea3428 95.8px,#ec4428 100.2px,#ee5c2c 104.6px,#ee702e 109.9px,#ee7430 113.4px,#f8a82c 115.8px,#fbe82c 117.8px,#c4da70 121.3px,#28b468 125.7px,#10a8a0 134.6px,#10a8d6 141.5px,#04b0ee 150.5px,#0890dc 161px,#1074c8 169px,#1060b8 179px)"></i><i style="width:172.7px;background:linear-gradient(90deg,#a52c27 0.7px,#a52c27 85.2px,#c82432 87.2px,#dc2e2a 89px,#e23428 92.1px,#ea3428 95.3px,#ec4428 99.8px,#ee5c2c 104.3px,#ee702e 109.7px,#ee7430 113.3px,#f8a82c 115.7px,#fbe82c 117.7px,#c4da70 121.2px,#28b468 125.5px,#10a8a0 134.4px,#10a8d6 141.2px,#04b0ee 150.2px,#0890dc 161px,#1074c8 169px,#1060b8 179px)"></i><i style="width:172.7px;background:linear-gradient(90deg,#a52c27 0.7px,#a52c27 84.6px,#c82432 86.6px,#dc2e2a 88.3px,#e23428 91.5px,#ea3428 94.8px,#ec4428 99.4px,#ee5c2c 103.9px,#ee702e 109.4px,#ee7430 113.1px,#f8a82c 115.5px,#fbe82c 117.5px,#c4da70 121px,#28b468 125.3px,#10a8a0 134.1px,#10a8d6 140.8px,#04b0ee 149.8px,#0890dc 161px,#1074c8 169px,#1060b8 179px)"></i><i style="width:172.7px;background:linear-gradient(90deg,#a52c27 0.7px,#a52c27 83.9px,#c82432 85.9px,#dc2e2a 87.7px,#e23428 91px,#ea3428 94.3px,#ec4428 98.9px,#ee5c2c 103.6px,#ee702e 109.2px,#ee7430 112.9px,#f8a82c 115.4px,#fbe82c 117.4px,#c4da70 120.8px,#28b468 125.1px,#10a8a0 133.9px,#10a8d6 140.5px,#04b0ee 149.5px,#0890dc 161px,#1074c8 169px,#1060b8 179px)"></i><i style="width:172.7px;background:linear-gradient(90deg,#a52c27 0.7px,#a52c27 83.2px,#c82432 85.2px,#dc2e2a 87.1px,#e23428 90.4px,#ea3428 93.8px,#ec4428 98.5px,#ee5c2c 103.2px,#ee702e 108.9px,#ee7430 112.7px,#f8a82c 115.2px,#fbe82c 117.3px,#c4da70 120.7px,#28b468 124.9px,#10a8a0 133.6px,#10a8d6 140.2px,#04b0ee 149.2px,#0890dc 161px,#1074c8 169px,#1060b8 179px)"></i><i style="width:172.7px;background:linear-gradient(90deg,#a52c27 0.7px,#a52c27 82.6px,#c82432 84.6px,#dc2e2a 86.5px,#e23428 89.8px,#ea3428 93.2px,#ec4428 98.1px,#ee5c2c 102.9px,#ee702e 108.7px,#ee7430 112.5px,#f8a82c 115.1px,#fbe82c 117.1px,#c4da70 120.5px,#28b468 124.6px,#10a8a0 133.4px,#10a8d6 139.8px,#04b0ee 148.8px,#0890dc 161px,#1074c8 169px,#1060b8 179px)"></i><i style="width:172.7px;background:linear-gradient(90deg,#a52c27 0.7px,#a52c27 81.9px,#c82432 83.9px,#dc2e2a 85.9px,#e23428 89.3px,#ea3428 92.7px,#ec4428 97.6px,#ee5c2c 102.5px,#ee702e 108.4px,#ee7430 112.4px,#f8a82c 114.9px,#fbe82c 117px,#c4da70 120.3px,#28b468 124.4px,#10a8a0 133.1px,#10a8d6 139.5px,#04b0ee 148.5px,#0890dc 161px,#1074c8 169px,#1060b8 179px)"></i><i style="width:172.7px;background:linear-gradient(90deg,#a52c27 0.7px,#a52c27 81.3px,#c82432 83.3px,#dc2e2a 85.3px,#e23428 88.7px,#ea3428 92.2px,#ec4428 97.2px,#ee5c2c 102.2px,#ee702e 108.2px,#ee7430 112.2px,#f8a82c 114.8px,#fbe82c 116.9px,#c4da70 120.2px,#28b468 124.2px,#10a8a0 132.9px,#10a8d6 139.2px,#04b0ee 148.2px,#0890dc 161px,#1074c8 169px,#1060b8 179px)"></i><i style="width:172.7px;background:linear-gradient(90deg,#a52c27 0.7px,#a52c27 80.6px,#c82432 82.6px,#dc2e2a 84.7px,#e23428 88.1px,#ea3428 91.7px,#ec4428 96.8px,#ee5c2c 101.8px,#ee702e 107.9px,#ee7430 112px,#f8a82c 114.6px,#fbe82c 116.7px,#c4da70 120px,#28b468 124px,#10a8a0 132.6px,#10a8d6 138.8px,#04b0ee 147.8px,#0890dc 161px,#1074c8 169px,#1060b8 179px)"></i><i style="width:172.7px;background:linear-gradient(90deg,#a52c27 0.7px,#a52c27 79.9px,#c82432 81.9px,#dc2e2a 84px,#e23428 87.6px,#ea3428 91.2px,#ec4428 96.4px,#ee5c2c 101.5px,#ee702e 107.7px,#ee7430 111.8px,#f8a82c 114.4px,#fbe82c 116.6px,#c4da70 119.8px,#28b468 123.8px,#10a8a0 132.4px,#10a8d6 138.5px,#04b0ee 147.5px,#0890dc 161px,#1074c8 169px,#1060b8 179px)"></i><i style="width:172.7px;background:linear-gradient(90deg,#a52c27 0.7px,#a52c27 79.3px,#c82432 81.3px,#dc2e2a 83.5px,#e23428 87px,#ea3428 90.7px,#ec4428 96px,#ee5c2c 101.2px,#ee702e 107.5px,#ee7430 111.6px,#f8a82c 114.3px,#fbe82c 116.5px,#c4da70 119.7px,#28b468 123.6px,#10a8a0 132.1px,#10a8d6 138.2px,#04b0ee 147.2px,#0890dc 161px,#1074c8 169px,#1060b8 179px)"></i><i style="width:172.7px;background:linear-gradient(90deg,#a52c27 0.7px,#a52c27 78.6px,#c82432 80.6px,#dc2e2a 82.9px,#e23428 86.5px,#ea3428 90.3px,#ec4428 95.6px,#ee5c2c 100.9px,#ee702e 107.2px,#ee7430 111.5px,#f8a82c 114.1px,#fbe82c 116.3px,#c4da70 119.5px,#28b468 123.4px,#10a8a0 131.9px,#10a8d6 137.8px,#04b0ee 146.8px,#0890dc 161px,#1074c8 169px,#1060b8 179px)"></i><i style="width:172.7px;background:linear-gradient(90deg,#a52c27 0.7px,#a52c27 78px,#c82432 80px,#dc2e2a 82.3px,#e23428 86px,#ea3428 89.8px,#ec4428 95.2px,#ee5c2c 100.6px,#ee702e 107px,#ee7430 111.3px,#f8a82c 114px,#fbe82c 116.2px,#c4da70 119.3px,#28b468 123.2px,#10a8a0 131.6px,#10a8d6 137.5px,#04b0ee 146.5px,#0890dc 161px,#1074c8 169px,#1060b8 179px)"></i><i style="width:172.7px;background:linear-gradient(90deg,#a52c27 0.7px,#a52c27 77.5px,#c82432 79.5px,#dc2e2a 81.8px,#e23428 85.6px,#ea3428 89.4px,#ec4428 94.8px,#ee5c2c 100.3px,#ee702e 106.8px,#ee7430 111.1px,#f8a82c 113.8px,#fbe82c 116.1px,#c4da70 119.2px,#28b468 123px,#10a8a0 131.4px,#10a8d6 137.2px,#04b0ee 146.2px,#0890dc 161px,#1074c8 169px,#1060b8 179px)"></i><i style="width:172.7px;background:linear-gradient(90deg,#a52c27 0.7px,#a52c27 76.9px,#c82432 78.9px,#dc2e2a 81.3px,#e23428 85.1px,#ea3428 89px,#ec4428 94.5px,#ee5c2c 100px,#ee702e 106.5px,#ee7430 110.9px,#f8a82c 113.7px,#fbe82c 115.9px,#c4da70 119px,#28b468 122.8px,#10a8a0 131.1px,#10a8d6 136.8px,#04b0ee 145.8px,#0890dc 161px,#1074c8 169px,#1060b8 179px)"></i><i style="width:172.7px;background:linear-gradient(90deg,#a52c27 0.7px,#a52c27 76.3px,#c82432 78.3px,#dc2e2a 80.8px,#e23428 84.7px,#ea3428 88.7px,#ec4428 94.2px,#ee5c2c 99.7px,#ee702e 106.3px,#ee7430 110.7px,#f8a82c 113.5px,#fbe82c 115.8px,#c4da70 118.8px,#28b468 122.6px,#10a8a0 130.9px,#10a8d6 136.5px,#04b0ee 145.5px,#0890dc 161px,#1074c8 169px,#1060b8 179px)"></i><i style="width:172.7px;background:linear-gradient(90deg,#a52c27 0.7px,#a52c27 75.8px,#c82432 77.8px,#dc2e2a 80.3px,#e23428 84.3px,#ea3428 88.3px,#ec4428 93.9px,#ee5c2c 99.4px,#ee702e 106.1px,#ee7430 110.6px,#f8a82c 113.4px,#fbe82c 115.7px,#c4da70 118.7px,#28b468 122.4px,#10a8a0 130.6px,#10a8d6 136.2px,#04b0ee 145.2px,#0890dc 161px,#1074c8 169px,#1060b8 179px)"></i><i style="width:172.7px;background:linear-gradient(90deg,#a52c27 0.7px,#a52c27 75.3px,#c82432 77.3px,#dc2e2a 79.9px,#e23428 83.8px,#ea3428 87.9px,#ec4428 93.5px,#ee5c2c 99.2px,#ee702e 105.9px,#ee7430 110.4px,#f8a82c 113.2px,#fbe82c 115.5px,#c4da70 118.5px,#28b468 122.1px,#10a8a0 130.4px,#10a8d6 135.8px,#04b0ee 144.8px,#0890dc 161px,#1074c8 169px,#1060b8 179px)"></i><i style="width:172.7px;background:linear-gradient(90deg,#a52c27 0.7px,#a52c27 74.8px,#c82432 76.8px,#dc2e2a 79.4px,#e23428 83.4px,#ea3428 87.6px,#ec4428 93.2px,#ee5c2c 98.9px,#ee702e 105.7px,#ee7430 110.2px,#f8a82c 113.1px,#fbe82c 115.4px,#c4da70 118.3px,#28b468 121.9px,#10a8a0 130.1px,#10a8d6 135.5px,#04b0ee 144.5px,#0890dc 161px,#1074c8 169px,#1060b8 179px)"></i><i style="width:172.7px;background:linear-gradient(90deg,#a52c27 0.7px,#a52c27 74.2px,#c82432 76.2px,#dc2e2a 78.9px,#e23428 83px,#ea3428 87.2px,#ec4428 92.9px,#ee5c2c 98.6px,#ee702e 105.5px,#ee7430 110px,#f8a82c 112.9px,#fbe82c 115.3px,#c4da70 118.2px,#28b468 121.7px,#10a8a0 129.9px,#10a8d6 135.2px,#04b0ee 144.2px,#0890dc 161px,#1074c8 169px,#1060b8 179px)"></i><i style="width:172.7px;background:linear-gradient(90deg,#a52c27 0.7px,#a52c27 73.7px,#c82432 75.7px,#dc2e2a 78.4px,#e23428 82.6px,#ea3428 86.8px,#ec4428 92.6px,#ee5c2c 98.3px,#ee702e 105.2px,#ee7430 109.8px,#f8a82c 112.8px,#fbe82c 115.1px,#c4da70 118px,#28b468 121.5px,#10a8a0 129.6px,#10a8d6 134.8px,#04b0ee 143.8px,#0890dc 161px,#1074c8 169px,#1060b8 179px)"></i><i style="width:172.7px;background:linear-gradient(90deg,#a52c27 0.7px,#a52c27 73.2px,#c82432 75.2px,#dc2e2a 78px,#e23428 82.1px,#ea3428 86.5px,#ec4428 92.3px,#ee5c2c 98.1px,#ee702e 105px,#ee7430 109.7px,#f8a82c 112.6px,#fbe82c 115px,#c4da70 117.8px,#28b468 121.3px,#10a8a0 129.4px,#10a8d6 134.5px,#04b0ee 143.5px,#0890dc 161px,#1074c8 169px,#1060b8 179px)"></i><i style="width:172.7px;background:linear-gradient(90deg,#a52c27 0.7px,#a52c27 72.7px,#c82432 74.7px,#dc2e2a 77.5px,#e23428 81.7px,#ea3428 86.1px,#ec4428 91.9px,#ee5c2c 97.8px,#ee702e 104.8px,#ee7430 109.5px,#f8a82c 112.4px,#fbe82c 114.9px,#c4da70 117.7px,#28b468 121.1px,#10a8a0 129.1px,#10a8d6 134.2px,#04b0ee 143.2px,#0890dc 161px,#1074c8 169px,#1060b8 179px)"></i></div>
<svg width="448" height="252" viewBox="0 0 448 252"><defs><linearGradient id="g1t" gradientUnits="userSpaceOnUse" x1="0" x2="0" y1="-122" y2="15"><stop offset="0.000" stop-color="#f26a21"/><stop offset="0.058" stop-color="#f68a1e"/><stop offset="0.131" stop-color="#f5a81c"/><stop offset="0.241" stop-color="#f5e61c"/><stop offset="0.314" stop-color="#a8d04a"/><stop offset="0.372" stop-color="#70c070"/><stop offset="0.438" stop-color="#20b090"/><stop offset="0.504" stop-color="#10a8a8"/><stop offset="0.555" stop-color="#10a0c0"/><stop offset="0.613" stop-color="#10a0c8"/><stop offset="0.745" stop-color="#10a8f0"/><stop offset="0.847" stop-color="#10a4ec"/><stop offset="0.905" stop-color="#1090e0"/><stop offset="0.956" stop-color="#1078cc"/><stop offset="1.000" stop-color="#1068c0"/></linearGradient><linearGradient id="g2t" gradientUnits="userSpaceOnUse" x1="0" x2="0" y1="-122" y2="15"><stop offset="0.000" stop-color="#a01c20"/><stop offset="0.058" stop-color="#b41e23"/><stop offset="0.175" stop-color="#d8222a"/><stop offset="0.299" stop-color="#e6242a"/><stop offset="0.511" stop-color="#e83820"/><stop offset="0.745" stop-color="#f05a22"/><stop offset="1.000" stop-color="#f07828"/></linearGradient><linearGradient id="g1m" gradientUnits="userSpaceOnUse" x1="0" x2="0" y1="52" y2="189"><stop offset="0.000" stop-color="#f26a21"/><stop offset="0.058" stop-color="#f68a1e"/><stop offset="0.131" stop-color="#f5a81c"/><stop offset="0.241" stop-color="#f5e61c"/><stop offset="0.314" stop-color="#a8d04a"/><stop offset="0.372" stop-color="#70c070"/><stop offset="0.438" stop-color="#20b090"/><stop offset="0.504" stop-color="#10a8a8"/><stop offset="0.555" stop-color="#10a0c0"/><stop offset="0.613" stop-color="#10a0c8"/><stop offset="0.745" stop-color="#10a8f0"/><stop offset="0.847" stop-color="#10a4ec"/><stop offset="0.905" stop-color="#1090e0"/><stop offset="0.956" stop-color="#1078cc"/><stop offset="1.000" stop-color="#1068c0"/></linearGradient><linearGradient id="g2m" gradientUnits="userSpaceOnUse" x1="0" x2="0" y1="52" y2="189"><stop offset="0.000" stop-color="#a01c20"/><stop offset="0.058" stop-color="#b41e23"/><stop offset="0.175" stop-color="#d8222a"/><stop offset="0.299" stop-color="#e6242a"/><stop offset="0.511" stop-color="#e83820"/><stop offset="0.745" stop-color="#f05a22"/><stop offset="1.000" stop-color="#f07828"/></linearGradient><linearGradient id="g1u" gradientUnits="userSpaceOnUse" x1="0" x2="0" y1="228" y2="365"><stop offset="0.000" stop-color="#f26a21"/><stop offset="0.058" stop-color="#f68a1e"/><stop offset="0.131" stop-color="#f5a81c"/><stop offset="0.241" stop-color="#f5e61c"/><stop offset="0.314" stop-color="#a8d04a"/><stop offset="0.372" stop-color="#70c070"/><stop offset="0.438" stop-color="#20b090"/><stop offset="0.504" stop-color="#10a8a8"/><stop offset="0.555" stop-color="#10a0c0"/><stop offset="0.613" stop-color="#10a0c8"/><stop offset="0.745" stop-color="#10a8f0"/><stop offset="0.847" stop-color="#10a4ec"/><stop offset="0.905" stop-color="#1090e0"/><stop offset="0.956" stop-color="#1078cc"/><stop offset="1.000" stop-color="#1068c0"/></linearGradient><linearGradient id="g2u" gradientUnits="userSpaceOnUse" x1="0" x2="0" y1="228" y2="365"><stop offset="0.000" stop-color="#a01c20"/><stop offset="0.058" stop-color="#b41e23"/><stop offset="0.175" stop-color="#d8222a"/><stop offset="0.299" stop-color="#e6242a"/><stop offset="0.511" stop-color="#e83820"/><stop offset="0.745" stop-color="#f05a22"/><stop offset="1.000" stop-color="#f07828"/></linearGradient></defs>
<rect x="30" y="52" width="0.4" height="137" fill="#fff"/>
<rect x="30.4" y="51.7" width="171.1" height="137.3" fill="none" stroke="#1a1008" stroke-width="0.45" stroke-opacity=".6"/>
<path d="M39.91 189v-3M39.91 52v3M49.41 189v-3M49.41 52v3M58.92 189v-3M58.92 52v3M68.42 189v-3M68.42 52v3M77.93 189v-3M77.93 52v3M87.43 189v-6M87.43 52v6M96.94 189v-3M96.94 52v3M106.44 189v-3M106.44 52v3M115.95 189v-3M115.95 52v3M125.46 189v-3M125.46 52v3M134.96 189v-3M134.96 52v3M144.47 189v-6M144.47 52v6M153.97 189v-3M153.97 52v3M163.48 189v-3M163.48 52v3M172.98 189v-3M172.98 52v3M182.49 189v-3M182.49 52v3M191.99 189v-3M191.99 52v3M30.4 168.38h1.7M201.5 168.38h-3.6M30.4 156.32h1.7M201.5 156.32h-3.6M30.4 147.76h1.7M201.5 147.76h-3.6M30.4 141.12h1.7M201.5 141.12h-3.6M30.4 135.7h1.7M201.5 135.7h-3.6M30.4 131.11h1.7M201.5 131.11h-3.6M30.4 127.14h1.7M201.5 127.14h-3.6M30.4 123.63h1.7M201.5 123.63h-3.6M30.4 120.5h3.2M201.5 120.5h-8.2M30.4 99.88h1.7M201.5 99.88h-3.6M30.4 87.82h1.7M201.5 87.82h-3.6M30.4 79.26h1.7M201.5 79.26h-3.6M30.4 72.62h1.7M201.5 72.62h-3.6M30.4 67.2h1.7M201.5 67.2h-3.6M30.4 62.61h1.7M201.5 62.61h-3.6M30.4 58.64h1.7M201.5 58.64h-3.6M30.4 55.13h1.7M201.5 55.13h-3.6" stroke="#1a1008" stroke-width="0.7" fill="none"/>
<rect x="30" y="0" width="0.4" height="15" fill="#fff"/>
<rect x="30.4" y="-5" width="171.1" height="20.3" fill="none" stroke="#1a1008" stroke-width="0.45" stroke-opacity=".6"/>
<path d="M39.91 15v-3M49.41 15v-3M58.92 15v-3M68.42 15v-3M77.93 15v-3M87.43 15v-6M96.94 15v-3M106.44 15v-3M115.95 15v-3M125.46 15v-3M134.96 15v-3M144.47 15v-6M153.97 15v-3M163.48 15v-3M172.98 15v-3M182.49 15v-3M191.99 15v-3" stroke="#1a1008" stroke-width="0.7" fill="none"/>
<rect x="30" y="228" width="0.4" height="24" fill="#fff"/>
<rect x="30.4" y="227.7" width="171.1" height="32.3" fill="none" stroke="#1a1008" stroke-width="0.45" stroke-opacity=".6"/>
<path d="M39.91 228v3M49.41 228v3M58.92 228v3M68.42 228v3M77.93 228v3M87.43 228v6M96.94 228v3M106.44 228v3M115.95 228v3M125.46 228v3M134.96 228v3M144.47 228v6M153.97 228v3M163.48 228v3M172.98 228v3M182.49 228v3M191.99 228v3M30.4 248.62h1.7M201.5 248.62h-3.6M30.4 243.2h1.7M201.5 243.2h-3.6M30.4 238.61h1.7M201.5 238.61h-3.6M30.4 234.64h1.7M201.5 234.64h-3.6M30.4 231.13h1.7M201.5 231.13h-3.6" stroke="#1a1008" stroke-width="0.7" fill="none"/>
<rect x="227" y="52" width="0.7" height="137" fill="#fff"/>
<rect x="227.7" y="51.7" width="172" height="137.3" fill="none" stroke="#1a1008" stroke-width="0.45" stroke-opacity=".6"/>
<path d="M237.26 189v-3M237.26 52v3M246.81 189v-3M246.81 52v3M256.37 189v-3M256.37 52v3M265.92 189v-3M265.92 52v3M275.48 189v-3M275.48 52v3M285.03 189v-6M285.03 52v6M294.59 189v-3M294.59 52v3M304.14 189v-3M304.14 52v3M313.7 189v-3M313.7 52v3M323.26 189v-3M323.26 52v3M332.81 189v-3M332.81 52v3M342.37 189v-6M342.37 52v6M351.92 189v-3M351.92 52v3M361.48 189v-3M361.48 52v3M371.03 189v-3M371.03 52v3M380.59 189v-3M380.59 52v3M390.14 189v-3M390.14 52v3M227.7 168.38h1.7M399.7 168.38h-3.6M227.7 156.32h1.7M399.7 156.32h-3.6M227.7 147.76h1.7M399.7 147.76h-3.6M227.7 141.12h1.7M399.7 141.12h-3.6M227.7 135.7h1.7M399.7 135.7h-3.6M227.7 131.11h1.7M399.7 131.11h-3.6M227.7 127.14h1.7M399.7 127.14h-3.6M227.7 123.63h1.7M399.7 123.63h-3.6M227.7 120.5h3.2M399.7 120.5h-8.2M227.7 99.88h1.7M399.7 99.88h-3.6M227.7 87.82h1.7M399.7 87.82h-3.6M227.7 79.26h1.7M399.7 79.26h-3.6M227.7 72.62h1.7M399.7 72.62h-3.6M227.7 67.2h1.7M399.7 67.2h-3.6M227.7 62.61h1.7M399.7 62.61h-3.6M227.7 58.64h1.7M399.7 58.64h-3.6M227.7 55.13h1.7M399.7 55.13h-3.6" stroke="#1a1008" stroke-width="0.7" fill="none"/>
<rect x="227" y="0" width="0.7" height="15" fill="#fff"/>
<rect x="227.7" y="-5" width="172" height="20.3" fill="none" stroke="#1a1008" stroke-width="0.45" stroke-opacity=".6"/>
<path d="M237.26 15v-3M246.81 15v-3M256.37 15v-3M265.92 15v-3M275.48 15v-3M285.03 15v-6M294.59 15v-3M304.14 15v-3M313.7 15v-3M323.26 15v-3M332.81 15v-3M342.37 15v-6M351.92 15v-3M361.48 15v-3M371.03 15v-3M380.59 15v-3M390.14 15v-3" stroke="#1a1008" stroke-width="0.7" fill="none"/>
<rect x="227" y="228" width="0.7" height="24" fill="#fff"/>
<rect x="227.7" y="227.7" width="172" height="32.3" fill="none" stroke="#1a1008" stroke-width="0.45" stroke-opacity=".6"/>
<path d="M237.26 228v3M246.81 228v3M256.37 228v3M265.92 228v3M275.48 228v3M285.03 228v6M294.59 228v3M304.14 228v3M313.7 228v3M323.26 228v3M332.81 228v3M342.37 228v6M351.92 228v3M361.48 228v3M371.03 228v3M380.59 228v3M390.14 228v3M227.7 248.62h1.7M399.7 248.62h-3.6M227.7 243.2h1.7M399.7 243.2h-3.6M227.7 238.61h1.7M399.7 238.61h-3.6M227.7 234.64h1.7M399.7 234.64h-3.6M227.7 231.13h1.7M399.7 231.13h-3.6" stroke="#1a1008" stroke-width="0.7" fill="none"/>
<path d="M80.46 61L80.99 60L81.51 59L82.02 58L82.53 57L83.03 56L83.52 55L84.01 54L84.51 53L85 52" fill="none" stroke="#1a1008" stroke-width="0.75" stroke-dasharray="4.6 3"/>
<path d="M44.16 162L44.36 161L44.57 160L44.78 159L44.99 158L45.2 157L45.42 156L45.63 155L45.85 154L46.07 153L46.3 152L46.52 151L46.75 150L46.98 149L47.2 148L47.42 147L47.65 146L47.87 145L48.1 144L48.32 143L48.56 142L48.81 141L49.06 140L49.33 139L49.61 138L49.9 137L50.2 136L50.5 135L50.8 134L51.1 133L51.4 132L51.7 131L52 130L52.3 129L52.6 128L52.9 127L53.2 126L53.5 125L53.8 124L54.11 123L54.42 122L54.73 121L55.05 120L55.37 119L55.69 118L56.01 117L56.34 116L56.66 115L56.98 114L57.3 113L57.63 112L57.95 111L58.27 110L58.6 109L58.92 108L59.24 107L59.56 106L59.89 105L60.21 104L60.53 103L60.87 102L61.23 101L61.6 100L61.98 99L62.39 98L62.81 97L63.24 96L63.68 95L64.11 94L64.55 93L64.99 92L65.42 91L65.86 90L66.29 89L66.73 88L67.18 87L67.63 86L68.08 85L68.54 84L69.01 83L69.47 82L69.94 81L70.41 80L70.89 79L71.37 78L71.86 77L72.37 76L72.89 75L73.41 74L73.95 73L74.49 72" fill="none" stroke="#1a1008" stroke-width="0.75" stroke-dasharray="4.6 3"/>
<path d="M39.7 189L39.85 188L39.99 187L40.14 186L40.29 185L40.44 184L40.58 183L40.73 182L40.88 181L41.03 180L41.17 179L41.32 178L41.47 177L41.62 176L41.76 175L41.91 174L42.06 173" fill="none" stroke="#1a1008" stroke-width="0.75" stroke-dasharray="4.6 3"/>
<text transform="translate(75.2 65.7) rotate(-61)" y="3.4" text-anchor="middle" class="cl">10</text>
<text transform="translate(41.7 166.7) rotate(-79)" y="3.4" text-anchor="middle" class="cl">10</text>
<path d="M100.32 61L100.79 60L101.25 59L101.72 58L102.18 57L102.64 56L103.11 55L103.57 54L104.04 53L104.5 52" fill="none" stroke="#1a1008" stroke-width="0.75" stroke-dasharray="4.6 3"/>
<path d="M64.24 143L64.59 142L64.95 141L65.34 140L65.74 139L66.15 138L66.59 137L67.03 136L67.47 135L67.91 134L68.35 133L68.79 132L69.23 131L69.67 130L70.11 129L70.55 128L71 127L71.44 126L71.88 125L72.32 124L72.77 123L73.22 122L73.67 121L74.13 120L74.59 119L75.05 118L75.52 117L75.98 116L76.45 115L76.91 114L77.37 113L77.84 112L78.3 111L78.76 110L79.23 109L79.69 108L80.15 107L80.62 106L81.08 105L81.55 104L82.01 103L82.47 102L82.94 101L83.41 100L83.87 99L84.34 98L84.81 97L85.29 96L85.76 95L86.23 94L86.7 93L87.17 92L87.64 91L88.11 90L88.59 89L89.04 88L89.49 87L89.92 86L90.34 85L90.74 84L91.13 83L91.51 82L91.88 81L92.26 80L92.64 79L93.01 78L93.39 77L93.77 76L94.14 75L94.53 74L94.92 73L95.33 72L95.75 71L96.18 70L96.62 69L97.08 68" fill="none" stroke="#1a1008" stroke-width="0.75" stroke-dasharray="4.6 3"/>
<path d="M50.7 189L50.98 188L51.26 187L51.54 186L51.82 185L52.1 184L52.38 183L52.66 182L52.95 181L53.23 180L53.51 179L53.79 178L54.07 177L54.35 176L54.63 175L54.91 174L55.19 173L55.47 172L55.75 171L56.03 170L56.31 169L56.59 168L56.87 167L57.15 166L57.44 165L57.72 164L58 163L58.28 162L58.56 161L58.84 160L59.14 159L59.44 158L59.74 157L60.05 156L60.37 155L60.69 154L61.01 153L61.33 152L61.65 151" fill="none" stroke="#1a1008" stroke-width="0.75" stroke-dasharray="4.6 3"/>
<text transform="translate(97.4 63.6) rotate(-65)" y="3.4" text-anchor="middle" class="cl">5</text>
<text transform="translate(61.7 146.3) rotate(-72)" y="3.4" text-anchor="middle" class="cl">5</text>
<path d="M146.07 57L146.36 56L146.64 55L146.93 54L147.21 53L147.5 52" fill="none" stroke="#1a1008" stroke-width="0.75" stroke-dasharray="4.6 3"/>
<path d="M116.77 153L117.2 152L117.62 151L118.05 150L118.47 149L118.9 148L119.33 147L119.75 146L120.17 145L120.6 144L121.02 143L121.44 142L121.84 141L122.23 140L122.61 139L122.98 138L123.33 137L123.68 136L124.02 135L124.37 134L124.71 133L125.06 132L125.4 131L125.75 130L126.09 129L126.44 128L126.78 127L127.13 126L127.47 125L127.82 124L128.16 123L128.5 122L128.82 121L129.12 120L129.42 119L129.7 118L129.97 117L130.22 116L130.47 115L130.73 114L130.98 113L131.24 112L131.49 111L131.75 110L132 109L132.26 108L132.51 107L132.77 106L133.03 105L133.28 104L133.53 103L133.79 102L134.05 101L134.3 100L134.56 99L134.82 98L135.08 97L135.34 96L135.6 95L135.86 94L136.12 93L136.38 92L136.64 91L136.9 90L137.16 89L137.42 88L137.68 87L137.94 86L138.2 85L138.46 84L138.72 83L138.98 82L139.25 81L139.52 80L139.8 79L140.08 78L140.36 77L140.64 76L140.93 75L141.21 74L141.5 73L141.79 72L142.07 71L142.36 70L142.64 69L142.93 68L143.21 67L143.5 66L143.79 65L144.07 64" fill="none" stroke="#1a1008" stroke-width="0.75" stroke-dasharray="4.6 3"/>
<path d="M101.7 189L102.12 188L102.53 187L102.95 186L103.37 185L103.79 184L104.2 183L104.62 182L105.04 181L105.46 180L105.87 179L106.29 178L106.71 177L107.12 176L107.54 175L107.96 174L108.38 173L108.79 172L109.21 171L109.63 170L110.04 169L110.46 168L110.88 167L111.3 166L111.71 165L112.13 164L112.55 163L112.97 162L113.39 161" fill="none" stroke="#1a1008" stroke-width="0.75" stroke-dasharray="4.6 3"/>
<text transform="translate(142.9 59.7) rotate(-74)" y="3.4" text-anchor="middle" class="cl">1</text>
<text transform="translate(113.5 156) rotate(-67)" y="3.4" text-anchor="middle" class="cl">1</text>
<path d="M42.6 15L42.77 14L42.93 13L43.1 12L43.27 11L43.43 10L43.6 9L43.77 8L43.93 7L44.1 6L44.27 5L44.43 4L44.6 3L44.77 2L44.93 1L45.1 0" fill="none" stroke="#1a1008" stroke-width="0.75" stroke-dasharray="4.6 3"/>
<path d="M55.9 15L56.11 14L56.31 13L56.52 12L56.73 11L56.93 10L57.14 9L57.35 8L57.55 7L57.76 6L57.97 5L58.17 4L58.38 3L58.59 2L58.79 1L59 0" fill="none" stroke="#1a1008" stroke-width="0.75" stroke-dasharray="4.6 3"/>
<path d="M110.3 15L110.66 14L111.02 13L111.38 12L111.74 11L112.1 10L112.46 9L112.82 8L113.18 7L113.54 6L113.9 5L114.26 4L114.62 3L114.98 2L115.34 1L115.7 0" fill="none" stroke="#1a1008" stroke-width="0.75" stroke-dasharray="4.6 3"/>
<path d="M74.98 236L75.69 235L76.41 234L77.12 233L77.84 232L78.55 231L79.27 230L79.98 229L80.7 228" fill="none" stroke="#1a1008" stroke-width="0.75" stroke-dasharray="4.6 3"/>
<path d="M67.49 252L67.92 251L68.33 250L68.72 249L69.09 248" fill="none" stroke="#1a1008" stroke-width="0.75" stroke-dasharray="4.6 3"/>
<text transform="translate(71.4 241) rotate(-63)" y="3.4" text-anchor="middle" class="cl">10</text>
<path d="M94.12 237L94.68 236L95.26 235L95.83 234L96.41 233L96.99 232L97.57 231L98.14 230L98.72 229L99.3 228" fill="none" stroke="#1a1008" stroke-width="0.75" stroke-dasharray="4.6 3"/>
<path d="M88.5 252L88.88 251L89.24 250L89.6 249L89.94 248L90.28 247L90.61 246L90.93 245L91.24 244" fill="none" stroke="#1a1008" stroke-width="0.75" stroke-dasharray="4.6 3"/>
<text transform="translate(92.6 239.6) rotate(-67)" y="3.4" text-anchor="middle" class="cl">5</text>
<path d="M140.94 233L141.25 232L141.56 231L141.88 230L142.19 229L142.5 228" fill="none" stroke="#1a1008" stroke-width="0.75" stroke-dasharray="4.6 3"/>
<path d="M135 252L135.31 251L135.62 250L135.94 249L136.25 248L136.56 247L136.87 246L137.19 245L137.5 244L137.81 243L138.12 242L138.44 241L138.75 240" fill="none" stroke="#1a1008" stroke-width="0.75" stroke-dasharray="4.6 3"/>
<text transform="translate(138.2 235.7) rotate(-73)" y="3.4" text-anchor="middle" class="cl">1</text>
<path d="M308.73 61L309.2 60L309.68 59L310.15 58L310.63 57L311.1 56L311.58 55L312.05 54L312.53 53L313 52" fill="none" stroke="#1a1008" stroke-width="0.75" stroke-dasharray="4.6 3"/>
<path d="M251.22 154L251.76 153L252.32 152L252.91 151L253.52 150L254.15 149L254.79 148L255.42 147L256.05 146L256.67 145L257.3 144L257.93 143L258.55 142L259.17 141L259.8 140L260.43 139L261.05 138L261.68 137L262.3 136L262.93 135L263.55 134L264.18 133L264.8 132L265.42 131L266.05 130L266.68 129L267.3 128L267.92 127L268.55 126L269.18 125L269.8 124L270.43 123L271.05 122L271.68 121L272.3 120L272.93 119L273.55 118L274.17 117L274.8 116L275.43 115L276.06 114L276.71 113L277.38 112L278.05 111L278.74 110L279.44 109L280.16 108L280.87 107L281.59 106L282.3 105L283.01 104L283.73 103L284.44 102L285.16 101L285.87 100L286.59 99L287.3 98L288.01 97L288.73 96L289.44 95L290.16 94L290.87 93L291.59 92L292.3 91L293.01 90L293.73 89L294.44 88L295.16 87L295.84 86L296.49 85L297.1 84L297.68 83L298.23 82L298.75 81L299.23 80L299.72 79L300.2 78L300.69 77L301.18 76L301.68 75L302.19 74L302.7 73L303.22 72" fill="none" stroke="#1a1008" stroke-width="0.75" stroke-dasharray="4.6 3"/>
<path d="M240 189L240.2 188L240.4 187L240.61 186L240.83 185L241.06 184L241.31 183L241.56 182L241.83 181L242.1 180L242.38 179L242.65 178L242.92 177L243.2 176L243.47 175L243.75 174L244.03 173L244.32 172L244.62 171L244.92 170L245.23 169L245.55 168L245.87 167L246.21 166" fill="none" stroke="#1a1008" stroke-width="0.75" stroke-dasharray="4.6 3"/>
<text transform="translate(304.5 65.7) rotate(-63)" y="3.4" text-anchor="middle" class="cl">10</text>
<text transform="translate(247.3 159.4) rotate(-67)" y="3.4" text-anchor="middle" class="cl">10</text>
<path d="M319.4 61L319.72 60L320.04 59L320.36 58L320.69 57L321.01 56L321.33 55L321.65 54L321.98 53L322.3 52" fill="none" stroke="#1a1008" stroke-width="0.75" stroke-dasharray="4.6 3"/>
<path d="M276.61 140L277.32 139L278.03 138L278.74 137L279.45 136L280.16 135L280.86 134L281.57 133L282.28 132L282.99 131L283.7 130L284.41 129L285.12 128L285.83 127L286.54 126L287.25 125L287.95 124L288.66 123L289.37 122L290.07 121L290.75 120L291.42 119L292.08 118L292.72 117L293.36 116L293.98 115L294.59 114L295.21 113L295.83 112L296.45 111L297.07 110L297.69 109L298.31 108L298.92 107L299.54 106L300.15 105L300.75 104L301.33 103L301.9 102L302.46 101L303.01 100L303.55 99L304.08 98L304.62 97L305.16 96L305.69 95L306.23 94L306.77 93L307.31 92L307.84 91L308.38 90L308.92 89L309.45 88L309.99 87L310.5 86L310.99 85L311.45 84L311.88 83L312.29 82L312.68 81L313.04 80L313.4 79L313.76 78L314.12 77L314.47 76L314.82 75L315.17 74L315.51 73L315.84 72L316.17 71L316.49 70L316.81 69" fill="none" stroke="#1a1008" stroke-width="0.75" stroke-dasharray="4.6 3"/>
<path d="M252.8 189L253.28 188L253.76 187L254.23 186L254.7 185L255.16 184L255.63 183L256.09 182L256.54 181L256.99 180L257.45 179L257.9 178L258.35 177L258.81 176L259.26 175L259.71 174L260.16 173L260.6 172L261.04 171L261.48 170L261.92 169L262.35 168L262.78 167L263.21 166L263.64 165L264.07 164L264.5 163L264.93 162L265.36 161L265.79 160L266.22 159L266.65 158L267.08 157L267.51 156L267.96 155L268.43 154L268.91 153L269.42 152L269.94 151L270.49 150L271.05 149L271.61 148" fill="none" stroke="#1a1008" stroke-width="0.75" stroke-dasharray="4.6 3"/>
<text transform="translate(316.6 64.5) rotate(-72)" y="3.4" text-anchor="middle" class="cl">5</text>
<text transform="translate(273.4 143.4) rotate(-57)" y="3.4" text-anchor="middle" class="cl">5</text>
<path d="M342.16 57L342.33 56L342.5 55L342.66 54L342.83 53L343 52" fill="none" stroke="#1a1008" stroke-width="0.75" stroke-dasharray="4.6 3"/>
<path d="M318.55 154L318.92 153L319.28 152L319.65 151L320.01 150L320.37 149L320.72 148L321.08 147L321.43 146L321.79 145L322.14 144L322.5 143L322.86 142L323.21 141L323.57 140L323.92 139L324.28 138L324.63 137L324.98 136L325.33 135L325.67 134L326 133L326.33 132L326.65 131L326.97 130L327.28 129L327.6 128L327.92 127L328.23 126L328.55 125L328.87 124L329.18 123L329.5 122L329.82 121L330.13 120L330.45 119L330.75 118L331.03 117L331.29 116L331.54 115L331.77 114L331.97 113L332.17 112L332.36 111L332.55 110L332.74 109L332.93 108L333.12 107L333.32 106L333.51 105L333.7 104L333.89 103L334.08 102L334.27 101L334.47 100L334.66 99L334.85 98L335.04 97L335.23 96L335.43 95L335.62 94L335.81 93L336 92L336.19 91L336.38 90L336.57 89L336.77 88L336.96 87L337.15 86L337.34 85L337.53 84L337.73 83L337.91 82L338.1 81L338.28 80L338.46 79L338.63 78L338.8 77L338.97 76L339.14 75L339.31 74L339.48 73L339.64 72L339.81 71L339.98 70L340.15 69L340.31 68L340.48 67L340.65 66L340.82 65" fill="none" stroke="#1a1008" stroke-width="0.75" stroke-dasharray="4.6 3"/>
<path d="M302.9 189L303.37 188L303.83 187L304.3 186L304.77 185L305.24 184L305.7 183L306.17 182L306.64 181L307.1 180L307.57 179L308.04 178L308.51 177L308.97 176L309.44 175L309.91 174L310.37 173L310.84 172L311.31 171L311.78 170L312.24 169L312.71 168L313.18 167L313.64 166L314.11 165L314.57 164L315.02 163L315.45 162L315.87 161" fill="none" stroke="#1a1008" stroke-width="0.75" stroke-dasharray="4.6 3"/>
<text transform="translate(340.9 60.4) rotate(-80)" y="3.4" text-anchor="middle" class="cl">1</text>
<text transform="translate(316.2 156.6) rotate(-69)" y="3.4" text-anchor="middle" class="cl">1</text>
<path d="M242.9 15L243.14 14L243.38 13L243.62 12L243.86 11L244.1 10L244.34 9L244.58 8L244.82 7L245.06 6L245.3 5L245.54 4L245.78 3L246.02 2L246.26 1L246.5 0" fill="none" stroke="#1a1008" stroke-width="0.75" stroke-dasharray="4.6 3"/>
<path d="M256.1 15L256.53 14L256.97 13L257.4 12L257.83 11L258.27 10L258.7 9L259.13 8L259.57 7L260 6L260.43 5L260.87 4L261.3 3L261.73 2L262.17 1L262.6 0" fill="none" stroke="#1a1008" stroke-width="0.75" stroke-dasharray="4.6 3"/>
<path d="M311.2 15L311.52 14L311.84 13L312.16 12L312.48 11L312.8 10L313.12 9L313.44 8L313.76 7L314.08 6L314.4 5L314.72 4L315.04 3L315.36 2L315.68 1L316 0" fill="none" stroke="#1a1008" stroke-width="0.75" stroke-dasharray="4.6 3"/>
<path d="M308.52 237L309.19 236L309.85 235L310.51 234L311.18 233L311.84 232L312.51 231L313.17 230L313.84 229L314.5 228" fill="none" stroke="#1a1008" stroke-width="0.75" stroke-dasharray="4.6 3"/>
<path d="M300 252L300.52 251L301.05 250L301.57 249L302.1 248" fill="none" stroke="#1a1008" stroke-width="0.75" stroke-dasharray="4.6 3"/>
<text transform="translate(305.4 241.7) rotate(-60)" y="3.4" text-anchor="middle" class="cl">10</text>
<path d="M318.45 238L318.96 237L319.47 236L319.99 235L320.5 234L321.02 233L321.54 232L322.05 231L322.57 230L323.08 229L323.6 228" fill="none" stroke="#1a1008" stroke-width="0.75" stroke-dasharray="4.6 3"/>
<path d="M312.9 252L313.27 251L313.64 250L314.01 249L314.37 248L314.74 247L315.11 246L315.48 245" fill="none" stroke="#1a1008" stroke-width="0.75" stroke-dasharray="4.6 3"/>
<text transform="translate(317.1 240.6) rotate(-67)" y="3.4" text-anchor="middle" class="cl">5</text>
<path d="M339.62 234L339.8 233L339.98 232L340.16 231L340.34 230L340.52 229L340.7 228" fill="none" stroke="#1a1008" stroke-width="0.75" stroke-dasharray="4.6 3"/>
<path d="M336.4 252L336.58 251L336.76 250L336.94 249L337.12 248L337.3 247L337.47 246L337.65 245L337.83 244L338.01 243L338.19 242" fill="none" stroke="#1a1008" stroke-width="0.75" stroke-dasharray="4.6 3"/>
<text transform="translate(338.1 237.4) rotate(-80)" y="3.4" text-anchor="middle" class="cl">1</text>
<path d="M329 90l1.7-3.4 1.7 3.4z" fill="none" stroke="#1a1008" stroke-width="0.7"/>
<rect x="417.2" y="-5" width="4.9" height="20" fill="url(#g1t)" stroke="#1a1008" stroke-width="0.3"/>
<path d="M417.2 14.5H422.1" stroke="#000" stroke-width="1.1"/>
<rect x="441.8" y="-5" width="5" height="20" fill="url(#g2t)" stroke="#1a1008" stroke-width="0.3"/>
<path d="M441.8 14.5H446.8" stroke="#000" stroke-width="1.1"/>
<rect x="417.2" y="52" width="4.9" height="137" fill="url(#g1m)" stroke="#1a1008" stroke-width="0.3"/>
<path d="M417.2 188.5H422.1" stroke="#000" stroke-width="1.1"/>
<rect x="441.8" y="52" width="5" height="137" fill="url(#g2m)" stroke="#1a1008" stroke-width="0.3"/>
<path d="M441.8 188.5H446.8" stroke="#000" stroke-width="1.1"/>
<rect x="417.2" y="228" width="4.9" height="32" fill="url(#g1u)" stroke="#1a1008" stroke-width="0.3"/>
<rect x="441.8" y="228" width="5" height="32" fill="url(#g2u)" stroke="#1a1008" stroke-width="0.3"/>
<text transform="translate(116.8 45.3) scale(1.0 1.17)" class="tt" text-anchor="middle"><tspan font-style="italic">L</tspan><tspan dx="1.3">=</tspan><tspan dx="1.3">6 Proton-rich plasma</tspan></text>
<text transform="translate(314.6 45.3) scale(1.0 1.17)" class="tt" text-anchor="middle"><tspan font-style="italic">L</tspan><tspan dx="1.3">=</tspan><tspan dx="1.3">6 Heavy ion-rich plasma</tspan></text>
<text transform="translate(116.8 221.5) scale(1.0 1.17)" class="tt" text-anchor="middle"><tspan font-style="italic">L</tspan><tspan dx="1.3">=</tspan><tspan dx="1.3">7 Proton-rich plasma</tspan></text>
<text transform="translate(314.6 221.5) scale(1.0 1.17)" class="tt" text-anchor="middle"><tspan font-style="italic">L</tspan><tspan dx="1.3">=</tspan><tspan dx="1.3">7 Heavy ion-rich plasma</tspan></text>
<text transform="translate(30.4 26.5) scale(0.97 1.2)" class="tk" text-anchor="middle">0</text>
<text transform="translate(30.4 200.2) scale(0.97 1.2)" class="tk" text-anchor="middle">0</text>
<text transform="translate(87.43 26.5) scale(0.97 1.2)" class="tk" text-anchor="middle">30</text>
<text transform="translate(87.43 200.2) scale(0.97 1.2)" class="tk" text-anchor="middle">30</text>
<text transform="translate(144.47 26.5) scale(0.97 1.2)" class="tk" text-anchor="middle">60</text>
<text transform="translate(144.47 200.2) scale(0.97 1.2)" class="tk" text-anchor="middle">60</text>
<text transform="translate(201.5 26.5) scale(0.97 1.2)" class="tk" text-anchor="middle">90</text>
<text transform="translate(201.5 200.2) scale(0.97 1.2)" class="tk" text-anchor="middle">90</text>
<text transform="translate(227.7 26.5) scale(0.97 1.2)" class="tk" text-anchor="middle">0</text>
<text transform="translate(227.7 200.2) scale(0.97 1.2)" class="tk" text-anchor="middle">0</text>
<text transform="translate(285.03 26.5) scale(0.97 1.2)" class="tk" text-anchor="middle">30</text>
<text transform="translate(285.03 200.2) scale(0.97 1.2)" class="tk" text-anchor="middle">30</text>
<text transform="translate(342.37 26.5) scale(0.97 1.2)" class="tk" text-anchor="middle">60</text>
<text transform="translate(342.37 200.2) scale(0.97 1.2)" class="tk" text-anchor="middle">60</text>
<text transform="translate(399.7 26.5) scale(0.97 1.2)" class="tk" text-anchor="middle">90</text>
<text transform="translate(399.7 200.2) scale(0.97 1.2)" class="tk" text-anchor="middle">90</text>
<text transform="translate(26.9 15.5) scale(0.97 1.2)" class="tk" text-anchor="end">1</text>
<text transform="translate(26.9 60.3) scale(0.97 1.2)" class="tk" text-anchor="end">100</text>
<text transform="translate(26.9 124.3) scale(0.97 1.2)" class="tk" text-anchor="end">10</text>
<text transform="translate(26.9 189) scale(0.97 1.2)" class="tk" text-anchor="end">1</text>
<text transform="translate(26.9 236.5) scale(0.97 1.2)" class="tk" text-anchor="end">100</text>
<text transform="translate(224 15.5) scale(0.97 1.2)" class="tk" text-anchor="end">1</text>
<text transform="translate(224 60.3) scale(0.97 1.2)" class="tk" text-anchor="end">100</text>
<text transform="translate(224 124.3) scale(0.97 1.2)" class="tk" text-anchor="end">10</text>
<text transform="translate(224 189) scale(0.97 1.2)" class="tk" text-anchor="end">1</text>
<text transform="translate(224 236.5) scale(0.97 1.2)" class="tk" text-anchor="end">100</text>
<text transform="translate(414.1 60.4) scale(0.97 1.06)" class="cb" text-anchor="end">1.0</text>
<text transform="translate(414.1 84.1) scale(0.97 1.06)" class="cb" text-anchor="end">0.8</text>
<text transform="translate(414.1 111.6) scale(0.97 1.06)" class="cb" text-anchor="end">0.6</text>
<text transform="translate(414.1 138.9) scale(0.97 1.06)" class="cb" text-anchor="end">0.4</text>
<text transform="translate(414.1 166.3) scale(0.97 1.06)" class="cb" text-anchor="end">0.2</text>
<text transform="translate(414.1 236.8) scale(0.97 1.06)" class="cb" text-anchor="end">1.0</text>
<text transform="translate(438.4 60.4) scale(0.97 1.06)" class="cb" text-anchor="end">10</text>
<text transform="translate(438.4 236.8) scale(0.97 1.06)" class="cb" text-anchor="end">10</text>
<text transform="translate(438.5 188.4) scale(0.97 1.06)" class="cb" text-anchor="end">1</text>
<text transform="translate(438.5 15) scale(0.97 1.06)" class="cb" text-anchor="end">1</text>
<text transform="translate(179.6 73.3)" class="pl" text-anchor="middle">(b)</text>
<text transform="translate(382.9 73.3)" class="pl" text-anchor="middle">(e)</text>
<text transform="translate(180.8 251.2)" class="pl" text-anchor="middle">(c)</text>
<text transform="translate(383.2 251.2)" class="pl" text-anchor="middle">(f)</text>
<text transform="translate(165 148.6) scale(1.0 1.1)" class="an" text-anchor="middle"><tspan font-style="italic">R</tspan><tspan dx=".5">&lt;</tspan><tspan dx=".4">1</tspan></text>
<text transform="translate(168 159.6) scale(1.0 1.1)" class="an" text-anchor="middle">40% of ions</text>
<text transform="translate(363.2 148.2) scale(1.0 1.1)" class="an" text-anchor="middle"><tspan font-style="italic">R</tspan><tspan dx=".5">&lt;</tspan><tspan dx=".4">1</tspan></text>
<text transform="translate(366.4 159.4) scale(1.0 1.1)" class="an" text-anchor="middle">39% of ions</text>
<text transform="translate(9.4 121) rotate(-90) scale(1 1.15)" class="yl" text-anchor="middle"><tspan font-style="italic">E</tspan><tspan font-style="italic" font-size="7" dy="2">k</tspan><tspan dy="-2"> (keV)</tspan></text>
</svg></div></body></html>
